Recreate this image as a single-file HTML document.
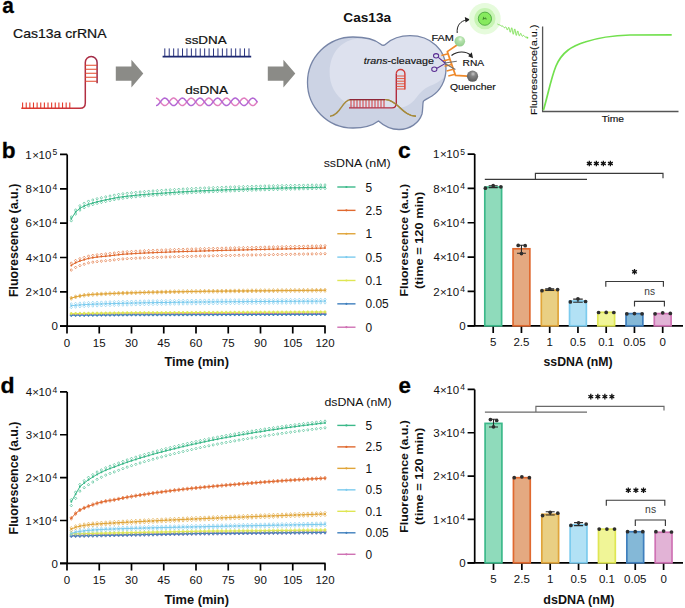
<!DOCTYPE html><html><head><meta charset="utf-8"><style>html,body{margin:0;padding:0;background:#fff;}svg{display:block;}</style></head><body><svg width="685" height="608" viewBox="0 0 685 608" font-family='"Liberation Sans", sans-serif' fill="#111">
<rect width="685" height="608" fill="#fff"/>
<g fill="#000">
<text x="0" y="0" font-size="22" transform="translate(2.29 13.4) scale(0.9463 1)" font-weight="bold" stroke="#111" stroke-width="0.3">a</text>
<text x="0" y="0" font-size="22" transform="translate(1.81 157.5) scale(1.0283 1)" font-weight="bold" stroke="#111" stroke-width="0.3">b</text>
<text x="0" y="0" font-size="22" transform="translate(397.91 157.6) scale(1.0343 1)" font-weight="bold" stroke="#111" stroke-width="0.3">c</text>
<text x="0" y="0" font-size="22" transform="translate(0.46 392.8) scale(1.0464 1)" font-weight="bold" stroke="#111" stroke-width="0.3">d</text>
<text x="0" y="0" font-size="22" transform="translate(398.43 392.9) scale(1.0166 1)" font-weight="bold" stroke="#111" stroke-width="0.3">e</text>
</g>
<defs><linearGradient id="crg" x1="0" y1="0" x2="1" y2="0"><stop offset="0" stop-color="#e23a2c"/><stop offset="0.7" stop-color="#c8333a"/><stop offset="1" stop-color="#9a2a4a"/></linearGradient><radialGradient id="famg" cx="0.55" cy="0.3" r="0.75"><stop offset="0" stop-color="#f0fbee"/><stop offset="0.3" stop-color="#b5e2ad"/><stop offset="1" stop-color="#8cc986"/></radialGradient><radialGradient id="qg" cx="0.55" cy="0.3" r="0.75"><stop offset="0" stop-color="#c8c8c8"/><stop offset="0.3" stop-color="#858585"/><stop offset="1" stop-color="#555"/></radialGradient><radialGradient id="glow" cx="0.5" cy="0.5" r="0.5"><stop offset="0" stop-color="#c2f3ad"/><stop offset="0.62" stop-color="#c9f5b8"/><stop offset="0.7" stop-color="#ddfad3"/><stop offset="1" stop-color="#eafce4"/></radialGradient></defs>
<text x="0" y="0" font-size="12" transform="translate(13.09 38.3) scale(1.1688 1)" stroke="#111" stroke-width="0.2">Cas13a crRNA</text>
<path d="M22.6 102.4V108.2M26.23 102.4V108.2M29.86 102.4V108.2M33.49 102.4V108.2M37.12 102.4V108.2M40.75 102.4V108.2M44.38 102.4V108.2M48.01 102.4V108.2M51.64 102.4V108.2M55.27 102.4V108.2M58.9 102.4V108.2M62.53 102.4V108.2M66.16 102.4V108.2M69.79 102.4V108.2" stroke="#e53b2b" stroke-width="1.1" fill="none"/>
<path d="M21.3 108.2H80 Q85.3 108.2 85.3 102.9V62.4 A5.9 5.9 0 0 1 97.1 62.4V83.2" stroke="url(#crg)" stroke-width="1.5" fill="none"/>
<path d="M85.3 65.2H97.1M85.3 69.2H97.1M85.3 73.2H97.1M85.3 77.2H97.1M85.3 81.2H97.1" stroke="#e5472b" stroke-width="1.1" fill="none"/>
<path d="M115.8 66.5H131.4V59.7L143.3 73.6L131.4 87.4V80.7H115.8Z" fill="#8b8b87"/>
<path d="M267.8 66.5H283.4V59.7L295.3 73.6L283.4 87.4V80.7H267.8Z" fill="#8b8b87"/>
<text x="0" y="0" font-size="11.6" transform="translate(184.93 43.9) scale(1.1582 1)" stroke="#111" stroke-width="0.2">ssDNA</text>
<path d="M164.8 48.4V56.5M169.23 48.4V56.5M173.66 48.4V56.5M178.09 48.4V56.5M182.52 48.4V56.5M186.95 48.4V56.5M191.38 48.4V56.5M195.81 48.4V56.5M200.24 48.4V56.5M204.67 48.4V56.5M209.1 48.4V56.5M213.53 48.4V56.5M217.96 48.4V56.5M222.39 48.4V56.5M226.82 48.4V56.5M231.25 48.4V56.5M235.68 48.4V56.5M240.11 48.4V56.5M244.54 48.4V56.5M248.97 48.4V56.5" stroke="#2a3480" stroke-width="1.0" fill="none"/>
<path d="M162.6 56.6H251.2" stroke="#1d2870" stroke-width="1.9"/>
<text x="0" y="0" font-size="11.6" transform="translate(185.13 94.2) scale(1.1730 1)" stroke="#111" stroke-width="0.2">dsDNA</text>
<polyline points="156,98.1 156.51,98.16 157.02,98.35 157.53,98.64 158.04,99.05 158.55,99.55 159.06,100.12 159.57,100.75 160.08,101.42 160.59,102.1 161.1,102.77 161.61,103.41 162.11,104 162.62,104.52 163.13,104.96 163.64,105.28 164.15,105.5 164.66,105.6 165.17,105.57 165.68,105.42 166.19,105.15 166.7,104.77 167.21,104.3 167.72,103.74 168.23,103.12 168.74,102.46 169.25,101.79 169.76,101.11 170.27,100.46 170.78,99.85 171.29,99.31 171.8,98.85 172.31,98.49 172.82,98.25 173.32,98.12 173.83,98.11 174.34,98.23 174.85,98.47 175.36,98.82 175.87,99.27 176.38,99.8 176.89,100.4 177.4,101.05 177.91,101.73 178.42,102.41 178.93,103.07 179.44,103.69 179.95,104.25 180.46,104.73 180.97,105.12 181.48,105.4 181.99,105.56 182.5,105.6 183.01,105.51 183.52,105.31 184.03,104.99 184.53,104.56 185.04,104.05 185.55,103.46 186.06,102.82 186.57,102.15 187.08,101.47 187.59,100.8 188.1,100.17 188.61,99.59 189.12,99.09 189.63,98.67 190.14,98.37 190.65,98.17 191.16,98.1 191.67,98.15 192.18,98.33 192.69,98.62 193.2,99.01 193.71,99.5 194.22,100.07 194.73,100.7 195.24,101.36 195.74,102.04 196.25,102.72 196.76,103.36 197.27,103.96 197.78,104.49 198.29,104.92 198.8,105.26 199.31,105.49 199.82,105.59 200.33,105.57 200.84,105.43 201.35,105.17 201.86,104.8 202.37,104.34 202.88,103.79 203.39,103.18 203.9,102.52 204.41,101.84 204.92,101.16 205.43,100.51 205.94,99.9 206.45,99.35 206.95,98.88 207.46,98.52 207.97,98.26 208.48,98.12 208.99,98.11 209.5,98.22 210.01,98.45 210.52,98.79 211.03,99.23 211.54,99.76 212.05,100.35 212.56,101 213.07,101.68 213.58,102.36 214.09,103.02 214.6,103.64 215.11,104.21 215.62,104.7 216.13,105.09 216.64,105.38 217.15,105.55 217.66,105.6 218.16,105.52 218.67,105.33 219.18,105.02 219.69,104.6 220.2,104.09 220.71,103.51 221.22,102.88 221.73,102.21 222.24,101.53 222.75,100.86 223.26,100.22 223.77,99.64 224.28,99.12 224.79,98.7 225.3,98.39 225.81,98.18 226.32,98.1 226.83,98.14 227.34,98.31 227.85,98.59 228.36,98.98 228.87,99.46 229.37,100.02 229.88,100.65 230.39,101.31 230.9,101.99 231.41,102.66 231.92,103.31 232.43,103.91 232.94,104.45 233.45,104.89 233.96,105.24 234.47,105.47 234.98,105.59 235.49,105.58 236,105.45 236.51,105.2 237.02,104.84 237.53,104.38 238.04,103.84 238.55,103.23 239.06,102.57 239.57,101.9 240.08,101.22 240.58,100.56 241.09,99.94 241.6,99.39 242.11,98.92 242.62,98.54 243.13,98.28 243.64,98.13 244.15,98.11 244.66,98.2 245.17,98.42 245.68,98.75 246.19,99.19 246.7,99.71 247.21,100.3 247.72,100.95 248.23,101.62 248.74,102.3 249.25,102.97 249.76,103.6 250.27,104.17 250.78,104.66 251.29,105.07 251.79,105.36 252.3,105.54 252.81,105.6 253.32,105.53 253.83,105.35 254.34,105.05 254.85,104.64 255.36,104.14 255.87,103.56 256.38,102.93 256.89,102.26 257.4,101.58" fill="none" stroke="#e07ec0" stroke-width="1.5"/>
<polyline points="156,105.6 156.51,105.54 157.02,105.35 157.53,105.06 158.04,104.65 158.55,104.15 159.06,103.58 159.57,102.95 160.08,102.28 160.59,101.6 161.1,100.93 161.61,100.29 162.11,99.7 162.62,99.18 163.13,98.74 163.64,98.42 164.15,98.2 164.66,98.1 165.17,98.13 165.68,98.28 166.19,98.55 166.7,98.93 167.21,99.4 167.72,99.96 168.23,100.58 168.74,101.24 169.25,101.91 169.76,102.59 170.27,103.24 170.78,103.85 171.29,104.39 171.8,104.85 172.31,105.21 172.82,105.45 173.32,105.58 173.83,105.59 174.34,105.47 174.85,105.23 175.36,104.88 175.87,104.43 176.38,103.9 176.89,103.3 177.4,102.65 177.91,101.97 178.42,101.29 178.93,100.63 179.44,100.01 179.95,99.45 180.46,98.97 180.97,98.58 181.48,98.3 181.99,98.14 182.5,98.1 183.01,98.19 183.52,98.39 184.03,98.71 184.53,99.14 185.04,99.65 185.55,100.24 186.06,100.88 186.57,101.55 187.08,102.23 187.59,102.9 188.1,103.53 188.61,104.11 189.12,104.61 189.63,105.03 190.14,105.33 190.65,105.53 191.16,105.6 191.67,105.55 192.18,105.37 192.69,105.08 193.2,104.69 193.71,104.2 194.22,103.63 194.73,103 195.24,102.34 195.74,101.66 196.25,100.98 196.76,100.34 197.27,99.74 197.78,99.21 198.29,98.78 198.8,98.44 199.31,98.21 199.82,98.11 200.33,98.13 200.84,98.27 201.35,98.53 201.86,98.9 202.37,99.36 202.88,99.91 203.39,100.52 203.9,101.18 204.41,101.86 204.92,102.54 205.43,103.19 205.94,103.8 206.45,104.35 206.95,104.82 207.46,105.18 207.97,105.44 208.48,105.58 208.99,105.59 209.5,105.48 210.01,105.25 210.52,104.91 211.03,104.47 211.54,103.94 212.05,103.35 212.56,102.7 213.07,102.02 213.58,101.34 214.09,100.68 214.6,100.06 215.11,99.49 215.62,99 216.13,98.61 216.64,98.32 217.15,98.15 217.66,98.1 218.16,98.18 218.67,98.37 219.18,98.68 219.69,99.1 220.2,99.61 220.71,100.19 221.22,100.82 221.73,101.49 222.24,102.17 222.75,102.84 223.26,103.48 223.77,104.06 224.28,104.58 224.79,105 225.3,105.31 225.81,105.52 226.32,105.6 226.83,105.56 227.34,105.39 227.85,105.11 228.36,104.72 228.87,104.24 229.37,103.68 229.88,103.05 230.39,102.39 230.9,101.71 231.41,101.04 231.92,100.39 232.43,99.79 232.94,99.25 233.45,98.81 233.96,98.46 234.47,98.23 234.98,98.11 235.49,98.12 236,98.25 236.51,98.5 237.02,98.86 237.53,99.32 238.04,99.86 238.55,100.47 239.06,101.13 239.57,101.8 240.08,102.48 240.58,103.14 241.09,103.76 241.6,104.31 242.11,104.78 242.62,105.16 243.13,105.42 243.64,105.57 244.15,105.59 244.66,105.5 245.17,105.28 245.68,104.95 246.19,104.51 246.7,103.99 247.21,103.4 247.72,102.75 248.23,102.08 248.74,101.4 249.25,100.73 249.76,100.1 250.27,99.53 250.78,99.04 251.29,98.63 251.79,98.34 252.3,98.16 252.81,98.1 253.32,98.17 253.83,98.35 254.34,98.65 254.85,99.06 255.36,99.56 255.87,100.14 256.38,100.77 256.89,101.44 257.4,102.12" fill="none" stroke="#b468d4" stroke-width="1.5"/>
<text x="0" y="0" font-size="12.4" transform="translate(343.34 22.4) scale(1.0998 1)" font-weight="bold">Cas13a</text>
<path d="M385.6 44.2 C392 38.5 400 35.7 410 35.7 C431 35.7 446 50 446 68.5 C446 81 440 91 432 96 C428 98.5 424 100 423.3 101.5 C422.5 104 423 110 422 114 C419 123 410 129.5 399 129.5 C391 129.5 384 126 378.5 121 C372 126 364 128 353 128 A45.5 45.5 0 0 1 353 37 C366 37 375 39.5 380.8 44.2 Q383.2 46.3 385.6 44.2 Z" fill="#ccd3e4"/>
<path d="M329.6 72 C330 52 342 40 358 38.5 C370 38 376 40.5 380.8 44.2 Q383.2 46.3 385.6 44.2 C392 38.5 400 35.7 410 35.7 C431 35.7 446 50 446 68.5 C446 74 444 78 441 80 C436 84 431 85 426 88 C419 92 416 100 410 104 C404 108 400 108 392 108.5 C375 110 355 108 345 102 C335 95 329.6 85 329.6 72 Z" fill="#dde1ee"/>
<path d="M385.6 44.2 C392 38.5 400 35.7 410 35.7 C431 35.7 446 50 446 68.5 C446 81 440 91 432 96 C428 98.5 424 100 423.3 101.5 C422.5 104 423 110 422 114 C419 123 410 129.5 399 129.5 C391 129.5 384 126 378.5 121 C372 126 364 128 353 128 A45.5 45.5 0 0 1 353 37 C366 37 375 39.5 380.8 44.2 Q383.2 46.3 385.6 44.2 Z" fill="none" stroke="#7785a7" stroke-width="1.3"/>
<path d="M351 100V107.5M354 100V107.5M357 100V107.5M360 100V107.5M363 100V107.5M366 100V107.5M369 100V107.5M372 100V107.5M375 100V107.5M378 100V107.5M381 100V107.5M384 100V107.5" stroke="#d4383a" stroke-width="1.0" fill="none"/>
<path d="M330 116.3 C341 115 342 99.6 351 99.6 L386 99.6 C397 99.6 403 116.3 416 116.3" stroke="#a68a3c" stroke-width="1.4" fill="none"/>
<path d="M349.5 99.6H385" stroke="#8f2638" stroke-width="1.3"/>
<path d="M349 107.9H392 Q396.3 107.9 396.3 103V73.8" stroke="#b02c40" stroke-width="1.4" fill="none"/><path d="M396.3 73.8 A4.3 4.3 0 0 1 404.9 73.8V89.4" stroke="#d23a36" stroke-width="1.4" fill="none"/>
<path d="M396.3 76H404.9M396.3 78.6H404.9M396.3 81.2H404.9M396.3 83.8H404.9M396.3 86.4H404.9M396.3 89H404.9" stroke="#e5472b" stroke-width="0.9" fill="none"/>
<path d="M386 99.6 C397 99.6 403 116.3 416 116.3" stroke="#a68a3c" stroke-width="1.4" fill="none"/>
<text x="0" y="0" font-size="9.6" transform="translate(363.74 63.9) scale(1.1171 1)" stroke="#111" stroke-width="0.15"><tspan font-style="italic">trans</tspan>-cleavage</text>
<path d="M457 45 L447.3 51.6 L455.5 75.4 L467.5 76.2" stroke="#ef8a2b" stroke-width="1.7" fill="none" stroke-linejoin="round"/>
<path d="M441.4 55.6L448.2 53.8M443 60.9L450 59.3M444.6 66.2L451.6 64.6M446.6 71L453.4 69.3M448.3 76L455.2 74.3" stroke="#ef8a2b" stroke-width="1.5" fill="none"/>
<circle cx="459.8" cy="41.3" r="5.3" fill="url(#famg)"/>
<circle cx="472.5" cy="76.2" r="5.6" fill="url(#qg)"/>
<text x="0" y="0" font-size="9.2" transform="translate(431.41 41.2) scale(1.1837 1)" stroke="#111" stroke-width="0.15">FAM</text>
<text x="0" y="0" font-size="9.2" transform="translate(462.56 66) scale(1.1152 1)" stroke="#111" stroke-width="0.15">RNA</text>
<text x="0" y="0" font-size="9.2" transform="translate(449.91 90) scale(1.1353 1)" stroke="#111" stroke-width="0.15">Quencher</text>
<path d="M457.2 33 C456.5 25.5 460.5 21 466.5 20" stroke="#222" stroke-width="1" fill="none"/>
<path d="M470 19.6 L464.8 17 L465.6 22.6Z" fill="#222"/>
<path d="M451.5 55.5 C457 51 466 50.5 471 55.5" stroke="#222" stroke-width="1.1" fill="none"/>
<path d="M473 58.3 L468.2 56.2 L471.8 52.3Z" fill="#222"/>
<path d="M444.9 63 L456.8 61.3 M444.9 63.6 L455.4 69.6" stroke="#6f6f6f" stroke-width="1.1" fill="none"/>
<g fill="none" stroke="#5b2e93" stroke-width="1.05"><ellipse cx="436.1" cy="55.8" rx="2.6" ry="2.2"/><ellipse cx="434.3" cy="69.2" rx="2.6" ry="2.2"/><path d="M438.3 57.4 L445 63 M437 68.3 L445 63.6"/></g>
<circle cx="484.9" cy="18.7" r="15.8" fill="#e6fbdc"/>
<circle cx="484.9" cy="18.7" r="10.6" fill="#c6f4b2"/>
<circle cx="484.9" cy="18.7" r="6.6" fill="#86ea5e" stroke="#3f9e34" stroke-width="0.8"/>
<path d="M483.4 17 H486.6 M485 17 V20.6 M485 18.8 H486.4" stroke="#1f5a14" stroke-width="0.55" fill="none" transform="rotate(-80 485 18.7)"/>
<polyline points="497.4,24 497.53,24.06 497.65,24.13 497.78,24.19 497.91,24.26 498.03,24.32 498.16,24.38 498.28,24.44 498.41,24.5 498.54,24.55 498.66,24.6 498.79,24.65 498.92,24.69 499.04,24.73 499.17,24.78 499.3,24.82 499.42,24.86 499.55,24.91 499.67,24.96 499.8,25.01 499.93,25.08 500.05,25.14 500.18,25.22 500.31,25.3 500.43,25.39 500.56,25.48 500.69,25.57 500.81,25.66 500.94,25.75 501.06,25.83 501.19,25.9 501.32,25.96 501.44,26.01 501.57,26.04 501.7,26.06 501.82,26.07 501.95,26.07 502.08,26.06 502.2,26.05 502.33,26.05 502.45,26.05 502.58,26.07 502.71,26.11 502.83,26.16 502.96,26.24 503.09,26.35 503.21,26.48 503.34,26.63 503.47,26.79 503.59,26.97 503.72,27.14 503.84,27.31 503.97,27.46 504.1,27.58 504.22,27.68 504.35,27.73 504.48,27.74 504.6,27.71 504.73,27.64 504.86,27.54 504.98,27.42 505.11,27.28 505.23,27.15 505.36,27.03 505.49,26.94 505.61,26.9 505.74,26.91 505.87,26.98 505.99,27.12 506.12,27.33 506.25,27.59 506.37,27.9 506.5,28.25 506.62,28.6 506.75,28.95 506.88,29.27 507,29.54 507.13,29.73 507.26,29.85 507.38,29.87 507.51,29.79 507.64,29.62 507.76,29.37 507.89,29.06 508.01,28.7 508.14,28.34 508.27,27.99 508.39,27.69 508.52,27.47 508.65,27.35 508.77,27.35 508.9,27.48 509.03,27.74 509.15,28.12 509.28,28.6 509.4,29.16 509.53,29.76 509.66,30.37 509.78,30.95 509.91,31.46 510.04,31.86 510.16,32.12 510.29,32.23 510.42,32.17 510.54,31.96 510.67,31.59 510.79,31.11 510.92,30.54 511.05,29.93 511.17,29.32 511.3,28.77 511.43,28.31 511.55,27.98 511.68,27.82 511.81,27.85 511.93,28.07 512.06,28.47 512.18,29.03 512.31,29.72 512.44,30.49 512.56,31.31 512.69,32.1 512.82,32.83 512.94,33.44 513.07,33.89 513.19,34.16 513.32,34.22 513.45,34.08 513.57,33.75 513.7,33.25 513.83,32.62 513.95,31.92 514.08,31.19 514.21,30.49 514.33,29.88 514.46,29.39 514.58,29.08 514.71,28.95 514.84,29.04 514.96,29.32 515.09,29.79 515.22,30.42 515.34,31.15 515.47,31.95 515.6,32.77 515.72,33.54 515.85,34.22 515.97,34.76 516.1,35.14 516.23,35.34 516.35,35.35 516.48,35.17 516.61,34.83 516.73,34.36 516.86,33.8 516.99,33.19 517.11,32.58 517.24,32.02 517.36,31.54 517.49,31.19 517.62,30.99 517.74,30.96 517.87,31.08 518,31.36 518.12,31.77 518.25,32.28 518.38,32.87 518.5,33.48 518.63,34.08 518.75,34.63 518.88,35.11 519.01,35.47 519.13,35.72 519.26,35.83 519.39,35.82 519.51,35.69 519.64,35.46 519.77,35.16 519.89,34.81 520.02,34.44 520.14,34.09 520.27,33.78 520.4,33.54 520.52,33.38 520.65,33.31 520.78,33.34 520.9,33.46 521.03,33.67 521.16,33.94 521.28,34.26 521.41,34.61 521.53,34.97 521.66,35.31 521.79,35.62 521.91,35.87 522.04,36.07 522.17,36.21 522.29,36.27 522.42,36.28 522.55,36.23 522.67,36.14 522.8,36.02 522.92,35.89 523.05,35.75 523.18,35.63 523.3,35.53 523.43,35.46 523.56,35.44 523.68,35.45 523.81,35.51 523.94,35.61 524.06,35.73 524.19,35.89 524.31,36.05 524.44,36.23 524.57,36.4 524.69,36.57 524.82,36.71 524.95,36.84 525.07,36.94 525.2,37.02 525.33,37.08 525.45,37.11 525.58,37.13 525.7,37.13 525.83,37.12 525.96,37.12 526.08,37.11 526.21,37.11 526.34,37.12 526.46,37.14 526.59,37.18 526.72,37.23 526.84,37.29 526.97,37.36 527.09,37.44 527.22,37.53 527.35,37.62 527.47,37.71 527.6,37.8" fill="none" stroke="#78e24e" stroke-width="1.0"/>
<circle cx="527.4" cy="37.7" r="0.9" fill="#78e24e"/>
<path d="M542.6 26.6V111.5H678.5" stroke="#555" stroke-width="1.3" fill="none"/>
<path d="M543.4 110.3 C548 95 551 78 556 66 C562 52 572 46 585 42 C600 37 612 35.5 630 35 L671.7 34.9" stroke="#72e04e" stroke-width="1.7" fill="none"/>
<text x="0" y="0" font-size="8.6" transform="translate(537.3 114.99) rotate(-90) scale(1.2617 1)" stroke="#111" stroke-width="0.1">Fluorescence(a.u.)</text>
<text x="0" y="0" font-size="9.2" transform="translate(601.67 121.5) scale(1.1146 1)" stroke="#111" stroke-width="0.15">Time</text>
<path d="M67.2 154.45V326.2M60 326.2H325.6" stroke="#000" stroke-width="1.7" fill="none"/><path d="M60 326.2H67.2M60 291.85H67.2M60 257.5H67.2M60 223.15H67.2M60 188.8H67.2M60 154.45H67.2M67 326.2V333.4M99.25 326.2V333.4M131.5 326.2V333.4M163.75 326.2V333.4M196 326.2V333.4M228.25 326.2V333.4M260.5 326.2V333.4M292.75 326.2V333.4M325 326.2V333.4" stroke="#000" stroke-width="1.7" fill="none"/><text x="57.85" y="330.4" font-size="11.5" text-anchor="end">0</text><text x="25.52 32.3 38.52 45.05" y="296.05" font-size="11.5">2×10</text><text x="52.6" y="292.85" font-size="8.5">4</text><text x="25.84 32.3 38.52 45.05" y="261.7" font-size="11.5">4×10</text><text x="52.6" y="258.5" font-size="8.5">4</text><text x="25.52 32.3 38.52 45.05" y="227.35" font-size="11.5">6×10</text><text x="52.6" y="224.15" font-size="8.5">4</text><text x="25.6 32.3 38.52 45.05" y="193" font-size="11.5">8×10</text><text x="52.6" y="189.8" font-size="8.5">4</text><text x="25.22 32.3 38.52 45.05" y="158.65" font-size="11.5">1×10</text><text x="52.46" y="155.45" font-size="8.5">5</text><text x="67" y="347" font-size="11.5" text-anchor="middle">0</text><text x="99.25" y="347" font-size="11.5" text-anchor="middle">15</text><text x="131.5" y="347" font-size="11.5" text-anchor="middle">30</text><text x="163.75" y="347" font-size="11.5" text-anchor="middle">45</text><text x="196" y="347" font-size="11.5" text-anchor="middle">60</text><text x="228.25" y="347" font-size="11.5" text-anchor="middle">75</text><text x="260.5" y="347" font-size="11.5" text-anchor="middle">90</text><text x="292.75" y="347" font-size="11.5" text-anchor="middle">105</text><text x="325" y="347" font-size="11.5" text-anchor="middle">120</text><text x="0" y="0" font-size="12.2" transform="translate(164.46 366.3) scale(1.0503 1)" font-weight="bold">Time (min)</text><text x="0" y="0" font-size="12" transform="translate(18.1 297.03) rotate(-90) scale(1.0364 1)" font-weight="bold">Fluorescence (a.u.)</text><text x="0" y="0" font-size="11.6" transform="translate(323.65 166.6) scale(1.0723 1)">ssDNA (nM)</text><path d="M337.3 187H355.5" stroke="#3cb98a" stroke-width="1.4"/><circle cx="346.4" cy="187" r="1.1" fill="#3cb98a"/><text x="365.6" y="191.6" font-size="11.9">5</text><path d="M337.3 210.37H355.5" stroke="#e0692f" stroke-width="1.4"/><circle cx="346.4" cy="210.37" r="1.1" fill="#e0692f"/><text x="365.6" y="214.97" font-size="11.9">2.5</text><path d="M337.3 233.74H355.5" stroke="#e0a53a" stroke-width="1.4"/><circle cx="346.4" cy="233.74" r="1.1" fill="#e0a53a"/><text x="365.6" y="238.34" font-size="11.9">1</text><path d="M337.3 257.11H355.5" stroke="#7ccbee" stroke-width="1.4"/><circle cx="346.4" cy="257.11" r="1.1" fill="#7ccbee"/><text x="365.6" y="261.71" font-size="11.9">0.5</text><path d="M337.3 280.48H355.5" stroke="#dfe653" stroke-width="1.4"/><circle cx="346.4" cy="280.48" r="1.1" fill="#dfe653"/><text x="365.6" y="285.08" font-size="11.9">0.1</text><path d="M337.3 303.85H355.5" stroke="#3f7fbd" stroke-width="1.4"/><circle cx="346.4" cy="303.85" r="1.1" fill="#3f7fbd"/><text x="365.6" y="308.45" font-size="11.9">0.05</text><path d="M337.3 327.22H355.5" stroke="#cf72b4" stroke-width="1.4"/><circle cx="346.4" cy="327.22" r="1.1" fill="#cf72b4"/><text x="365.6" y="331.82" font-size="11.9">0</text>
<path d="M70.15 314.09L71.3 312.74L72.45 314.09L71.3 315.44ZM74.45 314.06L75.6 312.71L76.75 314.06L75.6 315.41ZM78.75 314.03L79.9 312.68L81.05 314.03L79.9 315.38ZM83.05 313.99L84.2 312.64L85.35 313.99L84.2 315.34ZM87.35 313.96L88.5 312.61L89.65 313.96L88.5 315.31ZM91.65 313.93L92.8 312.58L93.95 313.93L92.8 315.28ZM95.95 313.89L97.1 312.54L98.25 313.89L97.1 315.24ZM100.25 313.86L101.4 312.51L102.55 313.86L101.4 315.21ZM104.55 313.83L105.7 312.48L106.85 313.83L105.7 315.18ZM108.85 313.79L110 312.44L111.15 313.79L110 315.14ZM113.15 313.76L114.3 312.41L115.45 313.76L114.3 315.11ZM117.45 313.73L118.6 312.38L119.75 313.73L118.6 315.08ZM121.75 313.69L122.9 312.34L124.05 313.69L122.9 315.04ZM126.05 313.66L127.2 312.31L128.35 313.66L127.2 315.01ZM130.35 313.63L131.5 312.28L132.65 313.63L131.5 314.98ZM134.65 313.62L135.8 312.27L136.95 313.62L135.8 314.97ZM138.95 313.61L140.1 312.26L141.25 313.61L140.1 314.96ZM143.25 313.6L144.4 312.25L145.55 313.6L144.4 314.95ZM147.55 313.59L148.7 312.24L149.85 313.59L148.7 314.94ZM151.85 313.58L153 312.23L154.15 313.58L153 314.93ZM156.15 313.57L157.3 312.22L158.45 313.57L157.3 314.92ZM160.45 313.56L161.6 312.21L162.75 313.56L161.6 314.91ZM164.75 313.55L165.9 312.2L167.05 313.55L165.9 314.9ZM169.05 313.54L170.2 312.19L171.35 313.54L170.2 314.89ZM173.35 313.53L174.5 312.18L175.65 313.53L174.5 314.88ZM177.65 313.52L178.8 312.17L179.95 313.52L178.8 314.87ZM181.95 313.51L183.1 312.16L184.25 313.51L183.1 314.86ZM186.25 313.5L187.4 312.15L188.55 313.5L187.4 314.85ZM190.55 313.49L191.7 312.14L192.85 313.49L191.7 314.84ZM194.85 313.48L196 312.13L197.15 313.48L196 314.83ZM199.15 313.48L200.3 312.13L201.45 313.48L200.3 314.83ZM203.45 313.47L204.6 312.12L205.75 313.47L204.6 314.82ZM207.75 313.46L208.9 312.11L210.05 313.46L208.9 314.81ZM212.05 313.45L213.2 312.1L214.35 313.45L213.2 314.8ZM216.35 313.44L217.5 312.09L218.65 313.44L217.5 314.79ZM220.65 313.43L221.8 312.08L222.95 313.43L221.8 314.78ZM224.95 313.42L226.1 312.07L227.25 313.42L226.1 314.77ZM229.25 313.41L230.4 312.06L231.55 313.41L230.4 314.76ZM233.55 313.4L234.7 312.05L235.85 313.4L234.7 314.75ZM237.85 313.39L239 312.04L240.15 313.39L239 314.74ZM242.15 313.38L243.3 312.03L244.45 313.38L243.3 314.73ZM246.45 313.37L247.6 312.02L248.75 313.37L247.6 314.72ZM250.75 313.36L251.9 312.01L253.05 313.36L251.9 314.71ZM255.05 313.35L256.2 312L257.35 313.35L256.2 314.7ZM259.35 313.34L260.5 311.99L261.65 313.34L260.5 314.69ZM263.65 313.33L264.8 311.98L265.95 313.33L264.8 314.68ZM267.95 313.32L269.1 311.97L270.25 313.32L269.1 314.67ZM272.25 313.31L273.4 311.96L274.55 313.31L273.4 314.66ZM276.55 313.3L277.7 311.95L278.85 313.3L277.7 314.65ZM280.85 313.29L282 311.94L283.15 313.29L282 314.64ZM285.15 313.28L286.3 311.93L287.45 313.28L286.3 314.63ZM289.45 313.27L290.6 311.92L291.75 313.27L290.6 314.62ZM293.75 313.27L294.9 311.92L296.05 313.27L294.9 314.62ZM298.05 313.26L299.2 311.91L300.35 313.26L299.2 314.61ZM302.35 313.25L303.5 311.9L304.65 313.25L303.5 314.6ZM306.65 313.24L307.8 311.89L308.95 313.24L307.8 314.59ZM310.95 313.23L312.1 311.88L313.25 313.23L312.1 314.58ZM315.25 313.22L316.4 311.87L317.55 313.22L316.4 314.57ZM319.55 313.21L320.7 311.86L321.85 313.21L320.7 314.56ZM323.85 313.2L325 311.85L326.15 313.2L325 314.55ZM70.15 314.5L71.3 313.15L72.45 314.5L71.3 315.85ZM74.45 314.47L75.6 313.12L76.75 314.47L75.6 315.82ZM78.75 314.44L79.9 313.09L81.05 314.44L79.9 315.79ZM83.05 314.4L84.2 313.05L85.35 314.4L84.2 315.75ZM87.35 314.37L88.5 313.02L89.65 314.37L88.5 315.72ZM91.65 314.34L92.8 312.99L93.95 314.34L92.8 315.69ZM95.95 314.31L97.1 312.96L98.25 314.31L97.1 315.66ZM100.25 314.27L101.4 312.92L102.55 314.27L101.4 315.62ZM104.55 314.24L105.7 312.89L106.85 314.24L105.7 315.59ZM108.85 314.21L110 312.86L111.15 314.21L110 315.56ZM113.15 314.17L114.3 312.82L115.45 314.17L114.3 315.52ZM117.45 314.14L118.6 312.79L119.75 314.14L118.6 315.49ZM121.75 314.11L122.9 312.76L124.05 314.11L122.9 315.46ZM126.05 314.07L127.2 312.72L128.35 314.07L127.2 315.42ZM130.35 314.04L131.5 312.69L132.65 314.04L131.5 315.39ZM134.65 314.03L135.8 312.68L136.95 314.03L135.8 315.38ZM138.95 314.02L140.1 312.67L141.25 314.02L140.1 315.37ZM143.25 314.01L144.4 312.66L145.55 314.01L144.4 315.36ZM147.55 314L148.7 312.65L149.85 314L148.7 315.35ZM151.85 313.99L153 312.64L154.15 313.99L153 315.34ZM156.15 313.98L157.3 312.63L158.45 313.98L157.3 315.33ZM160.45 313.97L161.6 312.62L162.75 313.97L161.6 315.32ZM164.75 313.96L165.9 312.61L167.05 313.96L165.9 315.31ZM169.05 313.95L170.2 312.6L171.35 313.95L170.2 315.3ZM173.35 313.94L174.5 312.59L175.65 313.94L174.5 315.29ZM177.65 313.94L178.8 312.59L179.95 313.94L178.8 315.29ZM181.95 313.93L183.1 312.58L184.25 313.93L183.1 315.28ZM186.25 313.92L187.4 312.57L188.55 313.92L187.4 315.27ZM190.55 313.91L191.7 312.56L192.85 313.91L191.7 315.26ZM194.85 313.9L196 312.55L197.15 313.9L196 315.25ZM199.15 313.89L200.3 312.54L201.45 313.89L200.3 315.24ZM203.45 313.88L204.6 312.53L205.75 313.88L204.6 315.23ZM207.75 313.87L208.9 312.52L210.05 313.87L208.9 315.22ZM212.05 313.86L213.2 312.51L214.35 313.86L213.2 315.21ZM216.35 313.85L217.5 312.5L218.65 313.85L217.5 315.2ZM220.65 313.84L221.8 312.49L222.95 313.84L221.8 315.19ZM224.95 313.83L226.1 312.48L227.25 313.83L226.1 315.18ZM229.25 313.82L230.4 312.47L231.55 313.82L230.4 315.17ZM233.55 313.81L234.7 312.46L235.85 313.81L234.7 315.16ZM237.85 313.8L239 312.45L240.15 313.8L239 315.15ZM242.15 313.79L243.3 312.44L244.45 313.79L243.3 315.14ZM246.45 313.78L247.6 312.43L248.75 313.78L247.6 315.13ZM250.75 313.77L251.9 312.42L253.05 313.77L251.9 315.12ZM255.05 313.76L256.2 312.41L257.35 313.76L256.2 315.11ZM259.35 313.75L260.5 312.4L261.65 313.75L260.5 315.1ZM263.65 313.74L264.8 312.39L265.95 313.74L264.8 315.09ZM267.95 313.73L269.1 312.38L270.25 313.73L269.1 315.08ZM272.25 313.73L273.4 312.38L274.55 313.73L273.4 315.08ZM276.55 313.72L277.7 312.37L278.85 313.72L277.7 315.07ZM280.85 313.71L282 312.36L283.15 313.71L282 315.06ZM285.15 313.7L286.3 312.35L287.45 313.7L286.3 315.05ZM289.45 313.69L290.6 312.34L291.75 313.69L290.6 315.04ZM293.75 313.68L294.9 312.33L296.05 313.68L294.9 315.03ZM298.05 313.67L299.2 312.32L300.35 313.67L299.2 315.02ZM302.35 313.66L303.5 312.31L304.65 313.66L303.5 315.01ZM306.65 313.65L307.8 312.3L308.95 313.65L307.8 315ZM310.95 313.64L312.1 312.29L313.25 313.64L312.1 314.99ZM315.25 313.63L316.4 312.28L317.55 313.63L316.4 314.98ZM319.55 313.62L320.7 312.27L321.85 313.62L320.7 314.97ZM323.85 313.61L325 312.26L326.15 313.61L325 314.96Z" fill="none" stroke="#cf72b4" stroke-width="0.65"/><polyline points="71.3,314.3 75.6,314.26 79.9,314.23 84.2,314.2 88.5,314.17 92.8,314.13 97.1,314.1 101.4,314.07 105.7,314.03 110,314 114.3,313.97 118.6,313.93 122.9,313.9 127.2,313.87 131.5,313.83 135.8,313.82 140.1,313.81 144.4,313.81 148.7,313.8 153,313.79 157.3,313.78 161.6,313.77 165.9,313.76 170.2,313.75 174.5,313.74 178.8,313.73 183.1,313.72 187.4,313.71 191.7,313.7 196,313.69 200.3,313.68 204.6,313.67 208.9,313.66 213.2,313.65 217.5,313.64 221.8,313.63 226.1,313.62 230.4,313.61 234.7,313.6 239,313.6 243.3,313.59 247.6,313.58 251.9,313.57 256.2,313.56 260.5,313.55 264.8,313.54 269.1,313.53 273.4,313.52 277.7,313.51 282,313.5 286.3,313.49 290.6,313.48 294.9,313.47 299.2,313.46 303.5,313.45 307.8,313.44 312.1,313.43 316.4,313.42 320.7,313.41 325,313.4" fill="none" stroke="#cf72b4" stroke-width="1.0"/><g fill="#cf72b4"><circle cx="71.3" cy="314.3" r="1.0"/><circle cx="75.6" cy="314.26" r="1.0"/><circle cx="79.9" cy="314.23" r="1.0"/><circle cx="84.2" cy="314.2" r="1.0"/><circle cx="88.5" cy="314.17" r="1.0"/><circle cx="92.8" cy="314.13" r="1.0"/><circle cx="97.1" cy="314.1" r="1.0"/><circle cx="101.4" cy="314.07" r="1.0"/><circle cx="105.7" cy="314.03" r="1.0"/><circle cx="110" cy="314" r="1.0"/><circle cx="114.3" cy="313.97" r="1.0"/><circle cx="118.6" cy="313.93" r="1.0"/><circle cx="122.9" cy="313.9" r="1.0"/><circle cx="127.2" cy="313.87" r="1.0"/><circle cx="131.5" cy="313.83" r="1.0"/><circle cx="135.8" cy="313.82" r="1.0"/><circle cx="140.1" cy="313.81" r="1.0"/><circle cx="144.4" cy="313.81" r="1.0"/><circle cx="148.7" cy="313.8" r="1.0"/><circle cx="153" cy="313.79" r="1.0"/><circle cx="157.3" cy="313.78" r="1.0"/><circle cx="161.6" cy="313.77" r="1.0"/><circle cx="165.9" cy="313.76" r="1.0"/><circle cx="170.2" cy="313.75" r="1.0"/><circle cx="174.5" cy="313.74" r="1.0"/><circle cx="178.8" cy="313.73" r="1.0"/><circle cx="183.1" cy="313.72" r="1.0"/><circle cx="187.4" cy="313.71" r="1.0"/><circle cx="191.7" cy="313.7" r="1.0"/><circle cx="196" cy="313.69" r="1.0"/><circle cx="200.3" cy="313.68" r="1.0"/><circle cx="204.6" cy="313.67" r="1.0"/><circle cx="208.9" cy="313.66" r="1.0"/><circle cx="213.2" cy="313.65" r="1.0"/><circle cx="217.5" cy="313.64" r="1.0"/><circle cx="221.8" cy="313.63" r="1.0"/><circle cx="226.1" cy="313.62" r="1.0"/><circle cx="230.4" cy="313.61" r="1.0"/><circle cx="234.7" cy="313.6" r="1.0"/><circle cx="239" cy="313.6" r="1.0"/><circle cx="243.3" cy="313.59" r="1.0"/><circle cx="247.6" cy="313.58" r="1.0"/><circle cx="251.9" cy="313.57" r="1.0"/><circle cx="256.2" cy="313.56" r="1.0"/><circle cx="260.5" cy="313.55" r="1.0"/><circle cx="264.8" cy="313.54" r="1.0"/><circle cx="269.1" cy="313.53" r="1.0"/><circle cx="273.4" cy="313.52" r="1.0"/><circle cx="277.7" cy="313.51" r="1.0"/><circle cx="282" cy="313.5" r="1.0"/><circle cx="286.3" cy="313.49" r="1.0"/><circle cx="290.6" cy="313.48" r="1.0"/><circle cx="294.9" cy="313.47" r="1.0"/><circle cx="299.2" cy="313.46" r="1.0"/><circle cx="303.5" cy="313.45" r="1.0"/><circle cx="307.8" cy="313.44" r="1.0"/><circle cx="312.1" cy="313.43" r="1.0"/><circle cx="316.4" cy="313.42" r="1.0"/><circle cx="320.7" cy="313.41" r="1.0"/><circle cx="325" cy="313.4" r="1.0"/></g>
<path d="M70.15 315.09L71.3 313.74L72.45 315.09L71.3 316.44ZM74.45 315.05L75.6 313.7L76.75 315.05L75.6 316.4ZM78.75 315.01L79.9 313.66L81.05 315.01L79.9 316.36ZM83.05 314.98L84.2 313.63L85.35 314.98L84.2 316.33ZM87.35 314.94L88.5 313.59L89.65 314.94L88.5 316.29ZM91.65 314.9L92.8 313.55L93.95 314.9L92.8 316.25ZM95.95 314.87L97.1 313.52L98.25 314.87L97.1 316.22ZM100.25 314.83L101.4 313.48L102.55 314.83L101.4 316.18ZM104.55 314.79L105.7 313.44L106.85 314.79L105.7 316.14ZM108.85 314.76L110 313.41L111.15 314.76L110 316.11ZM113.15 314.72L114.3 313.37L115.45 314.72L114.3 316.07ZM117.45 314.68L118.6 313.33L119.75 314.68L118.6 316.03ZM121.75 314.65L122.9 313.3L124.05 314.65L122.9 316ZM126.05 314.61L127.2 313.26L128.35 314.61L127.2 315.96ZM130.35 314.57L131.5 313.22L132.65 314.57L131.5 315.92ZM134.65 314.56L135.8 313.21L136.95 314.56L135.8 315.91ZM138.95 314.55L140.1 313.2L141.25 314.55L140.1 315.9ZM143.25 314.54L144.4 313.19L145.55 314.54L144.4 315.89ZM147.55 314.53L148.7 313.18L149.85 314.53L148.7 315.88ZM151.85 314.52L153 313.17L154.15 314.52L153 315.87ZM156.15 314.51L157.3 313.16L158.45 314.51L157.3 315.86ZM160.45 314.5L161.6 313.15L162.75 314.5L161.6 315.85ZM164.75 314.49L165.9 313.14L167.05 314.49L165.9 315.84ZM169.05 314.48L170.2 313.13L171.35 314.48L170.2 315.83ZM173.35 314.47L174.5 313.12L175.65 314.47L174.5 315.82ZM177.65 314.45L178.8 313.1L179.95 314.45L178.8 315.8ZM181.95 314.44L183.1 313.09L184.25 314.44L183.1 315.79ZM186.25 314.43L187.4 313.08L188.55 314.43L187.4 315.78ZM190.55 314.42L191.7 313.07L192.85 314.42L191.7 315.77ZM194.85 314.41L196 313.06L197.15 314.41L196 315.76ZM199.15 314.4L200.3 313.05L201.45 314.4L200.3 315.75ZM203.45 314.39L204.6 313.04L205.75 314.39L204.6 315.74ZM207.75 314.38L208.9 313.03L210.05 314.38L208.9 315.73ZM212.05 314.37L213.2 313.02L214.35 314.37L213.2 315.72ZM216.35 314.36L217.5 313.01L218.65 314.36L217.5 315.71ZM220.65 314.35L221.8 313L222.95 314.35L221.8 315.7ZM224.95 314.34L226.1 312.99L227.25 314.34L226.1 315.69ZM229.25 314.33L230.4 312.98L231.55 314.33L230.4 315.68ZM233.55 314.32L234.7 312.97L235.85 314.32L234.7 315.67ZM237.85 314.31L239 312.96L240.15 314.31L239 315.66ZM242.15 314.29L243.3 312.94L244.45 314.29L243.3 315.64ZM246.45 314.28L247.6 312.93L248.75 314.28L247.6 315.63ZM250.75 314.27L251.9 312.92L253.05 314.27L251.9 315.62ZM255.05 314.26L256.2 312.91L257.35 314.26L256.2 315.61ZM259.35 314.25L260.5 312.9L261.65 314.25L260.5 315.6ZM263.65 314.24L264.8 312.89L265.95 314.24L264.8 315.59ZM267.95 314.23L269.1 312.88L270.25 314.23L269.1 315.58ZM272.25 314.22L273.4 312.87L274.55 314.22L273.4 315.57ZM276.55 314.21L277.7 312.86L278.85 314.21L277.7 315.56ZM280.85 314.2L282 312.85L283.15 314.2L282 315.55ZM285.15 314.19L286.3 312.84L287.45 314.19L286.3 315.54ZM289.45 314.18L290.6 312.83L291.75 314.18L290.6 315.53ZM293.75 314.17L294.9 312.82L296.05 314.17L294.9 315.52ZM298.05 314.16L299.2 312.81L300.35 314.16L299.2 315.51ZM302.35 314.15L303.5 312.8L304.65 314.15L303.5 315.5ZM306.65 314.13L307.8 312.78L308.95 314.13L307.8 315.48ZM310.95 314.12L312.1 312.77L313.25 314.12L312.1 315.47ZM315.25 314.11L316.4 312.76L317.55 314.11L316.4 315.46ZM319.55 314.1L320.7 312.75L321.85 314.1L320.7 315.45ZM323.85 314.09L325 312.74L326.15 314.09L325 315.44ZM70.15 315.5L71.3 314.15L72.45 315.5L71.3 316.85ZM74.45 315.46L75.6 314.11L76.75 315.46L75.6 316.81ZM78.75 315.43L79.9 314.08L81.05 315.43L79.9 316.78ZM83.05 315.39L84.2 314.04L85.35 315.39L84.2 316.74ZM87.35 315.35L88.5 314L89.65 315.35L88.5 316.7ZM91.65 315.32L92.8 313.97L93.95 315.32L92.8 316.67ZM95.95 315.28L97.1 313.93L98.25 315.28L97.1 316.63ZM100.25 315.24L101.4 313.89L102.55 315.24L101.4 316.59ZM104.55 315.21L105.7 313.86L106.85 315.21L105.7 316.56ZM108.85 315.17L110 313.82L111.15 315.17L110 316.52ZM113.15 315.13L114.3 313.78L115.45 315.13L114.3 316.48ZM117.45 315.1L118.6 313.75L119.75 315.1L118.6 316.45ZM121.75 315.06L122.9 313.71L124.05 315.06L122.9 316.41ZM126.05 315.02L127.2 313.67L128.35 315.02L127.2 316.37ZM130.35 314.98L131.5 313.63L132.65 314.98L131.5 316.33ZM134.65 314.97L135.8 313.62L136.95 314.97L135.8 316.32ZM138.95 314.96L140.1 313.61L141.25 314.96L140.1 316.31ZM143.25 314.95L144.4 313.6L145.55 314.95L144.4 316.3ZM147.55 314.94L148.7 313.59L149.85 314.94L148.7 316.29ZM151.85 314.93L153 313.58L154.15 314.93L153 316.28ZM156.15 314.92L157.3 313.57L158.45 314.92L157.3 316.27ZM160.45 314.91L161.6 313.56L162.75 314.91L161.6 316.26ZM164.75 314.9L165.9 313.55L167.05 314.9L165.9 316.25ZM169.05 314.89L170.2 313.54L171.35 314.89L170.2 316.24ZM173.35 314.88L174.5 313.53L175.65 314.88L174.5 316.23ZM177.65 314.87L178.8 313.52L179.95 314.87L178.8 316.22ZM181.95 314.86L183.1 313.51L184.25 314.86L183.1 316.21ZM186.25 314.85L187.4 313.5L188.55 314.85L187.4 316.2ZM190.55 314.84L191.7 313.49L192.85 314.84L191.7 316.19ZM194.85 314.82L196 313.47L197.15 314.82L196 316.17ZM199.15 314.81L200.3 313.46L201.45 314.81L200.3 316.16ZM203.45 314.8L204.6 313.45L205.75 314.8L204.6 316.15ZM207.75 314.79L208.9 313.44L210.05 314.79L208.9 316.14ZM212.05 314.78L213.2 313.43L214.35 314.78L213.2 316.13ZM216.35 314.77L217.5 313.42L218.65 314.77L217.5 316.12ZM220.65 314.76L221.8 313.41L222.95 314.76L221.8 316.11ZM224.95 314.75L226.1 313.4L227.25 314.75L226.1 316.1ZM229.25 314.74L230.4 313.39L231.55 314.74L230.4 316.09ZM233.55 314.73L234.7 313.38L235.85 314.73L234.7 316.08ZM237.85 314.72L239 313.37L240.15 314.72L239 316.07ZM242.15 314.71L243.3 313.36L244.45 314.71L243.3 316.06ZM246.45 314.7L247.6 313.35L248.75 314.7L247.6 316.05ZM250.75 314.69L251.9 313.34L253.05 314.69L251.9 316.04ZM255.05 314.67L256.2 313.32L257.35 314.67L256.2 316.02ZM259.35 314.66L260.5 313.31L261.65 314.66L260.5 316.01ZM263.65 314.65L264.8 313.3L265.95 314.65L264.8 316ZM267.95 314.64L269.1 313.29L270.25 314.64L269.1 315.99ZM272.25 314.63L273.4 313.28L274.55 314.63L273.4 315.98ZM276.55 314.62L277.7 313.27L278.85 314.62L277.7 315.97ZM280.85 314.61L282 313.26L283.15 314.61L282 315.96ZM285.15 314.6L286.3 313.25L287.45 314.6L286.3 315.95ZM289.45 314.59L290.6 313.24L291.75 314.59L290.6 315.94ZM293.75 314.58L294.9 313.23L296.05 314.58L294.9 315.93ZM298.05 314.57L299.2 313.22L300.35 314.57L299.2 315.92ZM302.35 314.56L303.5 313.21L304.65 314.56L303.5 315.91ZM306.65 314.55L307.8 313.2L308.95 314.55L307.8 315.9ZM310.95 314.54L312.1 313.19L313.25 314.54L312.1 315.89ZM315.25 314.53L316.4 313.18L317.55 314.53L316.4 315.88ZM319.55 314.51L320.7 313.16L321.85 314.51L320.7 315.86ZM323.85 314.5L325 313.15L326.15 314.5L325 315.85Z" fill="none" stroke="#3f7fbd" stroke-width="0.65"/><polyline points="71.3,315.29 75.6,315.26 79.9,315.22 84.2,315.18 88.5,315.15 92.8,315.11 97.1,315.07 101.4,315.04 105.7,315 110,314.96 114.3,314.93 118.6,314.89 122.9,314.85 127.2,314.82 131.5,314.78 135.8,314.77 140.1,314.76 144.4,314.75 148.7,314.74 153,314.73 157.3,314.71 161.6,314.7 165.9,314.69 170.2,314.68 174.5,314.67 178.8,314.66 183.1,314.65 187.4,314.64 191.7,314.63 196,314.62 200.3,314.61 204.6,314.6 208.9,314.59 213.2,314.58 217.5,314.56 221.8,314.55 226.1,314.54 230.4,314.53 234.7,314.52 239,314.51 243.3,314.5 247.6,314.49 251.9,314.48 256.2,314.47 260.5,314.46 264.8,314.45 269.1,314.44 273.4,314.43 277.7,314.42 282,314.4 286.3,314.39 290.6,314.38 294.9,314.37 299.2,314.36 303.5,314.35 307.8,314.34 312.1,314.33 316.4,314.32 320.7,314.31 325,314.3" fill="none" stroke="#3f7fbd" stroke-width="1.0"/><g fill="#3f7fbd"><circle cx="71.3" cy="315.29" r="1.0"/><circle cx="75.6" cy="315.26" r="1.0"/><circle cx="79.9" cy="315.22" r="1.0"/><circle cx="84.2" cy="315.18" r="1.0"/><circle cx="88.5" cy="315.15" r="1.0"/><circle cx="92.8" cy="315.11" r="1.0"/><circle cx="97.1" cy="315.07" r="1.0"/><circle cx="101.4" cy="315.04" r="1.0"/><circle cx="105.7" cy="315" r="1.0"/><circle cx="110" cy="314.96" r="1.0"/><circle cx="114.3" cy="314.93" r="1.0"/><circle cx="118.6" cy="314.89" r="1.0"/><circle cx="122.9" cy="314.85" r="1.0"/><circle cx="127.2" cy="314.82" r="1.0"/><circle cx="131.5" cy="314.78" r="1.0"/><circle cx="135.8" cy="314.77" r="1.0"/><circle cx="140.1" cy="314.76" r="1.0"/><circle cx="144.4" cy="314.75" r="1.0"/><circle cx="148.7" cy="314.74" r="1.0"/><circle cx="153" cy="314.73" r="1.0"/><circle cx="157.3" cy="314.71" r="1.0"/><circle cx="161.6" cy="314.7" r="1.0"/><circle cx="165.9" cy="314.69" r="1.0"/><circle cx="170.2" cy="314.68" r="1.0"/><circle cx="174.5" cy="314.67" r="1.0"/><circle cx="178.8" cy="314.66" r="1.0"/><circle cx="183.1" cy="314.65" r="1.0"/><circle cx="187.4" cy="314.64" r="1.0"/><circle cx="191.7" cy="314.63" r="1.0"/><circle cx="196" cy="314.62" r="1.0"/><circle cx="200.3" cy="314.61" r="1.0"/><circle cx="204.6" cy="314.6" r="1.0"/><circle cx="208.9" cy="314.59" r="1.0"/><circle cx="213.2" cy="314.58" r="1.0"/><circle cx="217.5" cy="314.56" r="1.0"/><circle cx="221.8" cy="314.55" r="1.0"/><circle cx="226.1" cy="314.54" r="1.0"/><circle cx="230.4" cy="314.53" r="1.0"/><circle cx="234.7" cy="314.52" r="1.0"/><circle cx="239" cy="314.51" r="1.0"/><circle cx="243.3" cy="314.5" r="1.0"/><circle cx="247.6" cy="314.49" r="1.0"/><circle cx="251.9" cy="314.48" r="1.0"/><circle cx="256.2" cy="314.47" r="1.0"/><circle cx="260.5" cy="314.46" r="1.0"/><circle cx="264.8" cy="314.45" r="1.0"/><circle cx="269.1" cy="314.44" r="1.0"/><circle cx="273.4" cy="314.43" r="1.0"/><circle cx="277.7" cy="314.42" r="1.0"/><circle cx="282" cy="314.4" r="1.0"/><circle cx="286.3" cy="314.39" r="1.0"/><circle cx="290.6" cy="314.38" r="1.0"/><circle cx="294.9" cy="314.37" r="1.0"/><circle cx="299.2" cy="314.36" r="1.0"/><circle cx="303.5" cy="314.35" r="1.0"/><circle cx="307.8" cy="314.34" r="1.0"/><circle cx="312.1" cy="314.33" r="1.0"/><circle cx="316.4" cy="314.32" r="1.0"/><circle cx="320.7" cy="314.31" r="1.0"/><circle cx="325" cy="314.3" r="1.0"/></g>
<path d="M70.15 313.34L71.3 311.99L72.45 313.34L71.3 314.69ZM74.45 313.28L75.6 311.93L76.75 313.28L75.6 314.63ZM78.75 313.22L79.9 311.87L81.05 313.22L79.9 314.57ZM83.05 313.17L84.2 311.82L85.35 313.17L84.2 314.52ZM87.35 313.11L88.5 311.76L89.65 313.11L88.5 314.46ZM91.65 313.05L92.8 311.7L93.95 313.05L92.8 314.4ZM95.95 313L97.1 311.65L98.25 313L97.1 314.35ZM100.25 312.94L101.4 311.59L102.55 312.94L101.4 314.29ZM104.55 312.88L105.7 311.53L106.85 312.88L105.7 314.23ZM108.85 312.83L110 311.48L111.15 312.83L110 314.18ZM113.15 312.77L114.3 311.42L115.45 312.77L114.3 314.12ZM117.45 312.72L118.6 311.37L119.75 312.72L118.6 314.07ZM121.75 312.66L122.9 311.31L124.05 312.66L122.9 314.01ZM126.05 312.6L127.2 311.25L128.35 312.6L127.2 313.95ZM130.35 312.55L131.5 311.2L132.65 312.55L131.5 313.9ZM134.65 312.53L135.8 311.18L136.95 312.53L135.8 313.88ZM138.95 312.51L140.1 311.16L141.25 312.51L140.1 313.86ZM143.25 312.49L144.4 311.14L145.55 312.49L144.4 313.84ZM147.55 312.47L148.7 311.12L149.85 312.47L148.7 313.82ZM151.85 312.46L153 311.11L154.15 312.46L153 313.81ZM156.15 312.44L157.3 311.09L158.45 312.44L157.3 313.79ZM160.45 312.42L161.6 311.07L162.75 312.42L161.6 313.77ZM164.75 312.4L165.9 311.05L167.05 312.4L165.9 313.75ZM169.05 312.38L170.2 311.03L171.35 312.38L170.2 313.73ZM173.35 312.37L174.5 311.02L175.65 312.37L174.5 313.72ZM177.65 312.35L178.8 311L179.95 312.35L178.8 313.7ZM181.95 312.33L183.1 310.98L184.25 312.33L183.1 313.68ZM186.25 312.31L187.4 310.96L188.55 312.31L187.4 313.66ZM190.55 312.29L191.7 310.94L192.85 312.29L191.7 313.64ZM194.85 312.28L196 310.93L197.15 312.28L196 313.63ZM199.15 312.26L200.3 310.91L201.45 312.26L200.3 313.61ZM203.45 312.24L204.6 310.89L205.75 312.24L204.6 313.59ZM207.75 312.22L208.9 310.87L210.05 312.22L208.9 313.57ZM212.05 312.21L213.2 310.86L214.35 312.21L213.2 313.56ZM216.35 312.19L217.5 310.84L218.65 312.19L217.5 313.54ZM220.65 312.17L221.8 310.82L222.95 312.17L221.8 313.52ZM224.95 312.15L226.1 310.8L227.25 312.15L226.1 313.5ZM229.25 312.13L230.4 310.78L231.55 312.13L230.4 313.48ZM233.55 312.12L234.7 310.77L235.85 312.12L234.7 313.47ZM237.85 312.1L239 310.75L240.15 312.1L239 313.45ZM242.15 312.08L243.3 310.73L244.45 312.08L243.3 313.43ZM246.45 312.06L247.6 310.71L248.75 312.06L247.6 313.41ZM250.75 312.04L251.9 310.69L253.05 312.04L251.9 313.39ZM255.05 312.03L256.2 310.68L257.35 312.03L256.2 313.38ZM259.35 312.01L260.5 310.66L261.65 312.01L260.5 313.36ZM263.65 311.99L264.8 310.64L265.95 311.99L264.8 313.34ZM267.95 311.97L269.1 310.62L270.25 311.97L269.1 313.32ZM272.25 311.95L273.4 310.6L274.55 311.95L273.4 313.3ZM276.55 311.94L277.7 310.59L278.85 311.94L277.7 313.29ZM280.85 311.92L282 310.57L283.15 311.92L282 313.27ZM285.15 311.9L286.3 310.55L287.45 311.9L286.3 313.25ZM289.45 311.88L290.6 310.53L291.75 311.88L290.6 313.23ZM293.75 311.86L294.9 310.51L296.05 311.86L294.9 313.21ZM298.05 311.85L299.2 310.5L300.35 311.85L299.2 313.2ZM302.35 311.83L303.5 310.48L304.65 311.83L303.5 313.18ZM306.65 311.81L307.8 310.46L308.95 311.81L307.8 313.16ZM310.95 311.79L312.1 310.44L313.25 311.79L312.1 313.14ZM315.25 311.77L316.4 310.42L317.55 311.77L316.4 313.12ZM319.55 311.76L320.7 310.41L321.85 311.76L320.7 313.11ZM323.85 311.74L325 310.39L326.15 311.74L325 313.09ZM70.15 313.85L71.3 312.5L72.45 313.85L71.3 315.2ZM74.45 313.79L75.6 312.44L76.75 313.79L75.6 315.14ZM78.75 313.74L79.9 312.39L81.05 313.74L79.9 315.09ZM83.05 313.68L84.2 312.33L85.35 313.68L84.2 315.03ZM87.35 313.63L88.5 312.28L89.65 313.63L88.5 314.98ZM91.65 313.57L92.8 312.22L93.95 313.57L92.8 314.92ZM95.95 313.51L97.1 312.16L98.25 313.51L97.1 314.86ZM100.25 313.46L101.4 312.11L102.55 313.46L101.4 314.81ZM104.55 313.4L105.7 312.05L106.85 313.4L105.7 314.75ZM108.85 313.34L110 311.99L111.15 313.34L110 314.69ZM113.15 313.29L114.3 311.94L115.45 313.29L114.3 314.64ZM117.45 313.23L118.6 311.88L119.75 313.23L118.6 314.58ZM121.75 313.17L122.9 311.82L124.05 313.17L122.9 314.52ZM126.05 313.12L127.2 311.77L128.35 313.12L127.2 314.47ZM130.35 313.06L131.5 311.71L132.65 313.06L131.5 314.41ZM134.65 313.04L135.8 311.69L136.95 313.04L135.8 314.39ZM138.95 313.03L140.1 311.68L141.25 313.03L140.1 314.38ZM143.25 313.01L144.4 311.66L145.55 313.01L144.4 314.36ZM147.55 312.99L148.7 311.64L149.85 312.99L148.7 314.34ZM151.85 312.97L153 311.62L154.15 312.97L153 314.32ZM156.15 312.95L157.3 311.6L158.45 312.95L157.3 314.3ZM160.45 312.94L161.6 311.59L162.75 312.94L161.6 314.29ZM164.75 312.92L165.9 311.57L167.05 312.92L165.9 314.27ZM169.05 312.9L170.2 311.55L171.35 312.9L170.2 314.25ZM173.35 312.88L174.5 311.53L175.65 312.88L174.5 314.23ZM177.65 312.86L178.8 311.51L179.95 312.86L178.8 314.21ZM181.95 312.85L183.1 311.5L184.25 312.85L183.1 314.2ZM186.25 312.83L187.4 311.48L188.55 312.83L187.4 314.18ZM190.55 312.81L191.7 311.46L192.85 312.81L191.7 314.16ZM194.85 312.79L196 311.44L197.15 312.79L196 314.14ZM199.15 312.77L200.3 311.42L201.45 312.77L200.3 314.12ZM203.45 312.76L204.6 311.41L205.75 312.76L204.6 314.11ZM207.75 312.74L208.9 311.39L210.05 312.74L208.9 314.09ZM212.05 312.72L213.2 311.37L214.35 312.72L213.2 314.07ZM216.35 312.7L217.5 311.35L218.65 312.7L217.5 314.05ZM220.65 312.68L221.8 311.33L222.95 312.68L221.8 314.03ZM224.95 312.67L226.1 311.32L227.25 312.67L226.1 314.02ZM229.25 312.65L230.4 311.3L231.55 312.65L230.4 314ZM233.55 312.63L234.7 311.28L235.85 312.63L234.7 313.98ZM237.85 312.61L239 311.26L240.15 312.61L239 313.96ZM242.15 312.59L243.3 311.24L244.45 312.59L243.3 313.94ZM246.45 312.58L247.6 311.23L248.75 312.58L247.6 313.93ZM250.75 312.56L251.9 311.21L253.05 312.56L251.9 313.91ZM255.05 312.54L256.2 311.19L257.35 312.54L256.2 313.89ZM259.35 312.52L260.5 311.17L261.65 312.52L260.5 313.87ZM263.65 312.51L264.8 311.16L265.95 312.51L264.8 313.86ZM267.95 312.49L269.1 311.14L270.25 312.49L269.1 313.84ZM272.25 312.47L273.4 311.12L274.55 312.47L273.4 313.82ZM276.55 312.45L277.7 311.1L278.85 312.45L277.7 313.8ZM280.85 312.43L282 311.08L283.15 312.43L282 313.78ZM285.15 312.42L286.3 311.07L287.45 312.42L286.3 313.77ZM289.45 312.4L290.6 311.05L291.75 312.4L290.6 313.75ZM293.75 312.38L294.9 311.03L296.05 312.38L294.9 313.73ZM298.05 312.36L299.2 311.01L300.35 312.36L299.2 313.71ZM302.35 312.34L303.5 310.99L304.65 312.34L303.5 313.69ZM306.65 312.33L307.8 310.98L308.95 312.33L307.8 313.68ZM310.95 312.31L312.1 310.96L313.25 312.31L312.1 313.66ZM315.25 312.29L316.4 310.94L317.55 312.29L316.4 313.64ZM319.55 312.27L320.7 310.92L321.85 312.27L320.7 313.62ZM323.85 312.25L325 310.9L326.15 312.25L325 313.6Z" fill="none" stroke="#dfe653" stroke-width="0.65"/><polyline points="71.3,313.59 75.6,313.54 79.9,313.48 84.2,313.42 88.5,313.37 92.8,313.31 97.1,313.25 101.4,313.2 105.7,313.14 110,313.09 114.3,313.03 118.6,312.97 122.9,312.92 127.2,312.86 131.5,312.8 135.8,312.79 140.1,312.77 144.4,312.75 148.7,312.73 153,312.71 157.3,312.7 161.6,312.68 165.9,312.66 170.2,312.64 174.5,312.62 178.8,312.61 183.1,312.59 187.4,312.57 191.7,312.55 196,312.53 200.3,312.52 204.6,312.5 208.9,312.48 213.2,312.46 217.5,312.44 221.8,312.43 226.1,312.41 230.4,312.39 234.7,312.37 239,312.36 243.3,312.34 247.6,312.32 251.9,312.3 256.2,312.28 260.5,312.27 264.8,312.25 269.1,312.23 273.4,312.21 277.7,312.19 282,312.18 286.3,312.16 290.6,312.14 294.9,312.12 299.2,312.1 303.5,312.09 307.8,312.07 312.1,312.05 316.4,312.03 320.7,312.01 325,312" fill="none" stroke="#dfe653" stroke-width="1.0"/><g fill="#dfe653"><circle cx="71.3" cy="313.59" r="1.0"/><circle cx="75.6" cy="313.54" r="1.0"/><circle cx="79.9" cy="313.48" r="1.0"/><circle cx="84.2" cy="313.42" r="1.0"/><circle cx="88.5" cy="313.37" r="1.0"/><circle cx="92.8" cy="313.31" r="1.0"/><circle cx="97.1" cy="313.25" r="1.0"/><circle cx="101.4" cy="313.2" r="1.0"/><circle cx="105.7" cy="313.14" r="1.0"/><circle cx="110" cy="313.09" r="1.0"/><circle cx="114.3" cy="313.03" r="1.0"/><circle cx="118.6" cy="312.97" r="1.0"/><circle cx="122.9" cy="312.92" r="1.0"/><circle cx="127.2" cy="312.86" r="1.0"/><circle cx="131.5" cy="312.8" r="1.0"/><circle cx="135.8" cy="312.79" r="1.0"/><circle cx="140.1" cy="312.77" r="1.0"/><circle cx="144.4" cy="312.75" r="1.0"/><circle cx="148.7" cy="312.73" r="1.0"/><circle cx="153" cy="312.71" r="1.0"/><circle cx="157.3" cy="312.7" r="1.0"/><circle cx="161.6" cy="312.68" r="1.0"/><circle cx="165.9" cy="312.66" r="1.0"/><circle cx="170.2" cy="312.64" r="1.0"/><circle cx="174.5" cy="312.62" r="1.0"/><circle cx="178.8" cy="312.61" r="1.0"/><circle cx="183.1" cy="312.59" r="1.0"/><circle cx="187.4" cy="312.57" r="1.0"/><circle cx="191.7" cy="312.55" r="1.0"/><circle cx="196" cy="312.53" r="1.0"/><circle cx="200.3" cy="312.52" r="1.0"/><circle cx="204.6" cy="312.5" r="1.0"/><circle cx="208.9" cy="312.48" r="1.0"/><circle cx="213.2" cy="312.46" r="1.0"/><circle cx="217.5" cy="312.44" r="1.0"/><circle cx="221.8" cy="312.43" r="1.0"/><circle cx="226.1" cy="312.41" r="1.0"/><circle cx="230.4" cy="312.39" r="1.0"/><circle cx="234.7" cy="312.37" r="1.0"/><circle cx="239" cy="312.36" r="1.0"/><circle cx="243.3" cy="312.34" r="1.0"/><circle cx="247.6" cy="312.32" r="1.0"/><circle cx="251.9" cy="312.3" r="1.0"/><circle cx="256.2" cy="312.28" r="1.0"/><circle cx="260.5" cy="312.27" r="1.0"/><circle cx="264.8" cy="312.25" r="1.0"/><circle cx="269.1" cy="312.23" r="1.0"/><circle cx="273.4" cy="312.21" r="1.0"/><circle cx="277.7" cy="312.19" r="1.0"/><circle cx="282" cy="312.18" r="1.0"/><circle cx="286.3" cy="312.16" r="1.0"/><circle cx="290.6" cy="312.14" r="1.0"/><circle cx="294.9" cy="312.12" r="1.0"/><circle cx="299.2" cy="312.1" r="1.0"/><circle cx="303.5" cy="312.09" r="1.0"/><circle cx="307.8" cy="312.07" r="1.0"/><circle cx="312.1" cy="312.05" r="1.0"/><circle cx="316.4" cy="312.03" r="1.0"/><circle cx="320.7" cy="312.01" r="1.0"/><circle cx="325" cy="312" r="1.0"/></g>
<path d="M70.15 303.98L71.3 302.63L72.45 303.98L71.3 305.33ZM74.45 303.56L75.6 302.21L76.75 303.56L75.6 304.91ZM78.75 303.21L79.9 301.86L81.05 303.21L79.9 304.56ZM83.05 302.92L84.2 301.57L85.35 302.92L84.2 304.27ZM87.35 302.67L88.5 301.32L89.65 302.67L88.5 304.02ZM91.65 302.48L92.8 301.13L93.95 302.48L92.8 303.83ZM95.95 302.34L97.1 300.99L98.25 302.34L97.1 303.69ZM100.25 302.22L101.4 300.87L102.55 302.22L101.4 303.57ZM104.55 302.09L105.7 300.74L106.85 302.09L105.7 303.44ZM108.85 301.94L110 300.59L111.15 301.94L110 303.29ZM113.15 301.81L114.3 300.46L115.45 301.81L114.3 303.16ZM117.45 301.69L118.6 300.34L119.75 301.69L118.6 303.04ZM121.75 301.58L122.9 300.23L124.05 301.58L122.9 302.93ZM126.05 301.47L127.2 300.12L128.35 301.47L127.2 302.82ZM130.35 301.37L131.5 300.02L132.65 301.37L131.5 302.72ZM134.65 301.27L135.8 299.92L136.95 301.27L135.8 302.62ZM138.95 301.18L140.1 299.83L141.25 301.18L140.1 302.53ZM143.25 301.09L144.4 299.74L145.55 301.09L144.4 302.44ZM147.55 301.01L148.7 299.66L149.85 301.01L148.7 302.36ZM151.85 300.93L153 299.58L154.15 300.93L153 302.28ZM156.15 300.86L157.3 299.51L158.45 300.86L157.3 302.21ZM160.45 300.79L161.6 299.44L162.75 300.79L161.6 302.14ZM164.75 300.72L165.9 299.37L167.05 300.72L165.9 302.07ZM169.05 300.66L170.2 299.31L171.35 300.66L170.2 302.01ZM173.35 300.6L174.5 299.25L175.65 300.6L174.5 301.95ZM177.65 300.54L178.8 299.19L179.95 300.54L178.8 301.89ZM181.95 300.49L183.1 299.14L184.25 300.49L183.1 301.84ZM186.25 300.43L187.4 299.08L188.55 300.43L187.4 301.78ZM190.55 300.39L191.7 299.04L192.85 300.39L191.7 301.74ZM194.85 300.34L196 298.99L197.15 300.34L196 301.69ZM199.15 300.3L200.3 298.95L201.45 300.3L200.3 301.65ZM203.45 300.25L204.6 298.9L205.75 300.25L204.6 301.6ZM207.75 300.21L208.9 298.86L210.05 300.21L208.9 301.56ZM212.05 300.17L213.2 298.82L214.35 300.17L213.2 301.52ZM216.35 300.13L217.5 298.78L218.65 300.13L217.5 301.48ZM220.65 300.09L221.8 298.74L222.95 300.09L221.8 301.44ZM224.95 300.06L226.1 298.71L227.25 300.06L226.1 301.41ZM229.25 300.02L230.4 298.67L231.55 300.02L230.4 301.37ZM233.55 299.99L234.7 298.64L235.85 299.99L234.7 301.34ZM237.85 299.95L239 298.6L240.15 299.95L239 301.3ZM242.15 299.92L243.3 298.57L244.45 299.92L243.3 301.27ZM246.45 299.88L247.6 298.53L248.75 299.88L247.6 301.23ZM250.75 299.85L251.9 298.5L253.05 299.85L251.9 301.2ZM255.05 299.82L256.2 298.47L257.35 299.82L256.2 301.17ZM259.35 299.79L260.5 298.44L261.65 299.79L260.5 301.14ZM263.65 299.76L264.8 298.41L265.95 299.76L264.8 301.11ZM267.95 299.73L269.1 298.38L270.25 299.73L269.1 301.08ZM272.25 299.7L273.4 298.35L274.55 299.7L273.4 301.05ZM276.55 299.68L277.7 298.33L278.85 299.68L277.7 301.03ZM280.85 299.65L282 298.3L283.15 299.65L282 301ZM285.15 299.62L286.3 298.27L287.45 299.62L286.3 300.97ZM289.45 299.6L290.6 298.25L291.75 299.6L290.6 300.95ZM293.75 299.57L294.9 298.22L296.05 299.57L294.9 300.92ZM298.05 299.55L299.2 298.2L300.35 299.55L299.2 300.9ZM302.35 299.52L303.5 298.17L304.65 299.52L303.5 300.87ZM306.65 299.5L307.8 298.15L308.95 299.5L307.8 300.85ZM310.95 299.47L312.1 298.12L313.25 299.47L312.1 300.82ZM315.25 299.45L316.4 298.1L317.55 299.45L316.4 300.8ZM319.55 299.43L320.7 298.08L321.85 299.43L320.7 300.78ZM323.85 299.41L325 298.06L326.15 299.41L325 300.76ZM70.15 307.41L71.3 306.06L72.45 307.41L71.3 308.76ZM74.45 306.99L75.6 305.64L76.75 306.99L75.6 308.34ZM78.75 306.64L79.9 305.29L81.05 306.64L79.9 307.99ZM83.05 306.35L84.2 305L85.35 306.35L84.2 307.7ZM87.35 306.11L88.5 304.76L89.65 306.11L88.5 307.46ZM91.65 305.91L92.8 304.56L93.95 305.91L92.8 307.26ZM95.95 305.77L97.1 304.42L98.25 305.77L97.1 307.12ZM100.25 305.65L101.4 304.3L102.55 305.65L101.4 307ZM104.55 305.52L105.7 304.17L106.85 305.52L105.7 306.87ZM108.85 305.38L110 304.03L111.15 305.38L110 306.73ZM113.15 305.25L114.3 303.9L115.45 305.25L114.3 306.6ZM117.45 305.13L118.6 303.78L119.75 305.13L118.6 306.48ZM121.75 305.01L122.9 303.66L124.05 305.01L122.9 306.36ZM126.05 304.9L127.2 303.55L128.35 304.9L127.2 306.25ZM130.35 304.8L131.5 303.45L132.65 304.8L131.5 306.15ZM134.65 304.71L135.8 303.36L136.95 304.71L135.8 306.06ZM138.95 304.62L140.1 303.27L141.25 304.62L140.1 305.97ZM143.25 304.53L144.4 303.18L145.55 304.53L144.4 305.88ZM147.55 304.45L148.7 303.1L149.85 304.45L148.7 305.8ZM151.85 304.37L153 303.02L154.15 304.37L153 305.72ZM156.15 304.3L157.3 302.95L158.45 304.3L157.3 305.65ZM160.45 304.22L161.6 302.87L162.75 304.22L161.6 305.57ZM164.75 304.16L165.9 302.81L167.05 304.16L165.9 305.51ZM169.05 304.09L170.2 302.74L171.35 304.09L170.2 305.44ZM173.35 304.03L174.5 302.68L175.65 304.03L174.5 305.38ZM177.65 303.98L178.8 302.63L179.95 303.98L178.8 305.33ZM181.95 303.92L183.1 302.57L184.25 303.92L183.1 305.27ZM186.25 303.87L187.4 302.52L188.55 303.87L187.4 305.22ZM190.55 303.82L191.7 302.47L192.85 303.82L191.7 305.17ZM194.85 303.78L196 302.43L197.15 303.78L196 305.13ZM199.15 303.73L200.3 302.38L201.45 303.73L200.3 305.08ZM203.45 303.69L204.6 302.34L205.75 303.69L204.6 305.04ZM207.75 303.65L208.9 302.3L210.05 303.65L208.9 305ZM212.05 303.61L213.2 302.26L214.35 303.61L213.2 304.96ZM216.35 303.57L217.5 302.22L218.65 303.57L217.5 304.92ZM220.65 303.53L221.8 302.18L222.95 303.53L221.8 304.88ZM224.95 303.49L226.1 302.14L227.25 303.49L226.1 304.84ZM229.25 303.46L230.4 302.11L231.55 303.46L230.4 304.81ZM233.55 303.42L234.7 302.07L235.85 303.42L234.7 304.77ZM237.85 303.39L239 302.04L240.15 303.39L239 304.74ZM242.15 303.35L243.3 302L244.45 303.35L243.3 304.7ZM246.45 303.32L247.6 301.97L248.75 303.32L247.6 304.67ZM250.75 303.29L251.9 301.94L253.05 303.29L251.9 304.64ZM255.05 303.26L256.2 301.91L257.35 303.26L256.2 304.61ZM259.35 303.23L260.5 301.88L261.65 303.23L260.5 304.58ZM263.65 303.2L264.8 301.85L265.95 303.2L264.8 304.55ZM267.95 303.17L269.1 301.82L270.25 303.17L269.1 304.52ZM272.25 303.14L273.4 301.79L274.55 303.14L273.4 304.49ZM276.55 303.11L277.7 301.76L278.85 303.11L277.7 304.46ZM280.85 303.08L282 301.73L283.15 303.08L282 304.43ZM285.15 303.06L286.3 301.71L287.45 303.06L286.3 304.41ZM289.45 303.03L290.6 301.68L291.75 303.03L290.6 304.38ZM293.75 303.01L294.9 301.66L296.05 303.01L294.9 304.36ZM298.05 302.98L299.2 301.63L300.35 302.98L299.2 304.33ZM302.35 302.96L303.5 301.61L304.65 302.96L303.5 304.31ZM306.65 302.93L307.8 301.58L308.95 302.93L307.8 304.28ZM310.95 302.91L312.1 301.56L313.25 302.91L312.1 304.26ZM315.25 302.89L316.4 301.54L317.55 302.89L316.4 304.24ZM319.55 302.86L320.7 301.51L321.85 302.86L320.7 304.21ZM323.85 302.84L325 301.49L326.15 302.84L325 304.19Z" fill="none" stroke="#7ccbee" stroke-width="0.65"/><polyline points="71.3,305.69 75.6,305.27 79.9,304.93 84.2,304.63 88.5,304.39 92.8,304.2 97.1,304.06 101.4,303.94 105.7,303.8 110,303.66 114.3,303.53 118.6,303.41 122.9,303.29 127.2,303.19 131.5,303.08 135.8,302.99 140.1,302.9 144.4,302.81 148.7,302.73 153,302.65 157.3,302.58 161.6,302.51 165.9,302.44 170.2,302.38 174.5,302.32 178.8,302.26 183.1,302.2 187.4,302.15 191.7,302.1 196,302.06 200.3,302.01 204.6,301.97 208.9,301.93 213.2,301.89 217.5,301.85 221.8,301.81 226.1,301.77 230.4,301.74 234.7,301.7 239,301.67 243.3,301.63 247.6,301.6 251.9,301.57 256.2,301.54 260.5,301.51 264.8,301.48 269.1,301.45 273.4,301.42 277.7,301.39 282,301.37 286.3,301.34 290.6,301.31 294.9,301.29 299.2,301.26 303.5,301.24 307.8,301.22 312.1,301.19 316.4,301.17 320.7,301.15 325,301.12" fill="none" stroke="#7ccbee" stroke-width="1.0"/><g fill="#7ccbee"><circle cx="71.3" cy="305.69" r="1.0"/><circle cx="75.6" cy="305.27" r="1.0"/><circle cx="79.9" cy="304.93" r="1.0"/><circle cx="84.2" cy="304.63" r="1.0"/><circle cx="88.5" cy="304.39" r="1.0"/><circle cx="92.8" cy="304.2" r="1.0"/><circle cx="97.1" cy="304.06" r="1.0"/><circle cx="101.4" cy="303.94" r="1.0"/><circle cx="105.7" cy="303.8" r="1.0"/><circle cx="110" cy="303.66" r="1.0"/><circle cx="114.3" cy="303.53" r="1.0"/><circle cx="118.6" cy="303.41" r="1.0"/><circle cx="122.9" cy="303.29" r="1.0"/><circle cx="127.2" cy="303.19" r="1.0"/><circle cx="131.5" cy="303.08" r="1.0"/><circle cx="135.8" cy="302.99" r="1.0"/><circle cx="140.1" cy="302.9" r="1.0"/><circle cx="144.4" cy="302.81" r="1.0"/><circle cx="148.7" cy="302.73" r="1.0"/><circle cx="153" cy="302.65" r="1.0"/><circle cx="157.3" cy="302.58" r="1.0"/><circle cx="161.6" cy="302.51" r="1.0"/><circle cx="165.9" cy="302.44" r="1.0"/><circle cx="170.2" cy="302.38" r="1.0"/><circle cx="174.5" cy="302.32" r="1.0"/><circle cx="178.8" cy="302.26" r="1.0"/><circle cx="183.1" cy="302.2" r="1.0"/><circle cx="187.4" cy="302.15" r="1.0"/><circle cx="191.7" cy="302.1" r="1.0"/><circle cx="196" cy="302.06" r="1.0"/><circle cx="200.3" cy="302.01" r="1.0"/><circle cx="204.6" cy="301.97" r="1.0"/><circle cx="208.9" cy="301.93" r="1.0"/><circle cx="213.2" cy="301.89" r="1.0"/><circle cx="217.5" cy="301.85" r="1.0"/><circle cx="221.8" cy="301.81" r="1.0"/><circle cx="226.1" cy="301.77" r="1.0"/><circle cx="230.4" cy="301.74" r="1.0"/><circle cx="234.7" cy="301.7" r="1.0"/><circle cx="239" cy="301.67" r="1.0"/><circle cx="243.3" cy="301.63" r="1.0"/><circle cx="247.6" cy="301.6" r="1.0"/><circle cx="251.9" cy="301.57" r="1.0"/><circle cx="256.2" cy="301.54" r="1.0"/><circle cx="260.5" cy="301.51" r="1.0"/><circle cx="264.8" cy="301.48" r="1.0"/><circle cx="269.1" cy="301.45" r="1.0"/><circle cx="273.4" cy="301.42" r="1.0"/><circle cx="277.7" cy="301.39" r="1.0"/><circle cx="282" cy="301.37" r="1.0"/><circle cx="286.3" cy="301.34" r="1.0"/><circle cx="290.6" cy="301.31" r="1.0"/><circle cx="294.9" cy="301.29" r="1.0"/><circle cx="299.2" cy="301.26" r="1.0"/><circle cx="303.5" cy="301.24" r="1.0"/><circle cx="307.8" cy="301.22" r="1.0"/><circle cx="312.1" cy="301.19" r="1.0"/><circle cx="316.4" cy="301.17" r="1.0"/><circle cx="320.7" cy="301.15" r="1.0"/><circle cx="325" cy="301.12" r="1.0"/></g>
<path d="M70.15 297.43L71.3 296.08L72.45 297.43L71.3 298.78ZM74.45 296.1L75.6 294.75L76.75 296.1L75.6 297.45ZM78.75 295.18L79.9 293.83L81.05 295.18L79.9 296.53ZM83.05 294.51L84.2 293.16L85.35 294.51L84.2 295.86ZM87.35 294L88.5 292.65L89.65 294L88.5 295.35ZM91.65 293.64L92.8 292.29L93.95 293.64L92.8 294.99ZM95.95 293.42L97.1 292.07L98.25 293.42L97.1 294.77ZM100.25 293.24L101.4 291.89L102.55 293.24L101.4 294.59ZM104.55 293.05L105.7 291.7L106.85 293.05L105.7 294.4ZM108.85 292.84L110 291.49L111.15 292.84L110 294.19ZM113.15 292.66L114.3 291.31L115.45 292.66L114.3 294.01ZM117.45 292.48L118.6 291.13L119.75 292.48L118.6 293.83ZM121.75 292.33L122.9 290.98L124.05 292.33L122.9 293.68ZM126.05 292.18L127.2 290.83L128.35 292.18L127.2 293.53ZM130.35 292.04L131.5 290.69L132.65 292.04L131.5 293.39ZM134.65 291.91L135.8 290.56L136.95 291.91L135.8 293.26ZM138.95 291.79L140.1 290.44L141.25 291.79L140.1 293.14ZM143.25 291.67L144.4 290.32L145.55 291.67L144.4 293.02ZM147.55 291.56L148.7 290.21L149.85 291.56L148.7 292.91ZM151.85 291.46L153 290.11L154.15 291.46L153 292.81ZM156.15 291.36L157.3 290.01L158.45 291.36L157.3 292.71ZM160.45 291.26L161.6 289.91L162.75 291.26L161.6 292.61ZM164.75 291.17L165.9 289.82L167.05 291.17L165.9 292.52ZM169.05 291.09L170.2 289.74L171.35 291.09L170.2 292.44ZM173.35 291L174.5 289.65L175.65 291L174.5 292.35ZM177.65 290.93L178.8 289.58L179.95 290.93L178.8 292.28ZM181.95 290.86L183.1 289.51L184.25 290.86L183.1 292.21ZM186.25 290.79L187.4 289.44L188.55 290.79L187.4 292.14ZM190.55 290.73L191.7 289.38L192.85 290.73L191.7 292.08ZM194.85 290.68L196 289.33L197.15 290.68L196 292.03ZM199.15 290.62L200.3 289.27L201.45 290.62L200.3 291.97ZM203.45 290.57L204.6 289.22L205.75 290.57L204.6 291.92ZM207.75 290.52L208.9 289.17L210.05 290.52L208.9 291.87ZM212.05 290.47L213.2 289.12L214.35 290.47L213.2 291.82ZM216.35 290.42L217.5 289.07L218.65 290.42L217.5 291.77ZM220.65 290.37L221.8 289.02L222.95 290.37L221.8 291.72ZM224.95 290.33L226.1 288.98L227.25 290.33L226.1 291.68ZM229.25 290.28L230.4 288.93L231.55 290.28L230.4 291.63ZM233.55 290.24L234.7 288.89L235.85 290.24L234.7 291.59ZM237.85 290.19L239 288.84L240.15 290.19L239 291.54ZM242.15 290.15L243.3 288.8L244.45 290.15L243.3 291.5ZM246.45 290.11L247.6 288.76L248.75 290.11L247.6 291.46ZM250.75 290.07L251.9 288.72L253.05 290.07L251.9 291.42ZM255.05 290.03L256.2 288.68L257.35 290.03L256.2 291.38ZM259.35 289.99L260.5 288.64L261.65 289.99L260.5 291.34ZM263.65 289.96L264.8 288.61L265.95 289.96L264.8 291.31ZM267.95 289.92L269.1 288.57L270.25 289.92L269.1 291.27ZM272.25 289.88L273.4 288.53L274.55 289.88L273.4 291.23ZM276.55 289.85L277.7 288.5L278.85 289.85L277.7 291.2ZM280.85 289.82L282 288.47L283.15 289.82L282 291.17ZM285.15 289.78L286.3 288.43L287.45 289.78L286.3 291.13ZM289.45 289.75L290.6 288.4L291.75 289.75L290.6 291.1ZM293.75 289.72L294.9 288.37L296.05 289.72L294.9 291.07ZM298.05 289.69L299.2 288.34L300.35 289.69L299.2 291.04ZM302.35 289.66L303.5 288.31L304.65 289.66L303.5 291.01ZM306.65 289.63L307.8 288.28L308.95 289.63L307.8 290.98ZM310.95 289.61L312.1 288.26L313.25 289.61L312.1 290.96ZM315.25 289.58L316.4 288.23L317.55 289.58L316.4 290.93ZM319.55 289.56L320.7 288.21L321.85 289.56L320.7 290.91ZM323.85 289.53L325 288.18L326.15 289.53L325 290.88ZM70.15 298.98L71.3 297.63L72.45 298.98L71.3 300.33ZM74.45 297.64L75.6 296.29L76.75 297.64L75.6 298.99ZM78.75 296.72L79.9 295.37L81.05 296.72L79.9 298.07ZM83.05 296.05L84.2 294.7L85.35 296.05L84.2 297.4ZM87.35 295.54L88.5 294.19L89.65 295.54L88.5 296.89ZM91.65 295.19L92.8 293.84L93.95 295.19L92.8 296.54ZM95.95 294.96L97.1 293.61L98.25 294.96L97.1 296.31ZM100.25 294.79L101.4 293.44L102.55 294.79L101.4 296.14ZM104.55 294.6L105.7 293.25L106.85 294.6L105.7 295.95ZM108.85 294.39L110 293.04L111.15 294.39L110 295.74ZM113.15 294.2L114.3 292.85L115.45 294.2L114.3 295.55ZM117.45 294.03L118.6 292.68L119.75 294.03L118.6 295.38ZM121.75 293.87L122.9 292.52L124.05 293.87L122.9 295.22ZM126.05 293.73L127.2 292.38L128.35 293.73L127.2 295.08ZM130.35 293.59L131.5 292.24L132.65 293.59L131.5 294.94ZM134.65 293.46L135.8 292.11L136.95 293.46L135.8 294.81ZM138.95 293.34L140.1 291.99L141.25 293.34L140.1 294.69ZM143.25 293.22L144.4 291.87L145.55 293.22L144.4 294.57ZM147.55 293.11L148.7 291.76L149.85 293.11L148.7 294.46ZM151.85 293L153 291.65L154.15 293L153 294.35ZM156.15 292.9L157.3 291.55L158.45 292.9L157.3 294.25ZM160.45 292.81L161.6 291.46L162.75 292.81L161.6 294.16ZM164.75 292.72L165.9 291.37L167.05 292.72L165.9 294.07ZM169.05 292.63L170.2 291.28L171.35 292.63L170.2 293.98ZM173.35 292.55L174.5 291.2L175.65 292.55L174.5 293.9ZM177.65 292.47L178.8 291.12L179.95 292.47L178.8 293.82ZM181.95 292.4L183.1 291.05L184.25 292.4L183.1 293.75ZM186.25 292.34L187.4 290.99L188.55 292.34L187.4 293.69ZM190.55 292.28L191.7 290.93L192.85 292.28L191.7 293.63ZM194.85 292.22L196 290.87L197.15 292.22L196 293.57ZM199.15 292.17L200.3 290.82L201.45 292.17L200.3 293.52ZM203.45 292.12L204.6 290.77L205.75 292.12L204.6 293.47ZM207.75 292.07L208.9 290.72L210.05 292.07L208.9 293.42ZM212.05 292.02L213.2 290.67L214.35 292.02L213.2 293.37ZM216.35 291.97L217.5 290.62L218.65 291.97L217.5 293.32ZM220.65 291.92L221.8 290.57L222.95 291.92L221.8 293.27ZM224.95 291.87L226.1 290.52L227.25 291.87L226.1 293.22ZM229.25 291.83L230.4 290.48L231.55 291.83L230.4 293.18ZM233.55 291.78L234.7 290.43L235.85 291.78L234.7 293.13ZM237.85 291.74L239 290.39L240.15 291.74L239 293.09ZM242.15 291.7L243.3 290.35L244.45 291.7L243.3 293.05ZM246.45 291.66L247.6 290.31L248.75 291.66L247.6 293.01ZM250.75 291.62L251.9 290.27L253.05 291.62L251.9 292.97ZM255.05 291.58L256.2 290.23L257.35 291.58L256.2 292.93ZM259.35 291.54L260.5 290.19L261.65 291.54L260.5 292.89ZM263.65 291.5L264.8 290.15L265.95 291.5L264.8 292.85ZM267.95 291.47L269.1 290.12L270.25 291.47L269.1 292.82ZM272.25 291.43L273.4 290.08L274.55 291.43L273.4 292.78ZM276.55 291.4L277.7 290.05L278.85 291.4L277.7 292.75ZM280.85 291.36L282 290.01L283.15 291.36L282 292.71ZM285.15 291.33L286.3 289.98L287.45 291.33L286.3 292.68ZM289.45 291.3L290.6 289.95L291.75 291.3L290.6 292.65ZM293.75 291.27L294.9 289.92L296.05 291.27L294.9 292.62ZM298.05 291.24L299.2 289.89L300.35 291.24L299.2 292.59ZM302.35 291.21L303.5 289.86L304.65 291.21L303.5 292.56ZM306.65 291.18L307.8 289.83L308.95 291.18L307.8 292.53ZM310.95 291.15L312.1 289.8L313.25 291.15L312.1 292.5ZM315.25 291.13L316.4 289.78L317.55 291.13L316.4 292.48ZM319.55 291.1L320.7 289.75L321.85 291.1L320.7 292.45ZM323.85 291.08L325 289.73L326.15 291.08L325 292.43Z" fill="none" stroke="#e0a53a" stroke-width="0.65"/><polyline points="71.3,298.2 75.6,296.87 79.9,295.95 84.2,295.28 88.5,294.77 92.8,294.41 97.1,294.19 101.4,294.02 105.7,293.83 110,293.62 114.3,293.43 118.6,293.26 122.9,293.1 127.2,292.95 131.5,292.82 135.8,292.69 140.1,292.56 144.4,292.45 148.7,292.34 153,292.23 157.3,292.13 161.6,292.03 165.9,291.94 170.2,291.86 174.5,291.78 178.8,291.7 183.1,291.63 187.4,291.57 191.7,291.51 196,291.45 200.3,291.4 204.6,291.34 208.9,291.29 213.2,291.24 217.5,291.19 221.8,291.15 226.1,291.1 230.4,291.06 234.7,291.01 239,290.97 243.3,290.93 247.6,290.88 251.9,290.84 256.2,290.81 260.5,290.77 264.8,290.73 269.1,290.69 273.4,290.66 277.7,290.62 282,290.59 286.3,290.56 290.6,290.52 294.9,290.49 299.2,290.46 303.5,290.43 307.8,290.41 312.1,290.38 316.4,290.35 320.7,290.33 325,290.3" fill="none" stroke="#e0a53a" stroke-width="1.0"/><g fill="#e0a53a"><circle cx="71.3" cy="298.2" r="1.0"/><circle cx="75.6" cy="296.87" r="1.0"/><circle cx="79.9" cy="295.95" r="1.0"/><circle cx="84.2" cy="295.28" r="1.0"/><circle cx="88.5" cy="294.77" r="1.0"/><circle cx="92.8" cy="294.41" r="1.0"/><circle cx="97.1" cy="294.19" r="1.0"/><circle cx="101.4" cy="294.02" r="1.0"/><circle cx="105.7" cy="293.83" r="1.0"/><circle cx="110" cy="293.62" r="1.0"/><circle cx="114.3" cy="293.43" r="1.0"/><circle cx="118.6" cy="293.26" r="1.0"/><circle cx="122.9" cy="293.1" r="1.0"/><circle cx="127.2" cy="292.95" r="1.0"/><circle cx="131.5" cy="292.82" r="1.0"/><circle cx="135.8" cy="292.69" r="1.0"/><circle cx="140.1" cy="292.56" r="1.0"/><circle cx="144.4" cy="292.45" r="1.0"/><circle cx="148.7" cy="292.34" r="1.0"/><circle cx="153" cy="292.23" r="1.0"/><circle cx="157.3" cy="292.13" r="1.0"/><circle cx="161.6" cy="292.03" r="1.0"/><circle cx="165.9" cy="291.94" r="1.0"/><circle cx="170.2" cy="291.86" r="1.0"/><circle cx="174.5" cy="291.78" r="1.0"/><circle cx="178.8" cy="291.7" r="1.0"/><circle cx="183.1" cy="291.63" r="1.0"/><circle cx="187.4" cy="291.57" r="1.0"/><circle cx="191.7" cy="291.51" r="1.0"/><circle cx="196" cy="291.45" r="1.0"/><circle cx="200.3" cy="291.4" r="1.0"/><circle cx="204.6" cy="291.34" r="1.0"/><circle cx="208.9" cy="291.29" r="1.0"/><circle cx="213.2" cy="291.24" r="1.0"/><circle cx="217.5" cy="291.19" r="1.0"/><circle cx="221.8" cy="291.15" r="1.0"/><circle cx="226.1" cy="291.1" r="1.0"/><circle cx="230.4" cy="291.06" r="1.0"/><circle cx="234.7" cy="291.01" r="1.0"/><circle cx="239" cy="290.97" r="1.0"/><circle cx="243.3" cy="290.93" r="1.0"/><circle cx="247.6" cy="290.88" r="1.0"/><circle cx="251.9" cy="290.84" r="1.0"/><circle cx="256.2" cy="290.81" r="1.0"/><circle cx="260.5" cy="290.77" r="1.0"/><circle cx="264.8" cy="290.73" r="1.0"/><circle cx="269.1" cy="290.69" r="1.0"/><circle cx="273.4" cy="290.66" r="1.0"/><circle cx="277.7" cy="290.62" r="1.0"/><circle cx="282" cy="290.59" r="1.0"/><circle cx="286.3" cy="290.56" r="1.0"/><circle cx="290.6" cy="290.52" r="1.0"/><circle cx="294.9" cy="290.49" r="1.0"/><circle cx="299.2" cy="290.46" r="1.0"/><circle cx="303.5" cy="290.43" r="1.0"/><circle cx="307.8" cy="290.41" r="1.0"/><circle cx="312.1" cy="290.38" r="1.0"/><circle cx="316.4" cy="290.35" r="1.0"/><circle cx="320.7" cy="290.33" r="1.0"/><circle cx="325" cy="290.3" r="1.0"/></g>
<path d="M70.15 263.17L71.3 261.82L72.45 263.17L71.3 264.52ZM74.45 260.59L75.6 259.24L76.75 260.59L75.6 261.94ZM78.75 258.77L79.9 257.42L81.05 258.77L79.9 260.12ZM83.05 257.47L84.2 256.12L85.35 257.47L84.2 258.82ZM87.35 256.16L88.5 254.81L89.65 256.16L88.5 257.51ZM91.65 255.42L92.8 254.07L93.95 255.42L92.8 256.77ZM95.95 254.87L97.1 253.52L98.25 254.87L97.1 256.22ZM100.25 254.38L101.4 253.03L102.55 254.38L101.4 255.73ZM104.55 253.96L105.7 252.61L106.85 253.96L105.7 255.31ZM108.85 253.55L110 252.2L111.15 253.55L110 254.9ZM113.15 253.05L114.3 251.7L115.45 253.05L114.3 254.4ZM117.45 252.5L118.6 251.15L119.75 252.5L118.6 253.85ZM121.75 252.07L122.9 250.72L124.05 252.07L122.9 253.42ZM126.05 251.78L127.2 250.43L128.35 251.78L127.2 253.13ZM130.35 251.52L131.5 250.17L132.65 251.52L131.5 252.87ZM134.65 251.27L135.8 249.92L136.95 251.27L135.8 252.62ZM138.95 251.04L140.1 249.69L141.25 251.04L140.1 252.39ZM143.25 250.83L144.4 249.48L145.55 250.83L144.4 252.18ZM147.55 250.63L148.7 249.28L149.85 250.63L148.7 251.98ZM151.85 250.45L153 249.1L154.15 250.45L153 251.8ZM156.15 250.27L157.3 248.92L158.45 250.27L157.3 251.62ZM160.45 250.1L161.6 248.75L162.75 250.1L161.6 251.45ZM164.75 249.94L165.9 248.59L167.05 249.94L165.9 251.29ZM169.05 249.79L170.2 248.44L171.35 249.79L170.2 251.14ZM173.35 249.64L174.5 248.29L175.65 249.64L174.5 250.99ZM177.65 249.49L178.8 248.14L179.95 249.49L178.8 250.84ZM181.95 249.35L183.1 248L184.25 249.35L183.1 250.7ZM186.25 249.22L187.4 247.87L188.55 249.22L187.4 250.57ZM190.55 249.08L191.7 247.73L192.85 249.08L191.7 250.43ZM194.85 248.95L196 247.6L197.15 248.95L196 250.3ZM199.15 248.83L200.3 247.48L201.45 248.83L200.3 250.18ZM203.45 248.7L204.6 247.35L205.75 248.7L204.6 250.05ZM207.75 248.58L208.9 247.23L210.05 248.58L208.9 249.93ZM212.05 248.46L213.2 247.11L214.35 248.46L213.2 249.81ZM216.35 248.34L217.5 246.99L218.65 248.34L217.5 249.69ZM220.65 248.23L221.8 246.88L222.95 248.23L221.8 249.58ZM224.95 248.11L226.1 246.76L227.25 248.11L226.1 249.46ZM229.25 248L230.4 246.65L231.55 248L230.4 249.35ZM233.55 247.89L234.7 246.54L235.85 247.89L234.7 249.24ZM237.85 247.79L239 246.44L240.15 247.79L239 249.14ZM242.15 247.68L243.3 246.33L244.45 247.68L243.3 249.03ZM246.45 247.57L247.6 246.22L248.75 247.57L247.6 248.92ZM250.75 247.47L251.9 246.12L253.05 247.47L251.9 248.82ZM255.05 247.37L256.2 246.02L257.35 247.37L256.2 248.72ZM259.35 247.26L260.5 245.91L261.65 247.26L260.5 248.61ZM263.65 247.16L264.8 245.81L265.95 247.16L264.8 248.51ZM267.95 247.06L269.1 245.71L270.25 247.06L269.1 248.41ZM272.25 246.96L273.4 245.61L274.55 246.96L273.4 248.31ZM276.55 246.87L277.7 245.52L278.85 246.87L277.7 248.22ZM280.85 246.77L282 245.42L283.15 246.77L282 248.12ZM285.15 246.67L286.3 245.32L287.45 246.67L286.3 248.02ZM289.45 246.57L290.6 245.22L291.75 246.57L290.6 247.92ZM293.75 246.48L294.9 245.13L296.05 246.48L294.9 247.83ZM298.05 246.38L299.2 245.03L300.35 246.38L299.2 247.73ZM302.35 246.29L303.5 244.94L304.65 246.29L303.5 247.64ZM306.65 246.19L307.8 244.84L308.95 246.19L307.8 247.54ZM310.95 246.1L312.1 244.75L313.25 246.1L312.1 247.45ZM315.25 246.01L316.4 244.66L317.55 246.01L316.4 247.36ZM319.55 245.91L320.7 244.56L321.85 245.91L320.7 247.26ZM323.85 245.82L325 244.47L326.15 245.82L325 247.17ZM70.15 270.04L71.3 268.69L72.45 270.04L71.3 271.39ZM74.45 267.42L75.6 266.07L76.75 267.42L75.6 268.77ZM78.75 265.56L79.9 264.21L81.05 265.56L79.9 266.91ZM83.05 264.21L84.2 262.86L85.35 264.21L84.2 265.56ZM87.35 262.86L88.5 261.51L89.65 262.86L88.5 264.21ZM91.65 262.14L92.8 260.79L93.95 262.14L92.8 263.49ZM95.95 261.61L97.1 260.26L98.25 261.61L97.1 262.96ZM100.25 261.15L101.4 259.8L102.55 261.15L101.4 262.5ZM104.55 260.74L105.7 259.39L106.85 260.74L105.7 262.09ZM108.85 260.36L110 259.01L111.15 260.36L110 261.71ZM113.15 259.88L114.3 258.53L115.45 259.88L114.3 261.23ZM117.45 259.35L118.6 258L119.75 259.35L118.6 260.7ZM121.75 258.95L122.9 257.6L124.05 258.95L122.9 260.3ZM126.05 258.68L127.2 257.33L128.35 258.68L127.2 260.03ZM130.35 258.43L131.5 257.08L132.65 258.43L131.5 259.78ZM134.65 258.21L135.8 256.86L136.95 258.21L135.8 259.56ZM138.95 258L140.1 256.65L141.25 258L140.1 259.35ZM143.25 257.81L144.4 256.46L145.55 257.81L144.4 259.16ZM147.55 257.64L148.7 256.29L149.85 257.64L148.7 258.99ZM151.85 257.47L153 256.12L154.15 257.47L153 258.82ZM156.15 257.32L157.3 255.97L158.45 257.32L157.3 258.67ZM160.45 257.17L161.6 255.82L162.75 257.17L161.6 258.52ZM164.75 257.03L165.9 255.68L167.05 257.03L165.9 258.38ZM169.05 256.9L170.2 255.55L171.35 256.9L170.2 258.25ZM173.35 256.77L174.5 255.42L175.65 256.77L174.5 258.12ZM177.65 256.65L178.8 255.3L179.95 256.65L178.8 258ZM181.95 256.53L183.1 255.18L184.25 256.53L183.1 257.88ZM186.25 256.42L187.4 255.07L188.55 256.42L187.4 257.77ZM190.55 256.31L191.7 254.96L192.85 256.31L191.7 257.66ZM194.85 256.2L196 254.85L197.15 256.2L196 257.55ZM199.15 256.09L200.3 254.74L201.45 256.09L200.3 257.44ZM203.45 255.99L204.6 254.64L205.75 255.99L204.6 257.34ZM207.75 255.89L208.9 254.54L210.05 255.89L208.9 257.24ZM212.05 255.79L213.2 254.44L214.35 255.79L213.2 257.14ZM216.35 255.7L217.5 254.35L218.65 255.7L217.5 257.05ZM220.65 255.6L221.8 254.25L222.95 255.6L221.8 256.95ZM224.95 255.51L226.1 254.16L227.25 255.51L226.1 256.86ZM229.25 255.42L230.4 254.07L231.55 255.42L230.4 256.77ZM233.55 255.33L234.7 253.98L235.85 255.33L234.7 256.68ZM237.85 255.25L239 253.9L240.15 255.25L239 256.6ZM242.15 255.16L243.3 253.81L244.45 255.16L243.3 256.51ZM246.45 255.08L247.6 253.73L248.75 255.08L247.6 256.43ZM250.75 255L251.9 253.65L253.05 255L251.9 256.35ZM255.05 254.92L256.2 253.57L257.35 254.92L256.2 256.27ZM259.35 254.84L260.5 253.49L261.65 254.84L260.5 256.19ZM263.65 254.76L264.8 253.41L265.95 254.76L264.8 256.11ZM267.95 254.68L269.1 253.33L270.25 254.68L269.1 256.03ZM272.25 254.6L273.4 253.25L274.55 254.6L273.4 255.95ZM276.55 254.53L277.7 253.18L278.85 254.53L277.7 255.88ZM280.85 254.45L282 253.1L283.15 254.45L282 255.8ZM285.15 254.38L286.3 253.03L287.45 254.38L286.3 255.73ZM289.45 254.3L290.6 252.95L291.75 254.3L290.6 255.65ZM293.75 254.23L294.9 252.88L296.05 254.23L294.9 255.58ZM298.05 254.15L299.2 252.8L300.35 254.15L299.2 255.5ZM302.35 254.08L303.5 252.73L304.65 254.08L303.5 255.43ZM306.65 254.01L307.8 252.66L308.95 254.01L307.8 255.36ZM310.95 253.94L312.1 252.59L313.25 253.94L312.1 255.29ZM315.25 253.86L316.4 252.51L317.55 253.86L316.4 255.21ZM319.55 253.79L320.7 252.44L321.85 253.79L320.7 255.14ZM323.85 253.72L325 252.37L326.15 253.72L325 255.07Z" fill="none" stroke="#e0692f" stroke-width="0.65"/><polyline points="71.3,265.4 75.6,262.82 79.9,261 84.2,259.7 88.5,258.39 92.8,257.65 97.1,257.1 101.4,256.61 105.7,256.19 110,255.78 114.3,255.28 118.6,254.73 122.9,254.31 127.2,254.01 131.5,253.75 135.8,253.5 140.1,253.28 144.4,253.06 148.7,252.87 153,252.68 157.3,252.5 161.6,252.33 165.9,252.17 170.2,252.02 174.5,251.87 178.8,251.73 183.1,251.59 187.4,251.45 191.7,251.32 196,251.19 200.3,251.06 204.6,250.93 208.9,250.81 213.2,250.69 217.5,250.58 221.8,250.46 226.1,250.35 230.4,250.24 234.7,250.13 239,250.02 243.3,249.91 247.6,249.81 251.9,249.7 256.2,249.6 260.5,249.5 264.8,249.4 269.1,249.3 273.4,249.2 277.7,249.1 282,249 286.3,248.9 290.6,248.81 294.9,248.71 299.2,248.62 303.5,248.52 307.8,248.43 312.1,248.33 316.4,248.24 320.7,248.15 325,248.05" fill="none" stroke="#e0692f" stroke-width="1.0"/><g fill="#e0692f"><circle cx="71.3" cy="265.4" r="1.0"/><circle cx="75.6" cy="262.82" r="1.0"/><circle cx="79.9" cy="261" r="1.0"/><circle cx="84.2" cy="259.7" r="1.0"/><circle cx="88.5" cy="258.39" r="1.0"/><circle cx="92.8" cy="257.65" r="1.0"/><circle cx="97.1" cy="257.1" r="1.0"/><circle cx="101.4" cy="256.61" r="1.0"/><circle cx="105.7" cy="256.19" r="1.0"/><circle cx="110" cy="255.78" r="1.0"/><circle cx="114.3" cy="255.28" r="1.0"/><circle cx="118.6" cy="254.73" r="1.0"/><circle cx="122.9" cy="254.31" r="1.0"/><circle cx="127.2" cy="254.01" r="1.0"/><circle cx="131.5" cy="253.75" r="1.0"/><circle cx="135.8" cy="253.5" r="1.0"/><circle cx="140.1" cy="253.28" r="1.0"/><circle cx="144.4" cy="253.06" r="1.0"/><circle cx="148.7" cy="252.87" r="1.0"/><circle cx="153" cy="252.68" r="1.0"/><circle cx="157.3" cy="252.5" r="1.0"/><circle cx="161.6" cy="252.33" r="1.0"/><circle cx="165.9" cy="252.17" r="1.0"/><circle cx="170.2" cy="252.02" r="1.0"/><circle cx="174.5" cy="251.87" r="1.0"/><circle cx="178.8" cy="251.73" r="1.0"/><circle cx="183.1" cy="251.59" r="1.0"/><circle cx="187.4" cy="251.45" r="1.0"/><circle cx="191.7" cy="251.32" r="1.0"/><circle cx="196" cy="251.19" r="1.0"/><circle cx="200.3" cy="251.06" r="1.0"/><circle cx="204.6" cy="250.93" r="1.0"/><circle cx="208.9" cy="250.81" r="1.0"/><circle cx="213.2" cy="250.69" r="1.0"/><circle cx="217.5" cy="250.58" r="1.0"/><circle cx="221.8" cy="250.46" r="1.0"/><circle cx="226.1" cy="250.35" r="1.0"/><circle cx="230.4" cy="250.24" r="1.0"/><circle cx="234.7" cy="250.13" r="1.0"/><circle cx="239" cy="250.02" r="1.0"/><circle cx="243.3" cy="249.91" r="1.0"/><circle cx="247.6" cy="249.81" r="1.0"/><circle cx="251.9" cy="249.7" r="1.0"/><circle cx="256.2" cy="249.6" r="1.0"/><circle cx="260.5" cy="249.5" r="1.0"/><circle cx="264.8" cy="249.4" r="1.0"/><circle cx="269.1" cy="249.3" r="1.0"/><circle cx="273.4" cy="249.2" r="1.0"/><circle cx="277.7" cy="249.1" r="1.0"/><circle cx="282" cy="249" r="1.0"/><circle cx="286.3" cy="248.9" r="1.0"/><circle cx="290.6" cy="248.81" r="1.0"/><circle cx="294.9" cy="248.71" r="1.0"/><circle cx="299.2" cy="248.62" r="1.0"/><circle cx="303.5" cy="248.52" r="1.0"/><circle cx="307.8" cy="248.43" r="1.0"/><circle cx="312.1" cy="248.33" r="1.0"/><circle cx="316.4" cy="248.24" r="1.0"/><circle cx="320.7" cy="248.15" r="1.0"/><circle cx="325" cy="248.05" r="1.0"/></g>
<path d="M70.15 216.98L71.3 215.63L72.45 216.98L71.3 218.33ZM74.45 210.05L75.6 208.7L76.75 210.05L75.6 211.4ZM78.75 205.85L79.9 204.5L81.05 205.85L79.9 207.2ZM83.05 203.31L84.2 201.96L85.35 203.31L84.2 204.66ZM87.35 201.29L88.5 199.94L89.65 201.29L88.5 202.64ZM91.65 200.01L92.8 198.66L93.95 200.01L92.8 201.36ZM95.95 198.82L97.1 197.47L98.25 198.82L97.1 200.17ZM100.25 197.84L101.4 196.49L102.55 197.84L101.4 199.19ZM104.55 196.93L105.7 195.58L106.85 196.93L105.7 198.28ZM108.85 196.08L110 194.73L111.15 196.08L110 197.43ZM113.15 195.21L114.3 193.86L115.45 195.21L114.3 196.56ZM117.45 194.43L118.6 193.08L119.75 194.43L118.6 195.78ZM121.75 193.85L122.9 192.5L124.05 193.85L122.9 195.2ZM126.05 193.32L127.2 191.97L128.35 193.32L127.2 194.67ZM130.35 192.85L131.5 191.5L132.65 192.85L131.5 194.2ZM134.65 192.42L135.8 191.07L136.95 192.42L135.8 193.77ZM138.95 192.03L140.1 190.68L141.25 192.03L140.1 193.38ZM143.25 191.66L144.4 190.31L145.55 191.66L144.4 193.01ZM147.55 191.32L148.7 189.97L149.85 191.32L148.7 192.67ZM151.85 191.01L153 189.66L154.15 191.01L153 192.36ZM156.15 190.71L157.3 189.36L158.45 190.71L157.3 192.06ZM160.45 190.42L161.6 189.07L162.75 190.42L161.6 191.77ZM164.75 190.14L165.9 188.79L167.05 190.14L165.9 191.49ZM169.05 189.87L170.2 188.52L171.35 189.87L170.2 191.22ZM173.35 189.61L174.5 188.26L175.65 189.61L174.5 190.96ZM177.65 189.35L178.8 188L179.95 189.35L178.8 190.7ZM181.95 189.1L183.1 187.75L184.25 189.1L183.1 190.45ZM186.25 188.86L187.4 187.51L188.55 188.86L187.4 190.21ZM190.55 188.63L191.7 187.28L192.85 188.63L191.7 189.98ZM194.85 188.42L196 187.07L197.15 188.42L196 189.77ZM199.15 188.22L200.3 186.87L201.45 188.22L200.3 189.57ZM203.45 188.04L204.6 186.69L205.75 188.04L204.6 189.39ZM207.75 187.86L208.9 186.51L210.05 187.86L208.9 189.21ZM212.05 187.69L213.2 186.34L214.35 187.69L213.2 189.04ZM216.35 187.53L217.5 186.18L218.65 187.53L217.5 188.88ZM220.65 187.37L221.8 186.02L222.95 187.37L221.8 188.72ZM224.95 187.22L226.1 185.87L227.25 187.22L226.1 188.57ZM229.25 187.07L230.4 185.72L231.55 187.07L230.4 188.42ZM233.55 186.93L234.7 185.58L235.85 186.93L234.7 188.28ZM237.85 186.79L239 185.44L240.15 186.79L239 188.14ZM242.15 186.65L243.3 185.3L244.45 186.65L243.3 188ZM246.45 186.53L247.6 185.18L248.75 186.53L247.6 187.88ZM250.75 186.4L251.9 185.05L253.05 186.4L251.9 187.75ZM255.05 186.28L256.2 184.93L257.35 186.28L256.2 187.63ZM259.35 186.17L260.5 184.82L261.65 186.17L260.5 187.52ZM263.65 186.06L264.8 184.71L265.95 186.06L264.8 187.41ZM267.95 185.95L269.1 184.6L270.25 185.95L269.1 187.3ZM272.25 185.85L273.4 184.5L274.55 185.85L273.4 187.2ZM276.55 185.75L277.7 184.4L278.85 185.75L277.7 187.1ZM280.85 185.66L282 184.31L283.15 185.66L282 187.01ZM285.15 185.57L286.3 184.22L287.45 185.57L286.3 186.92ZM289.45 185.49L290.6 184.14L291.75 185.49L290.6 186.84ZM293.75 185.42L294.9 184.07L296.05 185.42L294.9 186.77ZM298.05 185.34L299.2 183.99L300.35 185.34L299.2 186.69ZM302.35 185.28L303.5 183.93L304.65 185.28L303.5 186.63ZM306.65 185.22L307.8 183.87L308.95 185.22L307.8 186.57ZM310.95 185.16L312.1 183.81L313.25 185.16L312.1 186.51ZM315.25 185.11L316.4 183.76L317.55 185.11L316.4 186.46ZM319.55 185.06L320.7 183.71L321.85 185.06L320.7 186.41ZM323.85 185.02L325 183.67L326.15 185.02L325 186.37ZM70.15 220.76L71.3 219.41L72.45 220.76L71.3 222.11ZM74.45 214.02L75.6 212.67L76.75 214.02L75.6 215.37ZM78.75 210.01L79.9 208.66L81.05 210.01L79.9 211.36ZM83.05 207.67L84.2 206.32L85.35 207.67L84.2 209.02ZM87.35 205.84L88.5 204.49L89.65 205.84L88.5 207.19ZM91.65 204.54L92.8 203.19L93.95 204.54L92.8 205.89ZM95.95 203.33L97.1 201.98L98.25 203.33L97.1 204.68ZM100.25 202.33L101.4 200.98L102.55 202.33L101.4 203.68ZM104.55 201.4L105.7 200.05L106.85 201.4L105.7 202.75ZM108.85 200.53L110 199.18L111.15 200.53L110 201.88ZM113.15 199.64L114.3 198.29L115.45 199.64L114.3 200.99ZM117.45 198.84L118.6 197.49L119.75 198.84L118.6 200.19ZM121.75 198.23L122.9 196.88L124.05 198.23L122.9 199.58ZM126.05 197.69L127.2 196.34L128.35 197.69L127.2 199.04ZM130.35 197.2L131.5 195.85L132.65 197.2L131.5 198.55ZM134.65 196.75L135.8 195.4L136.95 196.75L135.8 198.1ZM138.95 196.33L140.1 194.98L141.25 196.33L140.1 197.68ZM143.25 195.95L144.4 194.6L145.55 195.95L144.4 197.3ZM147.55 195.59L148.7 194.24L149.85 195.59L148.7 196.94ZM151.85 195.25L153 193.9L154.15 195.25L153 196.6ZM156.15 194.93L157.3 193.58L158.45 194.93L157.3 196.28ZM160.45 194.63L161.6 193.28L162.75 194.63L161.6 195.98ZM164.75 194.33L165.9 192.98L167.05 194.33L165.9 195.68ZM169.05 194.04L170.2 192.69L171.35 194.04L170.2 195.39ZM173.35 193.76L174.5 192.41L175.65 193.76L174.5 195.11ZM177.65 193.48L178.8 192.13L179.95 193.48L178.8 194.83ZM181.95 193.2L183.1 191.85L184.25 193.2L183.1 194.55ZM186.25 192.94L187.4 191.59L188.55 192.94L187.4 194.29ZM190.55 192.69L191.7 191.34L192.85 192.69L191.7 194.04ZM194.85 192.46L196 191.11L197.15 192.46L196 193.81ZM199.15 192.24L200.3 190.89L201.45 192.24L200.3 193.59ZM203.45 192.04L204.6 190.69L205.75 192.04L204.6 193.39ZM207.75 191.85L208.9 190.5L210.05 191.85L208.9 193.2ZM212.05 191.66L213.2 190.31L214.35 191.66L213.2 193.01ZM216.35 191.47L217.5 190.12L218.65 191.47L217.5 192.82ZM220.65 191.29L221.8 189.94L222.95 191.29L221.8 192.64ZM224.95 191.12L226.1 189.77L227.25 191.12L226.1 192.47ZM229.25 190.95L230.4 189.6L231.55 190.95L230.4 192.3ZM233.55 190.79L234.7 189.44L235.85 190.79L234.7 192.14ZM237.85 190.63L239 189.28L240.15 190.63L239 191.98ZM242.15 190.47L243.3 189.12L244.45 190.47L243.3 191.82ZM246.45 190.33L247.6 188.98L248.75 190.33L247.6 191.68ZM250.75 190.18L251.9 188.83L253.05 190.18L251.9 191.53ZM255.05 190.04L256.2 188.69L257.35 190.04L256.2 191.39ZM259.35 189.91L260.5 188.56L261.65 189.91L260.5 191.26ZM263.65 189.77L264.8 188.42L265.95 189.77L264.8 191.12ZM267.95 189.65L269.1 188.3L270.25 189.65L269.1 191ZM272.25 189.53L273.4 188.18L274.55 189.53L273.4 190.88ZM276.55 189.41L277.7 188.06L278.85 189.41L277.7 190.76ZM280.85 189.3L282 187.95L283.15 189.3L282 190.65ZM285.15 189.19L286.3 187.84L287.45 189.19L286.3 190.54ZM289.45 189.09L290.6 187.74L291.75 189.09L290.6 190.44ZM293.75 188.99L294.9 187.64L296.05 188.99L294.9 190.34ZM298.05 188.9L299.2 187.55L300.35 188.9L299.2 190.25ZM302.35 188.81L303.5 187.46L304.65 188.81L303.5 190.16ZM306.65 188.73L307.8 187.38L308.95 188.73L307.8 190.08ZM310.95 188.66L312.1 187.31L313.25 188.66L312.1 190.01ZM315.25 188.58L316.4 187.23L317.55 188.58L316.4 189.93ZM319.55 188.52L320.7 187.17L321.85 188.52L320.7 189.87ZM323.85 188.46L325 187.11L326.15 188.46L325 189.81Z" fill="none" stroke="#3cb98a" stroke-width="0.65"/><polyline points="71.3,218.7 75.6,212.09 79.9,208.21 84.2,205.99 88.5,204.29 92.8,203 97.1,201.8 101.4,200.81 105.7,199.87 110,199.02 114.3,198.13 118.6,197.34 122.9,196.74 127.2,196.2 131.5,195.72 135.8,195.27 140.1,194.86 144.4,194.49 148.7,194.13 153,193.8 157.3,193.49 161.6,193.19 165.9,192.9 170.2,192.61 174.5,192.33 178.8,192.06 183.1,191.8 187.4,191.54 191.7,191.3 196,191.07 200.3,190.86 204.6,190.67 208.9,190.48 213.2,190.29 217.5,190.11 221.8,189.94 226.1,189.77 230.4,189.61 234.7,189.45 239,189.3 243.3,189.15 247.6,189.01 251.9,188.87 256.2,188.74 260.5,188.61 264.8,188.49 269.1,188.37 273.4,188.25 277.7,188.14 282,188.03 286.3,187.93 290.6,187.84 294.9,187.75 299.2,187.66 303.5,187.58 307.8,187.5 312.1,187.43 316.4,187.37 320.7,187.31 325,187.25" fill="none" stroke="#3cb98a" stroke-width="1.0"/><g fill="#3cb98a"><circle cx="71.3" cy="218.7" r="1.0"/><circle cx="75.6" cy="212.09" r="1.0"/><circle cx="79.9" cy="208.21" r="1.0"/><circle cx="84.2" cy="205.99" r="1.0"/><circle cx="88.5" cy="204.29" r="1.0"/><circle cx="92.8" cy="203" r="1.0"/><circle cx="97.1" cy="201.8" r="1.0"/><circle cx="101.4" cy="200.81" r="1.0"/><circle cx="105.7" cy="199.87" r="1.0"/><circle cx="110" cy="199.02" r="1.0"/><circle cx="114.3" cy="198.13" r="1.0"/><circle cx="118.6" cy="197.34" r="1.0"/><circle cx="122.9" cy="196.74" r="1.0"/><circle cx="127.2" cy="196.2" r="1.0"/><circle cx="131.5" cy="195.72" r="1.0"/><circle cx="135.8" cy="195.27" r="1.0"/><circle cx="140.1" cy="194.86" r="1.0"/><circle cx="144.4" cy="194.49" r="1.0"/><circle cx="148.7" cy="194.13" r="1.0"/><circle cx="153" cy="193.8" r="1.0"/><circle cx="157.3" cy="193.49" r="1.0"/><circle cx="161.6" cy="193.19" r="1.0"/><circle cx="165.9" cy="192.9" r="1.0"/><circle cx="170.2" cy="192.61" r="1.0"/><circle cx="174.5" cy="192.33" r="1.0"/><circle cx="178.8" cy="192.06" r="1.0"/><circle cx="183.1" cy="191.8" r="1.0"/><circle cx="187.4" cy="191.54" r="1.0"/><circle cx="191.7" cy="191.3" r="1.0"/><circle cx="196" cy="191.07" r="1.0"/><circle cx="200.3" cy="190.86" r="1.0"/><circle cx="204.6" cy="190.67" r="1.0"/><circle cx="208.9" cy="190.48" r="1.0"/><circle cx="213.2" cy="190.29" r="1.0"/><circle cx="217.5" cy="190.11" r="1.0"/><circle cx="221.8" cy="189.94" r="1.0"/><circle cx="226.1" cy="189.77" r="1.0"/><circle cx="230.4" cy="189.61" r="1.0"/><circle cx="234.7" cy="189.45" r="1.0"/><circle cx="239" cy="189.3" r="1.0"/><circle cx="243.3" cy="189.15" r="1.0"/><circle cx="247.6" cy="189.01" r="1.0"/><circle cx="251.9" cy="188.87" r="1.0"/><circle cx="256.2" cy="188.74" r="1.0"/><circle cx="260.5" cy="188.61" r="1.0"/><circle cx="264.8" cy="188.49" r="1.0"/><circle cx="269.1" cy="188.37" r="1.0"/><circle cx="273.4" cy="188.25" r="1.0"/><circle cx="277.7" cy="188.14" r="1.0"/><circle cx="282" cy="188.03" r="1.0"/><circle cx="286.3" cy="187.93" r="1.0"/><circle cx="290.6" cy="187.84" r="1.0"/><circle cx="294.9" cy="187.75" r="1.0"/><circle cx="299.2" cy="187.66" r="1.0"/><circle cx="303.5" cy="187.58" r="1.0"/><circle cx="307.8" cy="187.5" r="1.0"/><circle cx="312.1" cy="187.43" r="1.0"/><circle cx="316.4" cy="187.37" r="1.0"/><circle cx="320.7" cy="187.31" r="1.0"/><circle cx="325" cy="187.25" r="1.0"/></g>
<path d="M67.2 391.9V563.4M60 563.4H325.6" stroke="#000" stroke-width="1.7" fill="none"/><path d="M60 563.4H67.2M60 520.52H67.2M60 477.65H67.2M60 434.77H67.2M60 391.9H67.2M67 563.4V570.6M99.25 563.4V570.6M131.5 563.4V570.6M163.75 563.4V570.6M196 563.4V570.6M228.25 563.4V570.6M260.5 563.4V570.6M292.75 563.4V570.6M325 563.4V570.6" stroke="#000" stroke-width="1.7" fill="none"/><text x="57.85" y="567.6" font-size="11.5" text-anchor="end">0</text><text x="25.22 32.3 38.52 45.05" y="524.73" font-size="11.5">1×10</text><text x="52.6" y="521.52" font-size="8.5">4</text><text x="25.52 32.3 38.52 45.05" y="481.85" font-size="11.5">2×10</text><text x="52.6" y="478.65" font-size="8.5">4</text><text x="25.66 32.3 38.52 45.05" y="438.97" font-size="11.5">3×10</text><text x="52.6" y="435.77" font-size="8.5">4</text><text x="25.84 32.3 38.52 45.05" y="396.1" font-size="11.5">4×10</text><text x="52.6" y="392.9" font-size="8.5">4</text><text x="67" y="584.2" font-size="11.5" text-anchor="middle">0</text><text x="99.25" y="584.2" font-size="11.5" text-anchor="middle">15</text><text x="131.5" y="584.2" font-size="11.5" text-anchor="middle">30</text><text x="163.75" y="584.2" font-size="11.5" text-anchor="middle">45</text><text x="196" y="584.2" font-size="11.5" text-anchor="middle">60</text><text x="228.25" y="584.2" font-size="11.5" text-anchor="middle">75</text><text x="260.5" y="584.2" font-size="11.5" text-anchor="middle">90</text><text x="292.75" y="584.2" font-size="11.5" text-anchor="middle">105</text><text x="325" y="584.2" font-size="11.5" text-anchor="middle">120</text><text x="0" y="0" font-size="12.2" transform="translate(164.46 603.5) scale(1.0503 1)" font-weight="bold">Time (min)</text><text x="0" y="0" font-size="12" transform="translate(18.1 534.38) rotate(-90) scale(1.0327 1)" font-weight="bold">Fluorescence (a.u.)</text><text x="0" y="0" font-size="11.6" transform="translate(324.38 406.2) scale(1.0671 1)">dsDNA (nM)</text><path d="M337.3 425.4H355.5" stroke="#3cb98a" stroke-width="1.4"/><circle cx="346.4" cy="425.4" r="1.1" fill="#3cb98a"/><text x="365.6" y="430" font-size="11.9">5</text><path d="M337.3 446.88H355.5" stroke="#e0692f" stroke-width="1.4"/><circle cx="346.4" cy="446.88" r="1.1" fill="#e0692f"/><text x="365.6" y="451.48" font-size="11.9">2.5</text><path d="M337.3 468.36H355.5" stroke="#e0a53a" stroke-width="1.4"/><circle cx="346.4" cy="468.36" r="1.1" fill="#e0a53a"/><text x="365.6" y="472.96" font-size="11.9">1</text><path d="M337.3 489.84H355.5" stroke="#7ccbee" stroke-width="1.4"/><circle cx="346.4" cy="489.84" r="1.1" fill="#7ccbee"/><text x="365.6" y="494.44" font-size="11.9">0.5</text><path d="M337.3 511.32H355.5" stroke="#dfe653" stroke-width="1.4"/><circle cx="346.4" cy="511.32" r="1.1" fill="#dfe653"/><text x="365.6" y="515.92" font-size="11.9">0.1</text><path d="M337.3 532.8H355.5" stroke="#3f7fbd" stroke-width="1.4"/><circle cx="346.4" cy="532.8" r="1.1" fill="#3f7fbd"/><text x="365.6" y="537.4" font-size="11.9">0.05</text><path d="M337.3 554.28H355.5" stroke="#cf72b4" stroke-width="1.4"/><circle cx="346.4" cy="554.28" r="1.1" fill="#cf72b4"/><text x="365.6" y="558.88" font-size="11.9">0</text>
<path d="M70.15 534.89L71.3 533.54L72.45 534.89L71.3 536.24ZM74.45 534.81L75.6 533.46L76.75 534.81L75.6 536.16ZM78.75 534.74L79.9 533.39L81.05 534.74L79.9 536.09ZM83.05 534.67L84.2 533.32L85.35 534.67L84.2 536.02ZM87.35 534.59L88.5 533.24L89.65 534.59L88.5 535.94ZM91.65 534.52L92.8 533.17L93.95 534.52L92.8 535.87ZM95.95 534.44L97.1 533.09L98.25 534.44L97.1 535.79ZM100.25 534.37L101.4 533.02L102.55 534.37L101.4 535.72ZM104.55 534.3L105.7 532.95L106.85 534.3L105.7 535.65ZM108.85 534.22L110 532.87L111.15 534.22L110 535.57ZM113.15 534.15L114.3 532.8L115.45 534.15L114.3 535.5ZM117.45 534.07L118.6 532.72L119.75 534.07L118.6 535.42ZM121.75 534L122.9 532.65L124.05 534L122.9 535.35ZM126.05 533.93L127.2 532.58L128.35 533.93L127.2 535.28ZM130.35 533.85L131.5 532.5L132.65 533.85L131.5 535.2ZM134.65 533.78L135.8 532.43L136.95 533.78L135.8 535.13ZM138.95 533.71L140.1 532.36L141.25 533.71L140.1 535.06ZM143.25 533.63L144.4 532.28L145.55 533.63L144.4 534.98ZM147.55 533.56L148.7 532.21L149.85 533.56L148.7 534.91ZM151.85 533.48L153 532.13L154.15 533.48L153 534.83ZM156.15 533.41L157.3 532.06L158.45 533.41L157.3 534.76ZM160.45 533.34L161.6 531.99L162.75 533.34L161.6 534.69ZM164.75 533.26L165.9 531.91L167.05 533.26L165.9 534.61ZM169.05 533.19L170.2 531.84L171.35 533.19L170.2 534.54ZM173.35 533.11L174.5 531.76L175.65 533.11L174.5 534.46ZM177.65 533.04L178.8 531.69L179.95 533.04L178.8 534.39ZM181.95 532.97L183.1 531.62L184.25 532.97L183.1 534.32ZM186.25 532.89L187.4 531.54L188.55 532.89L187.4 534.24ZM190.55 532.82L191.7 531.47L192.85 532.82L191.7 534.17ZM194.85 532.74L196 531.39L197.15 532.74L196 534.09ZM199.15 532.7L200.3 531.35L201.45 532.7L200.3 534.05ZM203.45 532.66L204.6 531.31L205.75 532.66L204.6 534.01ZM207.75 532.62L208.9 531.27L210.05 532.62L208.9 533.97ZM212.05 532.57L213.2 531.22L214.35 532.57L213.2 533.92ZM216.35 532.53L217.5 531.18L218.65 532.53L217.5 533.88ZM220.65 532.49L221.8 531.14L222.95 532.49L221.8 533.84ZM224.95 532.44L226.1 531.09L227.25 532.44L226.1 533.79ZM229.25 532.4L230.4 531.05L231.55 532.4L230.4 533.75ZM233.55 532.36L234.7 531.01L235.85 532.36L234.7 533.71ZM237.85 532.32L239 530.97L240.15 532.32L239 533.67ZM242.15 532.27L243.3 530.92L244.45 532.27L243.3 533.62ZM246.45 532.23L247.6 530.88L248.75 532.23L247.6 533.58ZM250.75 532.19L251.9 530.84L253.05 532.19L251.9 533.54ZM255.05 532.14L256.2 530.79L257.35 532.14L256.2 533.49ZM259.35 532.1L260.5 530.75L261.65 532.1L260.5 533.45ZM263.65 532.06L264.8 530.71L265.95 532.06L264.8 533.41ZM267.95 532.02L269.1 530.67L270.25 532.02L269.1 533.37ZM272.25 531.97L273.4 530.62L274.55 531.97L273.4 533.32ZM276.55 531.93L277.7 530.58L278.85 531.93L277.7 533.28ZM280.85 531.89L282 530.54L283.15 531.89L282 533.24ZM285.15 531.84L286.3 530.49L287.45 531.84L286.3 533.19ZM289.45 531.8L290.6 530.45L291.75 531.8L290.6 533.15ZM293.75 531.76L294.9 530.41L296.05 531.76L294.9 533.11ZM298.05 531.72L299.2 530.37L300.35 531.72L299.2 533.07ZM302.35 531.67L303.5 530.32L304.65 531.67L303.5 533.02ZM306.65 531.63L307.8 530.28L308.95 531.63L307.8 532.98ZM310.95 531.59L312.1 530.24L313.25 531.59L312.1 532.94ZM315.25 531.54L316.4 530.19L317.55 531.54L316.4 532.89ZM319.55 531.5L320.7 530.15L321.85 531.5L320.7 532.85ZM323.85 531.46L325 530.11L326.15 531.46L325 532.81ZM70.15 536.17L71.3 534.82L72.45 536.17L71.3 537.52ZM74.45 536.1L75.6 534.75L76.75 536.1L75.6 537.45ZM78.75 536.03L79.9 534.68L81.05 536.03L79.9 537.38ZM83.05 535.95L84.2 534.6L85.35 535.95L84.2 537.3ZM87.35 535.88L88.5 534.53L89.65 535.88L88.5 537.23ZM91.65 535.8L92.8 534.45L93.95 535.8L92.8 537.15ZM95.95 535.73L97.1 534.38L98.25 535.73L97.1 537.08ZM100.25 535.66L101.4 534.31L102.55 535.66L101.4 537.01ZM104.55 535.58L105.7 534.23L106.85 535.58L105.7 536.93ZM108.85 535.51L110 534.16L111.15 535.51L110 536.86ZM113.15 535.44L114.3 534.09L115.45 535.44L114.3 536.79ZM117.45 535.36L118.6 534.01L119.75 535.36L118.6 536.71ZM121.75 535.29L122.9 533.94L124.05 535.29L122.9 536.64ZM126.05 535.21L127.2 533.86L128.35 535.21L127.2 536.56ZM130.35 535.14L131.5 533.79L132.65 535.14L131.5 536.49ZM134.65 535.07L135.8 533.72L136.95 535.07L135.8 536.42ZM138.95 534.99L140.1 533.64L141.25 534.99L140.1 536.34ZM143.25 534.92L144.4 533.57L145.55 534.92L144.4 536.27ZM147.55 534.84L148.7 533.49L149.85 534.84L148.7 536.19ZM151.85 534.77L153 533.42L154.15 534.77L153 536.12ZM156.15 534.7L157.3 533.35L158.45 534.7L157.3 536.05ZM160.45 534.62L161.6 533.27L162.75 534.62L161.6 535.97ZM164.75 534.55L165.9 533.2L167.05 534.55L165.9 535.9ZM169.05 534.47L170.2 533.12L171.35 534.47L170.2 535.82ZM173.35 534.4L174.5 533.05L175.65 534.4L174.5 535.75ZM177.65 534.33L178.8 532.98L179.95 534.33L178.8 535.68ZM181.95 534.25L183.1 532.9L184.25 534.25L183.1 535.6ZM186.25 534.18L187.4 532.83L188.55 534.18L187.4 535.53ZM190.55 534.1L191.7 532.75L192.85 534.1L191.7 535.45ZM194.85 534.03L196 532.68L197.15 534.03L196 535.38ZM199.15 533.99L200.3 532.64L201.45 533.99L200.3 535.34ZM203.45 533.94L204.6 532.59L205.75 533.94L204.6 535.29ZM207.75 533.9L208.9 532.55L210.05 533.9L208.9 535.25ZM212.05 533.86L213.2 532.51L214.35 533.86L213.2 535.21ZM216.35 533.82L217.5 532.47L218.65 533.82L217.5 535.17ZM220.65 533.77L221.8 532.42L222.95 533.77L221.8 535.12ZM224.95 533.73L226.1 532.38L227.25 533.73L226.1 535.08ZM229.25 533.69L230.4 532.34L231.55 533.69L230.4 535.04ZM233.55 533.64L234.7 532.29L235.85 533.64L234.7 534.99ZM237.85 533.6L239 532.25L240.15 533.6L239 534.95ZM242.15 533.56L243.3 532.21L244.45 533.56L243.3 534.91ZM246.45 533.52L247.6 532.17L248.75 533.52L247.6 534.87ZM250.75 533.47L251.9 532.12L253.05 533.47L251.9 534.82ZM255.05 533.43L256.2 532.08L257.35 533.43L256.2 534.78ZM259.35 533.39L260.5 532.04L261.65 533.39L260.5 534.74ZM263.65 533.34L264.8 531.99L265.95 533.34L264.8 534.69ZM267.95 533.3L269.1 531.95L270.25 533.3L269.1 534.65ZM272.25 533.26L273.4 531.91L274.55 533.26L273.4 534.61ZM276.55 533.22L277.7 531.87L278.85 533.22L277.7 534.57ZM280.85 533.17L282 531.82L283.15 533.17L282 534.52ZM285.15 533.13L286.3 531.78L287.45 533.13L286.3 534.48ZM289.45 533.09L290.6 531.74L291.75 533.09L290.6 534.44ZM293.75 533.04L294.9 531.69L296.05 533.04L294.9 534.39ZM298.05 533L299.2 531.65L300.35 533L299.2 534.35ZM302.35 532.96L303.5 531.61L304.65 532.96L303.5 534.31ZM306.65 532.92L307.8 531.57L308.95 532.92L307.8 534.27ZM310.95 532.87L312.1 531.52L313.25 532.87L312.1 534.22ZM315.25 532.83L316.4 531.48L317.55 532.83L316.4 534.18ZM319.55 532.79L320.7 531.44L321.85 532.79L320.7 534.14ZM323.85 532.74L325 531.39L326.15 532.74L325 534.09Z" fill="none" stroke="#cf72b4" stroke-width="0.65"/><polyline points="71.3,535.53 75.6,535.46 79.9,535.38 84.2,535.31 88.5,535.24 92.8,535.16 97.1,535.09 101.4,535.01 105.7,534.94 110,534.87 114.3,534.79 118.6,534.72 122.9,534.64 127.2,534.57 131.5,534.5 135.8,534.42 140.1,534.35 144.4,534.27 148.7,534.2 153,534.13 157.3,534.05 161.6,533.98 165.9,533.9 170.2,533.83 174.5,533.76 178.8,533.68 183.1,533.61 187.4,533.54 191.7,533.46 196,533.39 200.3,533.34 204.6,533.3 208.9,533.26 213.2,533.22 217.5,533.17 221.8,533.13 226.1,533.09 230.4,533.04 234.7,533 239,532.96 243.3,532.92 247.6,532.87 251.9,532.83 256.2,532.79 260.5,532.74 264.8,532.7 269.1,532.66 273.4,532.62 277.7,532.57 282,532.53 286.3,532.49 290.6,532.44 294.9,532.4 299.2,532.36 303.5,532.32 307.8,532.27 312.1,532.23 316.4,532.19 320.7,532.14 325,532.1" fill="none" stroke="#cf72b4" stroke-width="1.0"/><g fill="#cf72b4"><circle cx="71.3" cy="535.53" r="1.0"/><circle cx="75.6" cy="535.46" r="1.0"/><circle cx="79.9" cy="535.38" r="1.0"/><circle cx="84.2" cy="535.31" r="1.0"/><circle cx="88.5" cy="535.24" r="1.0"/><circle cx="92.8" cy="535.16" r="1.0"/><circle cx="97.1" cy="535.09" r="1.0"/><circle cx="101.4" cy="535.01" r="1.0"/><circle cx="105.7" cy="534.94" r="1.0"/><circle cx="110" cy="534.87" r="1.0"/><circle cx="114.3" cy="534.79" r="1.0"/><circle cx="118.6" cy="534.72" r="1.0"/><circle cx="122.9" cy="534.64" r="1.0"/><circle cx="127.2" cy="534.57" r="1.0"/><circle cx="131.5" cy="534.5" r="1.0"/><circle cx="135.8" cy="534.42" r="1.0"/><circle cx="140.1" cy="534.35" r="1.0"/><circle cx="144.4" cy="534.27" r="1.0"/><circle cx="148.7" cy="534.2" r="1.0"/><circle cx="153" cy="534.13" r="1.0"/><circle cx="157.3" cy="534.05" r="1.0"/><circle cx="161.6" cy="533.98" r="1.0"/><circle cx="165.9" cy="533.9" r="1.0"/><circle cx="170.2" cy="533.83" r="1.0"/><circle cx="174.5" cy="533.76" r="1.0"/><circle cx="178.8" cy="533.68" r="1.0"/><circle cx="183.1" cy="533.61" r="1.0"/><circle cx="187.4" cy="533.54" r="1.0"/><circle cx="191.7" cy="533.46" r="1.0"/><circle cx="196" cy="533.39" r="1.0"/><circle cx="200.3" cy="533.34" r="1.0"/><circle cx="204.6" cy="533.3" r="1.0"/><circle cx="208.9" cy="533.26" r="1.0"/><circle cx="213.2" cy="533.22" r="1.0"/><circle cx="217.5" cy="533.17" r="1.0"/><circle cx="221.8" cy="533.13" r="1.0"/><circle cx="226.1" cy="533.09" r="1.0"/><circle cx="230.4" cy="533.04" r="1.0"/><circle cx="234.7" cy="533" r="1.0"/><circle cx="239" cy="532.96" r="1.0"/><circle cx="243.3" cy="532.92" r="1.0"/><circle cx="247.6" cy="532.87" r="1.0"/><circle cx="251.9" cy="532.83" r="1.0"/><circle cx="256.2" cy="532.79" r="1.0"/><circle cx="260.5" cy="532.74" r="1.0"/><circle cx="264.8" cy="532.7" r="1.0"/><circle cx="269.1" cy="532.66" r="1.0"/><circle cx="273.4" cy="532.62" r="1.0"/><circle cx="277.7" cy="532.57" r="1.0"/><circle cx="282" cy="532.53" r="1.0"/><circle cx="286.3" cy="532.49" r="1.0"/><circle cx="290.6" cy="532.44" r="1.0"/><circle cx="294.9" cy="532.4" r="1.0"/><circle cx="299.2" cy="532.36" r="1.0"/><circle cx="303.5" cy="532.32" r="1.0"/><circle cx="307.8" cy="532.27" r="1.0"/><circle cx="312.1" cy="532.23" r="1.0"/><circle cx="316.4" cy="532.19" r="1.0"/><circle cx="320.7" cy="532.14" r="1.0"/><circle cx="325" cy="532.1" r="1.0"/></g>
<path d="M70.15 535.45L71.3 534.1L72.45 535.45L71.3 536.8ZM74.45 535.36L75.6 534.01L76.75 535.36L75.6 536.71ZM78.75 535.28L79.9 533.93L81.05 535.28L79.9 536.63ZM83.05 535.2L84.2 533.85L85.35 535.2L84.2 536.55ZM87.35 535.12L88.5 533.77L89.65 535.12L88.5 536.47ZM91.65 535.04L92.8 533.69L93.95 535.04L92.8 536.39ZM95.95 534.96L97.1 533.61L98.25 534.96L97.1 536.31ZM100.25 534.88L101.4 533.53L102.55 534.88L101.4 536.23ZM104.55 534.79L105.7 533.44L106.85 534.79L105.7 536.14ZM108.85 534.71L110 533.36L111.15 534.71L110 536.06ZM113.15 534.63L114.3 533.28L115.45 534.63L114.3 535.98ZM117.45 534.55L118.6 533.2L119.75 534.55L118.6 535.9ZM121.75 534.47L122.9 533.12L124.05 534.47L122.9 535.82ZM126.05 534.39L127.2 533.04L128.35 534.39L127.2 535.74ZM130.35 534.31L131.5 532.96L132.65 534.31L131.5 535.66ZM134.65 534.22L135.8 532.87L136.95 534.22L135.8 535.57ZM138.95 534.14L140.1 532.79L141.25 534.14L140.1 535.49ZM143.25 534.06L144.4 532.71L145.55 534.06L144.4 535.41ZM147.55 533.98L148.7 532.63L149.85 533.98L148.7 535.33ZM151.85 533.9L153 532.55L154.15 533.9L153 535.25ZM156.15 533.82L157.3 532.47L158.45 533.82L157.3 535.17ZM160.45 533.73L161.6 532.38L162.75 533.73L161.6 535.08ZM164.75 533.65L165.9 532.3L167.05 533.65L165.9 535ZM169.05 533.57L170.2 532.22L171.35 533.57L170.2 534.92ZM173.35 533.49L174.5 532.14L175.65 533.49L174.5 534.84ZM177.65 533.41L178.8 532.06L179.95 533.41L178.8 534.76ZM181.95 533.33L183.1 531.98L184.25 533.33L183.1 534.68ZM186.25 533.25L187.4 531.9L188.55 533.25L187.4 534.6ZM190.55 533.16L191.7 531.81L192.85 533.16L191.7 534.51ZM194.85 533.08L196 531.73L197.15 533.08L196 534.43ZM199.15 533L200.3 531.65L201.45 533L200.3 534.35ZM203.45 532.96L204.6 531.61L205.75 532.96L204.6 534.31ZM207.75 532.92L208.9 531.57L210.05 532.92L208.9 534.27ZM212.05 532.89L213.2 531.54L214.35 532.89L213.2 534.24ZM216.35 532.85L217.5 531.5L218.65 532.85L217.5 534.2ZM220.65 532.81L221.8 531.46L222.95 532.81L221.8 534.16ZM224.95 532.77L226.1 531.42L227.25 532.77L226.1 534.12ZM229.25 532.73L230.4 531.38L231.55 532.73L230.4 534.08ZM233.55 532.69L234.7 531.34L235.85 532.69L234.7 534.04ZM237.85 532.66L239 531.31L240.15 532.66L239 534.01ZM242.15 532.62L243.3 531.27L244.45 532.62L243.3 533.97ZM246.45 532.58L247.6 531.23L248.75 532.58L247.6 533.93ZM250.75 532.54L251.9 531.19L253.05 532.54L251.9 533.89ZM255.05 532.5L256.2 531.15L257.35 532.5L256.2 533.85ZM259.35 532.46L260.5 531.11L261.65 532.46L260.5 533.81ZM263.65 532.43L264.8 531.08L265.95 532.43L264.8 533.78ZM267.95 532.39L269.1 531.04L270.25 532.39L269.1 533.74ZM272.25 532.35L273.4 531L274.55 532.35L273.4 533.7ZM276.55 532.31L277.7 530.96L278.85 532.31L277.7 533.66ZM280.85 532.27L282 530.92L283.15 532.27L282 533.62ZM285.15 532.23L286.3 530.88L287.45 532.23L286.3 533.58ZM289.45 532.19L290.6 530.84L291.75 532.19L290.6 533.54ZM293.75 532.16L294.9 530.81L296.05 532.16L294.9 533.51ZM298.05 532.12L299.2 530.77L300.35 532.12L299.2 533.47ZM302.35 532.08L303.5 530.73L304.65 532.08L303.5 533.43ZM306.65 532.04L307.8 530.69L308.95 532.04L307.8 533.39ZM310.95 532L312.1 530.65L313.25 532L312.1 533.35ZM315.25 531.96L316.4 530.61L317.55 531.96L316.4 533.31ZM319.55 531.93L320.7 530.58L321.85 531.93L320.7 533.28ZM323.85 531.89L325 530.54L326.15 531.89L325 533.24ZM70.15 536.47L71.3 535.12L72.45 536.47L71.3 537.82ZM74.45 536.39L75.6 535.04L76.75 536.39L75.6 537.74ZM78.75 536.31L79.9 534.96L81.05 536.31L79.9 537.66ZM83.05 536.23L84.2 534.88L85.35 536.23L84.2 537.58ZM87.35 536.15L88.5 534.8L89.65 536.15L88.5 537.5ZM91.65 536.07L92.8 534.72L93.95 536.07L92.8 537.42ZM95.95 535.99L97.1 534.64L98.25 535.99L97.1 537.34ZM100.25 535.9L101.4 534.55L102.55 535.9L101.4 537.25ZM104.55 535.82L105.7 534.47L106.85 535.82L105.7 537.17ZM108.85 535.74L110 534.39L111.15 535.74L110 537.09ZM113.15 535.66L114.3 534.31L115.45 535.66L114.3 537.01ZM117.45 535.58L118.6 534.23L119.75 535.58L118.6 536.93ZM121.75 535.5L122.9 534.15L124.05 535.5L122.9 536.85ZM126.05 535.42L127.2 534.07L128.35 535.42L127.2 536.77ZM130.35 535.33L131.5 533.98L132.65 535.33L131.5 536.68ZM134.65 535.25L135.8 533.9L136.95 535.25L135.8 536.6ZM138.95 535.17L140.1 533.82L141.25 535.17L140.1 536.52ZM143.25 535.09L144.4 533.74L145.55 535.09L144.4 536.44ZM147.55 535.01L148.7 533.66L149.85 535.01L148.7 536.36ZM151.85 534.93L153 533.58L154.15 534.93L153 536.28ZM156.15 534.85L157.3 533.5L158.45 534.85L157.3 536.2ZM160.45 534.76L161.6 533.41L162.75 534.76L161.6 536.11ZM164.75 534.68L165.9 533.33L167.05 534.68L165.9 536.03ZM169.05 534.6L170.2 533.25L171.35 534.6L170.2 535.95ZM173.35 534.52L174.5 533.17L175.65 534.52L174.5 535.87ZM177.65 534.44L178.8 533.09L179.95 534.44L178.8 535.79ZM181.95 534.36L183.1 533.01L184.25 534.36L183.1 535.71ZM186.25 534.28L187.4 532.93L188.55 534.28L187.4 535.63ZM190.55 534.19L191.7 532.84L192.85 534.19L191.7 535.54ZM194.85 534.11L196 532.76L197.15 534.11L196 535.46ZM199.15 534.03L200.3 532.68L201.45 534.03L200.3 535.38ZM203.45 533.99L204.6 532.64L205.75 533.99L204.6 535.34ZM207.75 533.95L208.9 532.6L210.05 533.95L208.9 535.3ZM212.05 533.92L213.2 532.57L214.35 533.92L213.2 535.27ZM216.35 533.88L217.5 532.53L218.65 533.88L217.5 535.23ZM220.65 533.84L221.8 532.49L222.95 533.84L221.8 535.19ZM224.95 533.8L226.1 532.45L227.25 533.8L226.1 535.15ZM229.25 533.76L230.4 532.41L231.55 533.76L230.4 535.11ZM233.55 533.72L234.7 532.37L235.85 533.72L234.7 535.07ZM237.85 533.68L239 532.33L240.15 533.68L239 535.03ZM242.15 533.65L243.3 532.3L244.45 533.65L243.3 535ZM246.45 533.61L247.6 532.26L248.75 533.61L247.6 534.96ZM250.75 533.57L251.9 532.22L253.05 533.57L251.9 534.92ZM255.05 533.53L256.2 532.18L257.35 533.53L256.2 534.88ZM259.35 533.49L260.5 532.14L261.65 533.49L260.5 534.84ZM263.65 533.45L264.8 532.1L265.95 533.45L264.8 534.8ZM267.95 533.42L269.1 532.07L270.25 533.42L269.1 534.77ZM272.25 533.38L273.4 532.03L274.55 533.38L273.4 534.73ZM276.55 533.34L277.7 531.99L278.85 533.34L277.7 534.69ZM280.85 533.3L282 531.95L283.15 533.3L282 534.65ZM285.15 533.26L286.3 531.91L287.45 533.26L286.3 534.61ZM289.45 533.22L290.6 531.87L291.75 533.22L290.6 534.57ZM293.75 533.18L294.9 531.83L296.05 533.18L294.9 534.53ZM298.05 533.15L299.2 531.8L300.35 533.15L299.2 534.5ZM302.35 533.11L303.5 531.76L304.65 533.11L303.5 534.46ZM306.65 533.07L307.8 531.72L308.95 533.07L307.8 534.42ZM310.95 533.03L312.1 531.68L313.25 533.03L312.1 534.38ZM315.25 532.99L316.4 531.64L317.55 532.99L316.4 534.34ZM319.55 532.95L320.7 531.6L321.85 532.95L320.7 534.3ZM323.85 532.92L325 531.57L326.15 532.92L325 534.27Z" fill="none" stroke="#3f7fbd" stroke-width="0.65"/><polyline points="71.3,535.96 75.6,535.88 79.9,535.8 84.2,535.72 88.5,535.63 92.8,535.55 97.1,535.47 101.4,535.39 105.7,535.31 110,535.23 114.3,535.15 118.6,535.06 122.9,534.98 127.2,534.9 131.5,534.82 135.8,534.74 140.1,534.66 144.4,534.58 148.7,534.49 153,534.41 157.3,534.33 161.6,534.25 165.9,534.17 170.2,534.09 174.5,534 178.8,533.92 183.1,533.84 187.4,533.76 191.7,533.68 196,533.6 200.3,533.52 204.6,533.48 208.9,533.44 213.2,533.4 217.5,533.36 221.8,533.32 226.1,533.29 230.4,533.25 234.7,533.21 239,533.17 243.3,533.13 247.6,533.09 251.9,533.05 256.2,533.02 260.5,532.98 264.8,532.94 269.1,532.9 273.4,532.86 277.7,532.82 282,532.79 286.3,532.75 290.6,532.71 294.9,532.67 299.2,532.63 303.5,532.59 307.8,532.56 312.1,532.52 316.4,532.48 320.7,532.44 325,532.4" fill="none" stroke="#3f7fbd" stroke-width="1.0"/><g fill="#3f7fbd"><circle cx="71.3" cy="535.96" r="1.0"/><circle cx="75.6" cy="535.88" r="1.0"/><circle cx="79.9" cy="535.8" r="1.0"/><circle cx="84.2" cy="535.72" r="1.0"/><circle cx="88.5" cy="535.63" r="1.0"/><circle cx="92.8" cy="535.55" r="1.0"/><circle cx="97.1" cy="535.47" r="1.0"/><circle cx="101.4" cy="535.39" r="1.0"/><circle cx="105.7" cy="535.31" r="1.0"/><circle cx="110" cy="535.23" r="1.0"/><circle cx="114.3" cy="535.15" r="1.0"/><circle cx="118.6" cy="535.06" r="1.0"/><circle cx="122.9" cy="534.98" r="1.0"/><circle cx="127.2" cy="534.9" r="1.0"/><circle cx="131.5" cy="534.82" r="1.0"/><circle cx="135.8" cy="534.74" r="1.0"/><circle cx="140.1" cy="534.66" r="1.0"/><circle cx="144.4" cy="534.58" r="1.0"/><circle cx="148.7" cy="534.49" r="1.0"/><circle cx="153" cy="534.41" r="1.0"/><circle cx="157.3" cy="534.33" r="1.0"/><circle cx="161.6" cy="534.25" r="1.0"/><circle cx="165.9" cy="534.17" r="1.0"/><circle cx="170.2" cy="534.09" r="1.0"/><circle cx="174.5" cy="534" r="1.0"/><circle cx="178.8" cy="533.92" r="1.0"/><circle cx="183.1" cy="533.84" r="1.0"/><circle cx="187.4" cy="533.76" r="1.0"/><circle cx="191.7" cy="533.68" r="1.0"/><circle cx="196" cy="533.6" r="1.0"/><circle cx="200.3" cy="533.52" r="1.0"/><circle cx="204.6" cy="533.48" r="1.0"/><circle cx="208.9" cy="533.44" r="1.0"/><circle cx="213.2" cy="533.4" r="1.0"/><circle cx="217.5" cy="533.36" r="1.0"/><circle cx="221.8" cy="533.32" r="1.0"/><circle cx="226.1" cy="533.29" r="1.0"/><circle cx="230.4" cy="533.25" r="1.0"/><circle cx="234.7" cy="533.21" r="1.0"/><circle cx="239" cy="533.17" r="1.0"/><circle cx="243.3" cy="533.13" r="1.0"/><circle cx="247.6" cy="533.09" r="1.0"/><circle cx="251.9" cy="533.05" r="1.0"/><circle cx="256.2" cy="533.02" r="1.0"/><circle cx="260.5" cy="532.98" r="1.0"/><circle cx="264.8" cy="532.94" r="1.0"/><circle cx="269.1" cy="532.9" r="1.0"/><circle cx="273.4" cy="532.86" r="1.0"/><circle cx="277.7" cy="532.82" r="1.0"/><circle cx="282" cy="532.79" r="1.0"/><circle cx="286.3" cy="532.75" r="1.0"/><circle cx="290.6" cy="532.71" r="1.0"/><circle cx="294.9" cy="532.67" r="1.0"/><circle cx="299.2" cy="532.63" r="1.0"/><circle cx="303.5" cy="532.59" r="1.0"/><circle cx="307.8" cy="532.56" r="1.0"/><circle cx="312.1" cy="532.52" r="1.0"/><circle cx="316.4" cy="532.48" r="1.0"/><circle cx="320.7" cy="532.44" r="1.0"/><circle cx="325" cy="532.4" r="1.0"/></g>
<path d="M70.15 533.17L71.3 531.82L72.45 533.17L71.3 534.52ZM74.45 533.09L75.6 531.74L76.75 533.09L75.6 534.44ZM78.75 533L79.9 531.65L81.05 533L79.9 534.35ZM83.05 532.92L84.2 531.57L85.35 532.92L84.2 534.27ZM87.35 532.83L88.5 531.48L89.65 532.83L88.5 534.18ZM91.65 532.74L92.8 531.39L93.95 532.74L92.8 534.09ZM95.95 532.66L97.1 531.31L98.25 532.66L97.1 534.01ZM100.25 532.57L101.4 531.22L102.55 532.57L101.4 533.92ZM104.55 532.49L105.7 531.14L106.85 532.49L105.7 533.84ZM108.85 532.4L110 531.05L111.15 532.4L110 533.75ZM113.15 532.32L114.3 530.97L115.45 532.32L114.3 533.67ZM117.45 532.23L118.6 530.88L119.75 532.23L118.6 533.58ZM121.75 532.14L122.9 530.79L124.05 532.14L122.9 533.49ZM126.05 532.06L127.2 530.71L128.35 532.06L127.2 533.41ZM130.35 531.97L131.5 530.62L132.65 531.97L131.5 533.32ZM134.65 531.89L135.8 530.54L136.95 531.89L135.8 533.24ZM138.95 531.8L140.1 530.45L141.25 531.8L140.1 533.15ZM143.25 531.72L144.4 530.37L145.55 531.72L144.4 533.07ZM147.55 531.63L148.7 530.28L149.85 531.63L148.7 532.98ZM151.85 531.54L153 530.19L154.15 531.54L153 532.89ZM156.15 531.46L157.3 530.11L158.45 531.46L157.3 532.81ZM160.45 531.37L161.6 530.02L162.75 531.37L161.6 532.72ZM164.75 531.29L165.9 529.94L167.05 531.29L165.9 532.64ZM169.05 531.2L170.2 529.85L171.35 531.2L170.2 532.55ZM173.35 531.12L174.5 529.77L175.65 531.12L174.5 532.47ZM177.65 531.03L178.8 529.68L179.95 531.03L178.8 532.38ZM181.95 530.94L183.1 529.59L184.25 530.94L183.1 532.29ZM186.25 530.86L187.4 529.51L188.55 530.86L187.4 532.21ZM190.55 530.77L191.7 529.42L192.85 530.77L191.7 532.12ZM194.85 530.69L196 529.34L197.15 530.69L196 532.04ZM199.15 530.6L200.3 529.25L201.45 530.6L200.3 531.95ZM203.45 530.56L204.6 529.21L205.75 530.56L204.6 531.91ZM207.75 530.52L208.9 529.17L210.05 530.52L208.9 531.87ZM212.05 530.48L213.2 529.13L214.35 530.48L213.2 531.83ZM216.35 530.44L217.5 529.09L218.65 530.44L217.5 531.79ZM220.65 530.4L221.8 529.05L222.95 530.4L221.8 531.75ZM224.95 530.36L226.1 529.01L227.25 530.36L226.1 531.71ZM229.25 530.32L230.4 528.97L231.55 530.32L230.4 531.67ZM233.55 530.28L234.7 528.93L235.85 530.28L234.7 531.63ZM237.85 530.24L239 528.89L240.15 530.24L239 531.59ZM242.15 530.2L243.3 528.85L244.45 530.2L243.3 531.55ZM246.45 530.16L247.6 528.81L248.75 530.16L247.6 531.51ZM250.75 530.12L251.9 528.77L253.05 530.12L251.9 531.47ZM255.05 530.08L256.2 528.73L257.35 530.08L256.2 531.43ZM259.35 530.04L260.5 528.69L261.65 530.04L260.5 531.39ZM263.65 530L264.8 528.65L265.95 530L264.8 531.35ZM267.95 529.96L269.1 528.61L270.25 529.96L269.1 531.31ZM272.25 529.92L273.4 528.57L274.55 529.92L273.4 531.27ZM276.55 529.88L277.7 528.53L278.85 529.88L277.7 531.23ZM280.85 529.84L282 528.49L283.15 529.84L282 531.19ZM285.15 529.8L286.3 528.45L287.45 529.8L286.3 531.15ZM289.45 529.76L290.6 528.41L291.75 529.76L290.6 531.11ZM293.75 529.72L294.9 528.37L296.05 529.72L294.9 531.07ZM298.05 529.68L299.2 528.33L300.35 529.68L299.2 531.03ZM302.35 529.64L303.5 528.29L304.65 529.64L303.5 530.99ZM306.65 529.6L307.8 528.25L308.95 529.6L307.8 530.95ZM310.95 529.56L312.1 528.21L313.25 529.56L312.1 530.91ZM315.25 529.52L316.4 528.17L317.55 529.52L316.4 530.87ZM319.55 529.48L320.7 528.13L321.85 529.48L320.7 530.83ZM323.85 529.44L325 528.09L326.15 529.44L325 530.79ZM70.15 534.46L71.3 533.11L72.45 534.46L71.3 535.81ZM74.45 534.37L75.6 533.02L76.75 534.37L75.6 535.72ZM78.75 534.29L79.9 532.94L81.05 534.29L79.9 535.64ZM83.05 534.2L84.2 532.85L85.35 534.2L84.2 535.55ZM87.35 534.12L88.5 532.77L89.65 534.12L88.5 535.47ZM91.65 534.03L92.8 532.68L93.95 534.03L92.8 535.38ZM95.95 533.94L97.1 532.59L98.25 533.94L97.1 535.29ZM100.25 533.86L101.4 532.51L102.55 533.86L101.4 535.21ZM104.55 533.77L105.7 532.42L106.85 533.77L105.7 535.12ZM108.85 533.69L110 532.34L111.15 533.69L110 535.04ZM113.15 533.6L114.3 532.25L115.45 533.6L114.3 534.95ZM117.45 533.52L118.6 532.17L119.75 533.52L118.6 534.87ZM121.75 533.43L122.9 532.08L124.05 533.43L122.9 534.78ZM126.05 533.34L127.2 531.99L128.35 533.34L127.2 534.69ZM130.35 533.26L131.5 531.91L132.65 533.26L131.5 534.61ZM134.65 533.17L135.8 531.82L136.95 533.17L135.8 534.52ZM138.95 533.09L140.1 531.74L141.25 533.09L140.1 534.44ZM143.25 533L144.4 531.65L145.55 533L144.4 534.35ZM147.55 532.92L148.7 531.57L149.85 532.92L148.7 534.27ZM151.85 532.83L153 531.48L154.15 532.83L153 534.18ZM156.15 532.74L157.3 531.39L158.45 532.74L157.3 534.09ZM160.45 532.66L161.6 531.31L162.75 532.66L161.6 534.01ZM164.75 532.57L165.9 531.22L167.05 532.57L165.9 533.92ZM169.05 532.49L170.2 531.14L171.35 532.49L170.2 533.84ZM173.35 532.4L174.5 531.05L175.65 532.4L174.5 533.75ZM177.65 532.32L178.8 530.97L179.95 532.32L178.8 533.67ZM181.95 532.23L183.1 530.88L184.25 532.23L183.1 533.58ZM186.25 532.14L187.4 530.79L188.55 532.14L187.4 533.49ZM190.55 532.06L191.7 530.71L192.85 532.06L191.7 533.41ZM194.85 531.97L196 530.62L197.15 531.97L196 533.32ZM199.15 531.89L200.3 530.54L201.45 531.89L200.3 533.24ZM203.45 531.85L204.6 530.5L205.75 531.85L204.6 533.2ZM207.75 531.81L208.9 530.46L210.05 531.81L208.9 533.16ZM212.05 531.77L213.2 530.42L214.35 531.77L213.2 533.12ZM216.35 531.73L217.5 530.38L218.65 531.73L217.5 533.08ZM220.65 531.69L221.8 530.34L222.95 531.69L221.8 533.04ZM224.95 531.65L226.1 530.3L227.25 531.65L226.1 533ZM229.25 531.61L230.4 530.26L231.55 531.61L230.4 532.96ZM233.55 531.57L234.7 530.22L235.85 531.57L234.7 532.92ZM237.85 531.53L239 530.18L240.15 531.53L239 532.88ZM242.15 531.49L243.3 530.14L244.45 531.49L243.3 532.84ZM246.45 531.45L247.6 530.1L248.75 531.45L247.6 532.8ZM250.75 531.41L251.9 530.06L253.05 531.41L251.9 532.76ZM255.05 531.37L256.2 530.02L257.35 531.37L256.2 532.72ZM259.35 531.33L260.5 529.98L261.65 531.33L260.5 532.68ZM263.65 531.29L264.8 529.94L265.95 531.29L264.8 532.64ZM267.95 531.25L269.1 529.9L270.25 531.25L269.1 532.6ZM272.25 531.21L273.4 529.86L274.55 531.21L273.4 532.56ZM276.55 531.17L277.7 529.82L278.85 531.17L277.7 532.52ZM280.85 531.13L282 529.78L283.15 531.13L282 532.48ZM285.15 531.09L286.3 529.74L287.45 531.09L286.3 532.44ZM289.45 531.05L290.6 529.7L291.75 531.05L290.6 532.4ZM293.75 531.01L294.9 529.66L296.05 531.01L294.9 532.36ZM298.05 530.97L299.2 529.62L300.35 530.97L299.2 532.32ZM302.35 530.93L303.5 529.58L304.65 530.93L303.5 532.28ZM306.65 530.89L307.8 529.54L308.95 530.89L307.8 532.24ZM310.95 530.85L312.1 529.5L313.25 530.85L312.1 532.2ZM315.25 530.81L316.4 529.46L317.55 530.81L316.4 532.16ZM319.55 530.77L320.7 529.42L321.85 530.77L320.7 532.12ZM323.85 530.73L325 529.38L326.15 530.73L325 532.08Z" fill="none" stroke="#dfe653" stroke-width="0.65"/><polyline points="71.3,533.82 75.6,533.73 79.9,533.64 84.2,533.56 88.5,533.47 92.8,533.39 97.1,533.3 101.4,533.22 105.7,533.13 110,533.04 114.3,532.96 118.6,532.87 122.9,532.79 127.2,532.7 131.5,532.62 135.8,532.53 140.1,532.44 144.4,532.36 148.7,532.27 153,532.19 157.3,532.1 161.6,532.02 165.9,531.93 170.2,531.84 174.5,531.76 178.8,531.67 183.1,531.59 187.4,531.5 191.7,531.42 196,531.33 200.3,531.24 204.6,531.2 208.9,531.16 213.2,531.12 217.5,531.08 221.8,531.04 226.1,531 230.4,530.96 234.7,530.92 239,530.88 243.3,530.84 247.6,530.8 251.9,530.76 256.2,530.72 260.5,530.68 264.8,530.64 269.1,530.61 273.4,530.57 277.7,530.53 282,530.49 286.3,530.45 290.6,530.41 294.9,530.37 299.2,530.33 303.5,530.29 307.8,530.25 312.1,530.21 316.4,530.17 320.7,530.13 325,530.09" fill="none" stroke="#dfe653" stroke-width="1.0"/><g fill="#dfe653"><circle cx="71.3" cy="533.82" r="1.0"/><circle cx="75.6" cy="533.73" r="1.0"/><circle cx="79.9" cy="533.64" r="1.0"/><circle cx="84.2" cy="533.56" r="1.0"/><circle cx="88.5" cy="533.47" r="1.0"/><circle cx="92.8" cy="533.39" r="1.0"/><circle cx="97.1" cy="533.3" r="1.0"/><circle cx="101.4" cy="533.22" r="1.0"/><circle cx="105.7" cy="533.13" r="1.0"/><circle cx="110" cy="533.04" r="1.0"/><circle cx="114.3" cy="532.96" r="1.0"/><circle cx="118.6" cy="532.87" r="1.0"/><circle cx="122.9" cy="532.79" r="1.0"/><circle cx="127.2" cy="532.7" r="1.0"/><circle cx="131.5" cy="532.62" r="1.0"/><circle cx="135.8" cy="532.53" r="1.0"/><circle cx="140.1" cy="532.44" r="1.0"/><circle cx="144.4" cy="532.36" r="1.0"/><circle cx="148.7" cy="532.27" r="1.0"/><circle cx="153" cy="532.19" r="1.0"/><circle cx="157.3" cy="532.1" r="1.0"/><circle cx="161.6" cy="532.02" r="1.0"/><circle cx="165.9" cy="531.93" r="1.0"/><circle cx="170.2" cy="531.84" r="1.0"/><circle cx="174.5" cy="531.76" r="1.0"/><circle cx="178.8" cy="531.67" r="1.0"/><circle cx="183.1" cy="531.59" r="1.0"/><circle cx="187.4" cy="531.5" r="1.0"/><circle cx="191.7" cy="531.42" r="1.0"/><circle cx="196" cy="531.33" r="1.0"/><circle cx="200.3" cy="531.24" r="1.0"/><circle cx="204.6" cy="531.2" r="1.0"/><circle cx="208.9" cy="531.16" r="1.0"/><circle cx="213.2" cy="531.12" r="1.0"/><circle cx="217.5" cy="531.08" r="1.0"/><circle cx="221.8" cy="531.04" r="1.0"/><circle cx="226.1" cy="531" r="1.0"/><circle cx="230.4" cy="530.96" r="1.0"/><circle cx="234.7" cy="530.92" r="1.0"/><circle cx="239" cy="530.88" r="1.0"/><circle cx="243.3" cy="530.84" r="1.0"/><circle cx="247.6" cy="530.8" r="1.0"/><circle cx="251.9" cy="530.76" r="1.0"/><circle cx="256.2" cy="530.72" r="1.0"/><circle cx="260.5" cy="530.68" r="1.0"/><circle cx="264.8" cy="530.64" r="1.0"/><circle cx="269.1" cy="530.61" r="1.0"/><circle cx="273.4" cy="530.57" r="1.0"/><circle cx="277.7" cy="530.53" r="1.0"/><circle cx="282" cy="530.49" r="1.0"/><circle cx="286.3" cy="530.45" r="1.0"/><circle cx="290.6" cy="530.41" r="1.0"/><circle cx="294.9" cy="530.37" r="1.0"/><circle cx="299.2" cy="530.33" r="1.0"/><circle cx="303.5" cy="530.29" r="1.0"/><circle cx="307.8" cy="530.25" r="1.0"/><circle cx="312.1" cy="530.21" r="1.0"/><circle cx="316.4" cy="530.17" r="1.0"/><circle cx="320.7" cy="530.13" r="1.0"/><circle cx="325" cy="530.09" r="1.0"/></g>
<path d="M70.15 532.23L71.3 530.88L72.45 532.23L71.3 533.58ZM74.45 530.91L75.6 529.56L76.75 530.91L75.6 532.26ZM78.75 530.09L79.9 528.74L81.05 530.09L79.9 531.44ZM83.05 529.53L84.2 528.18L85.35 529.53L84.2 530.88ZM87.35 529.1L88.5 527.75L89.65 529.1L88.5 530.45ZM91.65 528.76L92.8 527.41L93.95 528.76L92.8 530.11ZM95.95 528.48L97.1 527.13L98.25 528.48L97.1 529.83ZM100.25 528.24L101.4 526.89L102.55 528.24L101.4 529.59ZM104.55 528.03L105.7 526.68L106.85 528.03L105.7 529.38ZM108.85 527.85L110 526.5L111.15 527.85L110 529.2ZM113.15 527.68L114.3 526.33L115.45 527.68L114.3 529.03ZM117.45 527.52L118.6 526.17L119.75 527.52L118.6 528.87ZM121.75 527.37L122.9 526.02L124.05 527.37L122.9 528.72ZM126.05 527.23L127.2 525.88L128.35 527.23L127.2 528.58ZM130.35 527.1L131.5 525.75L132.65 527.1L131.5 528.45ZM134.65 526.98L135.8 525.63L136.95 526.98L135.8 528.33ZM138.95 526.86L140.1 525.51L141.25 526.86L140.1 528.21ZM143.25 526.74L144.4 525.39L145.55 526.74L144.4 528.09ZM147.55 526.63L148.7 525.28L149.85 526.63L148.7 527.98ZM151.85 526.52L153 525.17L154.15 526.52L153 527.87ZM156.15 526.42L157.3 525.07L158.45 526.42L157.3 527.77ZM160.45 526.31L161.6 524.96L162.75 526.31L161.6 527.66ZM164.75 526.21L165.9 524.86L167.05 526.21L165.9 527.56ZM169.05 526.11L170.2 524.76L171.35 526.11L170.2 527.46ZM173.35 526.02L174.5 524.67L175.65 526.02L174.5 527.37ZM177.65 525.92L178.8 524.57L179.95 525.92L178.8 527.27ZM181.95 525.82L183.1 524.47L184.25 525.82L183.1 527.17ZM186.25 525.73L187.4 524.38L188.55 525.73L187.4 527.08ZM190.55 525.64L191.7 524.29L192.85 525.64L191.7 526.99ZM194.85 525.55L196 524.2L197.15 525.55L196 526.9ZM199.15 525.46L200.3 524.11L201.45 525.46L200.3 526.81ZM203.45 525.37L204.6 524.02L205.75 525.37L204.6 526.72ZM207.75 525.28L208.9 523.93L210.05 525.28L208.9 526.63ZM212.05 525.19L213.2 523.84L214.35 525.19L213.2 526.54ZM216.35 525.1L217.5 523.75L218.65 525.1L217.5 526.45ZM220.65 525.01L221.8 523.66L222.95 525.01L221.8 526.36ZM224.95 524.92L226.1 523.57L227.25 524.92L226.1 526.27ZM229.25 524.84L230.4 523.49L231.55 524.84L230.4 526.19ZM233.55 524.75L234.7 523.4L235.85 524.75L234.7 526.1ZM237.85 524.67L239 523.32L240.15 524.67L239 526.02ZM242.15 524.58L243.3 523.23L244.45 524.58L243.3 525.93ZM246.45 524.5L247.6 523.15L248.75 524.5L247.6 525.85ZM250.75 524.41L251.9 523.06L253.05 524.41L251.9 525.76ZM255.05 524.33L256.2 522.98L257.35 524.33L256.2 525.68ZM259.35 524.24L260.5 522.89L261.65 524.24L260.5 525.59ZM263.65 524.16L264.8 522.81L265.95 524.16L264.8 525.51ZM267.95 524.08L269.1 522.73L270.25 524.08L269.1 525.43ZM272.25 523.99L273.4 522.64L274.55 523.99L273.4 525.34ZM276.55 523.91L277.7 522.56L278.85 523.91L277.7 525.26ZM280.85 523.83L282 522.48L283.15 523.83L282 525.18ZM285.15 523.75L286.3 522.4L287.45 523.75L286.3 525.1ZM289.45 523.66L290.6 522.31L291.75 523.66L290.6 525.01ZM293.75 523.58L294.9 522.23L296.05 523.58L294.9 524.93ZM298.05 523.5L299.2 522.15L300.35 523.5L299.2 524.85ZM302.35 523.42L303.5 522.07L304.65 523.42L303.5 524.77ZM306.65 523.34L307.8 521.99L308.95 523.34L307.8 524.69ZM310.95 523.26L312.1 521.91L313.25 523.26L312.1 524.61ZM315.25 523.17L316.4 521.82L317.55 523.17L316.4 524.52ZM319.55 523.09L320.7 521.74L321.85 523.09L320.7 524.44ZM323.85 523.01L325 521.66L326.15 523.01L325 524.36ZM70.15 534.8L71.3 533.45L72.45 534.8L71.3 536.15ZM74.45 533.48L75.6 532.13L76.75 533.48L75.6 534.83ZM78.75 532.67L79.9 531.32L81.05 532.67L79.9 534.02ZM83.05 532.1L84.2 530.75L85.35 532.1L84.2 533.45ZM87.35 531.67L88.5 530.32L89.65 531.67L88.5 533.02ZM91.65 531.33L92.8 529.98L93.95 531.33L92.8 532.68ZM95.95 531.05L97.1 529.7L98.25 531.05L97.1 532.4ZM100.25 530.82L101.4 529.47L102.55 530.82L101.4 532.17ZM104.55 530.61L105.7 529.26L106.85 530.61L105.7 531.96ZM108.85 530.42L110 529.07L111.15 530.42L110 531.77ZM113.15 530.25L114.3 528.9L115.45 530.25L114.3 531.6ZM117.45 530.09L118.6 528.74L119.75 530.09L118.6 531.44ZM121.75 529.94L122.9 528.59L124.05 529.94L122.9 531.29ZM126.05 529.81L127.2 528.46L128.35 529.81L127.2 531.16ZM130.35 529.68L131.5 528.33L132.65 529.68L131.5 531.03ZM134.65 529.55L135.8 528.2L136.95 529.55L135.8 530.9ZM138.95 529.43L140.1 528.08L141.25 529.43L140.1 530.78ZM143.25 529.32L144.4 527.97L145.55 529.32L144.4 530.67ZM147.55 529.21L148.7 527.86L149.85 529.21L148.7 530.56ZM151.85 529.1L153 527.75L154.15 529.1L153 530.45ZM156.15 528.99L157.3 527.64L158.45 528.99L157.3 530.34ZM160.45 528.89L161.6 527.54L162.75 528.89L161.6 530.24ZM164.75 528.79L165.9 527.44L167.05 528.79L165.9 530.14ZM169.05 528.69L170.2 527.34L171.35 528.69L170.2 530.04ZM173.35 528.59L174.5 527.24L175.65 528.59L174.5 529.94ZM177.65 528.49L178.8 527.14L179.95 528.49L178.8 529.84ZM181.95 528.4L183.1 527.05L184.25 528.4L183.1 529.75ZM186.25 528.3L187.4 526.95L188.55 528.3L187.4 529.65ZM190.55 528.21L191.7 526.86L192.85 528.21L191.7 529.56ZM194.85 528.12L196 526.77L197.15 528.12L196 529.47ZM199.15 528.03L200.3 526.68L201.45 528.03L200.3 529.38ZM203.45 527.94L204.6 526.59L205.75 527.94L204.6 529.29ZM207.75 527.85L208.9 526.5L210.05 527.85L208.9 529.2ZM212.05 527.76L213.2 526.41L214.35 527.76L213.2 529.11ZM216.35 527.67L217.5 526.32L218.65 527.67L217.5 529.02ZM220.65 527.58L221.8 526.23L222.95 527.58L221.8 528.93ZM224.95 527.5L226.1 526.15L227.25 527.5L226.1 528.85ZM229.25 527.41L230.4 526.06L231.55 527.41L230.4 528.76ZM233.55 527.33L234.7 525.98L235.85 527.33L234.7 528.68ZM237.85 527.24L239 525.89L240.15 527.24L239 528.59ZM242.15 527.15L243.3 525.8L244.45 527.15L243.3 528.5ZM246.45 527.07L247.6 525.72L248.75 527.07L247.6 528.42ZM250.75 526.98L251.9 525.63L253.05 526.98L251.9 528.33ZM255.05 526.9L256.2 525.55L257.35 526.9L256.2 528.25ZM259.35 526.82L260.5 525.47L261.65 526.82L260.5 528.17ZM263.65 526.73L264.8 525.38L265.95 526.73L264.8 528.08ZM267.95 526.65L269.1 525.3L270.25 526.65L269.1 528ZM272.25 526.57L273.4 525.22L274.55 526.57L273.4 527.92ZM276.55 526.48L277.7 525.13L278.85 526.48L277.7 527.83ZM280.85 526.4L282 525.05L283.15 526.4L282 527.75ZM285.15 526.32L286.3 524.97L287.45 526.32L286.3 527.67ZM289.45 526.24L290.6 524.89L291.75 526.24L290.6 527.59ZM293.75 526.15L294.9 524.8L296.05 526.15L294.9 527.5ZM298.05 526.07L299.2 524.72L300.35 526.07L299.2 527.42ZM302.35 525.99L303.5 524.64L304.65 525.99L303.5 527.34ZM306.65 525.91L307.8 524.56L308.95 525.91L307.8 527.26ZM310.95 525.83L312.1 524.48L313.25 525.83L312.1 527.18ZM315.25 525.75L316.4 524.4L317.55 525.75L316.4 527.1ZM319.55 525.67L320.7 524.32L321.85 525.67L320.7 527.02ZM323.85 525.58L325 524.23L326.15 525.58L325 526.93Z" fill="none" stroke="#7ccbee" stroke-width="0.65"/><polyline points="71.3,533.52 75.6,532.2 79.9,531.38 84.2,530.81 88.5,530.39 92.8,530.05 97.1,529.77 101.4,529.53 105.7,529.32 110,529.13 114.3,528.96 118.6,528.8 122.9,528.66 127.2,528.52 131.5,528.39 135.8,528.27 140.1,528.15 144.4,528.03 148.7,527.92 153,527.81 157.3,527.7 161.6,527.6 165.9,527.5 170.2,527.4 174.5,527.3 178.8,527.21 183.1,527.11 187.4,527.02 191.7,526.92 196,526.83 200.3,526.74 204.6,526.65 208.9,526.56 213.2,526.47 217.5,526.39 221.8,526.3 226.1,526.21 230.4,526.12 234.7,526.04 239,525.95 243.3,525.87 247.6,525.78 251.9,525.7 256.2,525.61 260.5,525.53 264.8,525.45 269.1,525.36 273.4,525.28 277.7,525.2 282,525.11 286.3,525.03 290.6,524.95 294.9,524.87 299.2,524.79 303.5,524.7 307.8,524.62 312.1,524.54 316.4,524.46 320.7,524.38 325,524.3" fill="none" stroke="#7ccbee" stroke-width="1.0"/><g fill="#7ccbee"><circle cx="71.3" cy="533.52" r="1.0"/><circle cx="75.6" cy="532.2" r="1.0"/><circle cx="79.9" cy="531.38" r="1.0"/><circle cx="84.2" cy="530.81" r="1.0"/><circle cx="88.5" cy="530.39" r="1.0"/><circle cx="92.8" cy="530.05" r="1.0"/><circle cx="97.1" cy="529.77" r="1.0"/><circle cx="101.4" cy="529.53" r="1.0"/><circle cx="105.7" cy="529.32" r="1.0"/><circle cx="110" cy="529.13" r="1.0"/><circle cx="114.3" cy="528.96" r="1.0"/><circle cx="118.6" cy="528.8" r="1.0"/><circle cx="122.9" cy="528.66" r="1.0"/><circle cx="127.2" cy="528.52" r="1.0"/><circle cx="131.5" cy="528.39" r="1.0"/><circle cx="135.8" cy="528.27" r="1.0"/><circle cx="140.1" cy="528.15" r="1.0"/><circle cx="144.4" cy="528.03" r="1.0"/><circle cx="148.7" cy="527.92" r="1.0"/><circle cx="153" cy="527.81" r="1.0"/><circle cx="157.3" cy="527.7" r="1.0"/><circle cx="161.6" cy="527.6" r="1.0"/><circle cx="165.9" cy="527.5" r="1.0"/><circle cx="170.2" cy="527.4" r="1.0"/><circle cx="174.5" cy="527.3" r="1.0"/><circle cx="178.8" cy="527.21" r="1.0"/><circle cx="183.1" cy="527.11" r="1.0"/><circle cx="187.4" cy="527.02" r="1.0"/><circle cx="191.7" cy="526.92" r="1.0"/><circle cx="196" cy="526.83" r="1.0"/><circle cx="200.3" cy="526.74" r="1.0"/><circle cx="204.6" cy="526.65" r="1.0"/><circle cx="208.9" cy="526.56" r="1.0"/><circle cx="213.2" cy="526.47" r="1.0"/><circle cx="217.5" cy="526.39" r="1.0"/><circle cx="221.8" cy="526.3" r="1.0"/><circle cx="226.1" cy="526.21" r="1.0"/><circle cx="230.4" cy="526.12" r="1.0"/><circle cx="234.7" cy="526.04" r="1.0"/><circle cx="239" cy="525.95" r="1.0"/><circle cx="243.3" cy="525.87" r="1.0"/><circle cx="247.6" cy="525.78" r="1.0"/><circle cx="251.9" cy="525.7" r="1.0"/><circle cx="256.2" cy="525.61" r="1.0"/><circle cx="260.5" cy="525.53" r="1.0"/><circle cx="264.8" cy="525.45" r="1.0"/><circle cx="269.1" cy="525.36" r="1.0"/><circle cx="273.4" cy="525.28" r="1.0"/><circle cx="277.7" cy="525.2" r="1.0"/><circle cx="282" cy="525.11" r="1.0"/><circle cx="286.3" cy="525.03" r="1.0"/><circle cx="290.6" cy="524.95" r="1.0"/><circle cx="294.9" cy="524.87" r="1.0"/><circle cx="299.2" cy="524.79" r="1.0"/><circle cx="303.5" cy="524.7" r="1.0"/><circle cx="307.8" cy="524.62" r="1.0"/><circle cx="312.1" cy="524.54" r="1.0"/><circle cx="316.4" cy="524.46" r="1.0"/><circle cx="320.7" cy="524.38" r="1.0"/><circle cx="325" cy="524.3" r="1.0"/></g>
<path d="M70.15 527.81L71.3 526.46L72.45 527.81L71.3 529.16ZM74.45 525.97L75.6 524.62L76.75 525.97L75.6 527.32ZM78.75 524.87L79.9 523.52L81.05 524.87L79.9 526.22ZM83.05 524.1L84.2 522.75L85.35 524.1L84.2 525.45ZM87.35 523.53L88.5 522.18L89.65 523.53L88.5 524.88ZM91.65 523.08L92.8 521.73L93.95 523.08L92.8 524.43ZM95.95 522.72L97.1 521.37L98.25 522.72L97.1 524.07ZM100.25 522.42L101.4 521.07L102.55 522.42L101.4 523.77ZM104.55 522.15L105.7 520.8L106.85 522.15L105.7 523.5ZM108.85 521.91L110 520.56L111.15 521.91L110 523.26ZM113.15 521.66L114.3 520.31L115.45 521.66L114.3 523.01ZM117.45 521.41L118.6 520.06L119.75 521.41L118.6 522.76ZM121.75 521.17L122.9 519.82L124.05 521.17L122.9 522.52ZM126.05 520.93L127.2 519.58L128.35 520.93L127.2 522.28ZM130.35 520.7L131.5 519.35L132.65 520.7L131.5 522.05ZM134.65 520.48L135.8 519.13L136.95 520.48L135.8 521.83ZM138.95 520.25L140.1 518.9L141.25 520.25L140.1 521.6ZM143.25 520.03L144.4 518.68L145.55 520.03L144.4 521.38ZM147.55 519.82L148.7 518.47L149.85 519.82L148.7 521.17ZM151.85 519.6L153 518.25L154.15 519.6L153 520.95ZM156.15 519.39L157.3 518.04L158.45 519.39L157.3 520.74ZM160.45 519.18L161.6 517.83L162.75 519.18L161.6 520.53ZM164.75 518.97L165.9 517.62L167.05 518.97L165.9 520.32ZM169.05 518.77L170.2 517.42L171.35 518.77L170.2 520.12ZM173.35 518.57L174.5 517.22L175.65 518.57L174.5 519.92ZM177.65 518.37L178.8 517.02L179.95 518.37L178.8 519.72ZM181.95 518.18L183.1 516.83L184.25 518.18L183.1 519.53ZM186.25 517.99L187.4 516.64L188.55 517.99L187.4 519.34ZM190.55 517.8L191.7 516.45L192.85 517.8L191.7 519.15ZM194.85 517.62L196 516.27L197.15 517.62L196 518.97ZM199.15 517.44L200.3 516.09L201.45 517.44L200.3 518.79ZM203.45 517.26L204.6 515.91L205.75 517.26L204.6 518.61ZM207.75 517.09L208.9 515.74L210.05 517.09L208.9 518.44ZM212.05 516.91L213.2 515.56L214.35 516.91L213.2 518.26ZM216.35 516.74L217.5 515.39L218.65 516.74L217.5 518.09ZM220.65 516.57L221.8 515.22L222.95 516.57L221.8 517.92ZM224.95 516.4L226.1 515.05L227.25 516.4L226.1 517.75ZM229.25 516.22L230.4 514.87L231.55 516.22L230.4 517.57ZM233.55 516.05L234.7 514.7L235.85 516.05L234.7 517.4ZM237.85 515.88L239 514.53L240.15 515.88L239 517.23ZM242.15 515.72L243.3 514.37L244.45 515.72L243.3 517.07ZM246.45 515.55L247.6 514.2L248.75 515.55L247.6 516.9ZM250.75 515.38L251.9 514.03L253.05 515.38L251.9 516.73ZM255.05 515.21L256.2 513.86L257.35 515.21L256.2 516.56ZM259.35 515.05L260.5 513.7L261.65 515.05L260.5 516.4ZM263.65 514.88L264.8 513.53L265.95 514.88L264.8 516.23ZM267.95 514.72L269.1 513.37L270.25 514.72L269.1 516.07ZM272.25 514.56L273.4 513.21L274.55 514.56L273.4 515.91ZM276.55 514.39L277.7 513.04L278.85 514.39L277.7 515.74ZM280.85 514.23L282 512.88L283.15 514.23L282 515.58ZM285.15 514.07L286.3 512.72L287.45 514.07L286.3 515.42ZM289.45 513.91L290.6 512.56L291.75 513.91L290.6 515.26ZM293.75 513.76L294.9 512.41L296.05 513.76L294.9 515.11ZM298.05 513.6L299.2 512.25L300.35 513.6L299.2 514.95ZM302.35 513.44L303.5 512.09L304.65 513.44L303.5 514.79ZM306.65 513.29L307.8 511.94L308.95 513.29L307.8 514.64ZM310.95 513.13L312.1 511.78L313.25 513.13L312.1 514.48ZM315.25 512.98L316.4 511.63L317.55 512.98L316.4 514.33ZM319.55 512.83L320.7 511.48L321.85 512.83L320.7 514.18ZM323.85 512.68L325 511.33L326.15 512.68L325 514.03ZM70.15 530.39L71.3 529.04L72.45 530.39L71.3 531.74ZM74.45 528.54L75.6 527.19L76.75 528.54L75.6 529.89ZM78.75 527.44L79.9 526.09L81.05 527.44L79.9 528.79ZM83.05 526.67L84.2 525.32L85.35 526.67L84.2 528.02ZM87.35 526.1L88.5 524.75L89.65 526.1L88.5 527.45ZM91.65 525.65L92.8 524.3L93.95 525.65L92.8 527ZM95.95 525.29L97.1 523.94L98.25 525.29L97.1 526.64ZM100.25 524.99L101.4 523.64L102.55 524.99L101.4 526.34ZM104.55 524.72L105.7 523.37L106.85 524.72L105.7 526.07ZM108.85 524.48L110 523.13L111.15 524.48L110 525.83ZM113.15 524.23L114.3 522.88L115.45 524.23L114.3 525.58ZM117.45 523.98L118.6 522.63L119.75 523.98L118.6 525.33ZM121.75 523.74L122.9 522.39L124.05 523.74L122.9 525.09ZM126.05 523.5L127.2 522.15L128.35 523.5L127.2 524.85ZM130.35 523.27L131.5 521.92L132.65 523.27L131.5 524.62ZM134.65 523.05L135.8 521.7L136.95 523.05L135.8 524.4ZM138.95 522.83L140.1 521.48L141.25 522.83L140.1 524.18ZM143.25 522.61L144.4 521.26L145.55 522.61L144.4 523.96ZM147.55 522.39L148.7 521.04L149.85 522.39L148.7 523.74ZM151.85 522.17L153 520.82L154.15 522.17L153 523.52ZM156.15 521.96L157.3 520.61L158.45 521.96L157.3 523.31ZM160.45 521.75L161.6 520.4L162.75 521.75L161.6 523.1ZM164.75 521.55L165.9 520.2L167.05 521.55L165.9 522.9ZM169.05 521.34L170.2 519.99L171.35 521.34L170.2 522.69ZM173.35 521.14L174.5 519.79L175.65 521.14L174.5 522.49ZM177.65 520.94L178.8 519.59L179.95 520.94L178.8 522.29ZM181.95 520.75L183.1 519.4L184.25 520.75L183.1 522.1ZM186.25 520.56L187.4 519.21L188.55 520.56L187.4 521.91ZM190.55 520.37L191.7 519.02L192.85 520.37L191.7 521.72ZM194.85 520.19L196 518.84L197.15 520.19L196 521.54ZM199.15 520.01L200.3 518.66L201.45 520.01L200.3 521.36ZM203.45 519.83L204.6 518.48L205.75 519.83L204.6 521.18ZM207.75 519.66L208.9 518.31L210.05 519.66L208.9 521.01ZM212.05 519.49L213.2 518.14L214.35 519.49L213.2 520.84ZM216.35 519.31L217.5 517.96L218.65 519.31L217.5 520.66ZM220.65 519.14L221.8 517.79L222.95 519.14L221.8 520.49ZM224.95 518.97L226.1 517.62L227.25 518.97L226.1 520.32ZM229.25 518.8L230.4 517.45L231.55 518.8L230.4 520.15ZM233.55 518.63L234.7 517.28L235.85 518.63L234.7 519.98ZM237.85 518.46L239 517.11L240.15 518.46L239 519.81ZM242.15 518.29L243.3 516.94L244.45 518.29L243.3 519.64ZM246.45 518.12L247.6 516.77L248.75 518.12L247.6 519.47ZM250.75 517.95L251.9 516.6L253.05 517.95L251.9 519.3ZM255.05 517.79L256.2 516.44L257.35 517.79L256.2 519.14ZM259.35 517.62L260.5 516.27L261.65 517.62L260.5 518.97ZM263.65 517.46L264.8 516.11L265.95 517.46L264.8 518.81ZM267.95 517.29L269.1 515.94L270.25 517.29L269.1 518.64ZM272.25 517.13L273.4 515.78L274.55 517.13L273.4 518.48ZM276.55 516.97L277.7 515.62L278.85 516.97L277.7 518.32ZM280.85 516.81L282 515.46L283.15 516.81L282 518.16ZM285.15 516.65L286.3 515.3L287.45 516.65L286.3 518ZM289.45 516.49L290.6 515.14L291.75 516.49L290.6 517.84ZM293.75 516.33L294.9 514.98L296.05 516.33L294.9 517.68ZM298.05 516.17L299.2 514.82L300.35 516.17L299.2 517.52ZM302.35 516.02L303.5 514.67L304.65 516.02L303.5 517.37ZM306.65 515.86L307.8 514.51L308.95 515.86L307.8 517.21ZM310.95 515.71L312.1 514.36L313.25 515.71L312.1 517.06ZM315.25 515.55L316.4 514.2L317.55 515.55L316.4 516.9ZM319.55 515.4L320.7 514.05L321.85 515.4L320.7 516.75ZM323.85 515.25L325 513.9L326.15 515.25L325 516.6Z" fill="none" stroke="#e0a53a" stroke-width="0.65"/><polyline points="71.3,529.1 75.6,527.26 79.9,526.15 84.2,525.39 88.5,524.81 92.8,524.36 97.1,524 101.4,523.7 105.7,523.44 110,523.19 114.3,522.95 118.6,522.7 122.9,522.45 127.2,522.22 131.5,521.99 135.8,521.76 140.1,521.54 144.4,521.32 148.7,521.1 153,520.89 157.3,520.68 161.6,520.47 165.9,520.26 170.2,520.06 174.5,519.86 178.8,519.66 183.1,519.46 187.4,519.27 191.7,519.09 196,518.9 200.3,518.72 204.6,518.55 208.9,518.37 213.2,518.2 217.5,518.03 221.8,517.85 226.1,517.68 230.4,517.51 234.7,517.34 239,517.17 243.3,517 247.6,516.83 251.9,516.67 256.2,516.5 260.5,516.33 264.8,516.17 269.1,516.01 273.4,515.84 277.7,515.68 282,515.52 286.3,515.36 290.6,515.2 294.9,515.04 299.2,514.88 303.5,514.73 307.8,514.57 312.1,514.42 316.4,514.27 320.7,514.12 325,513.97" fill="none" stroke="#e0a53a" stroke-width="1.0"/><g fill="#e0a53a"><circle cx="71.3" cy="529.1" r="1.0"/><circle cx="75.6" cy="527.26" r="1.0"/><circle cx="79.9" cy="526.15" r="1.0"/><circle cx="84.2" cy="525.39" r="1.0"/><circle cx="88.5" cy="524.81" r="1.0"/><circle cx="92.8" cy="524.36" r="1.0"/><circle cx="97.1" cy="524" r="1.0"/><circle cx="101.4" cy="523.7" r="1.0"/><circle cx="105.7" cy="523.44" r="1.0"/><circle cx="110" cy="523.19" r="1.0"/><circle cx="114.3" cy="522.95" r="1.0"/><circle cx="118.6" cy="522.7" r="1.0"/><circle cx="122.9" cy="522.45" r="1.0"/><circle cx="127.2" cy="522.22" r="1.0"/><circle cx="131.5" cy="521.99" r="1.0"/><circle cx="135.8" cy="521.76" r="1.0"/><circle cx="140.1" cy="521.54" r="1.0"/><circle cx="144.4" cy="521.32" r="1.0"/><circle cx="148.7" cy="521.1" r="1.0"/><circle cx="153" cy="520.89" r="1.0"/><circle cx="157.3" cy="520.68" r="1.0"/><circle cx="161.6" cy="520.47" r="1.0"/><circle cx="165.9" cy="520.26" r="1.0"/><circle cx="170.2" cy="520.06" r="1.0"/><circle cx="174.5" cy="519.86" r="1.0"/><circle cx="178.8" cy="519.66" r="1.0"/><circle cx="183.1" cy="519.46" r="1.0"/><circle cx="187.4" cy="519.27" r="1.0"/><circle cx="191.7" cy="519.09" r="1.0"/><circle cx="196" cy="518.9" r="1.0"/><circle cx="200.3" cy="518.72" r="1.0"/><circle cx="204.6" cy="518.55" r="1.0"/><circle cx="208.9" cy="518.37" r="1.0"/><circle cx="213.2" cy="518.2" r="1.0"/><circle cx="217.5" cy="518.03" r="1.0"/><circle cx="221.8" cy="517.85" r="1.0"/><circle cx="226.1" cy="517.68" r="1.0"/><circle cx="230.4" cy="517.51" r="1.0"/><circle cx="234.7" cy="517.34" r="1.0"/><circle cx="239" cy="517.17" r="1.0"/><circle cx="243.3" cy="517" r="1.0"/><circle cx="247.6" cy="516.83" r="1.0"/><circle cx="251.9" cy="516.67" r="1.0"/><circle cx="256.2" cy="516.5" r="1.0"/><circle cx="260.5" cy="516.33" r="1.0"/><circle cx="264.8" cy="516.17" r="1.0"/><circle cx="269.1" cy="516.01" r="1.0"/><circle cx="273.4" cy="515.84" r="1.0"/><circle cx="277.7" cy="515.68" r="1.0"/><circle cx="282" cy="515.52" r="1.0"/><circle cx="286.3" cy="515.36" r="1.0"/><circle cx="290.6" cy="515.2" r="1.0"/><circle cx="294.9" cy="515.04" r="1.0"/><circle cx="299.2" cy="514.88" r="1.0"/><circle cx="303.5" cy="514.73" r="1.0"/><circle cx="307.8" cy="514.57" r="1.0"/><circle cx="312.1" cy="514.42" r="1.0"/><circle cx="316.4" cy="514.27" r="1.0"/><circle cx="320.7" cy="514.12" r="1.0"/><circle cx="325" cy="513.97" r="1.0"/></g>
<path d="M70.15 517.65L71.3 516.3L72.45 517.65L71.3 519ZM74.45 512.85L75.6 511.5L76.75 512.85L75.6 514.2ZM78.75 509.38L79.9 508.03L81.05 509.38L79.9 510.73ZM83.05 507.28L84.2 505.93L85.35 507.28L84.2 508.63ZM87.35 505.56L88.5 504.21L89.65 505.56L88.5 506.91ZM91.65 503.99L92.8 502.64L93.95 503.99L92.8 505.34ZM95.95 502.65L97.1 501.3L98.25 502.65L97.1 504ZM100.25 501.51L101.4 500.16L102.55 501.51L101.4 502.86ZM104.55 500.55L105.7 499.2L106.85 500.55L105.7 501.9ZM108.85 499.84L110 498.49L111.15 499.84L110 501.19ZM113.15 499.17L114.3 497.82L115.45 499.17L114.3 500.52ZM117.45 498.27L118.6 496.92L119.75 498.27L118.6 499.62ZM121.75 497.37L122.9 496.02L124.05 497.37L122.9 498.72ZM126.05 496.58L127.2 495.23L128.35 496.58L127.2 497.93ZM130.35 495.82L131.5 494.47L132.65 495.82L131.5 497.17ZM134.65 495.1L135.8 493.75L136.95 495.1L135.8 496.45ZM138.95 494.41L140.1 493.06L141.25 494.41L140.1 495.76ZM143.25 493.74L144.4 492.39L145.55 493.74L144.4 495.09ZM147.55 493.1L148.7 491.75L149.85 493.1L148.7 494.45ZM151.85 492.48L153 491.13L154.15 492.48L153 493.83ZM156.15 491.88L157.3 490.53L158.45 491.88L157.3 493.23ZM160.45 491.3L161.6 489.95L162.75 491.3L161.6 492.65ZM164.75 490.73L165.9 489.38L167.05 490.73L165.9 492.08ZM169.05 490.19L170.2 488.84L171.35 490.19L170.2 491.54ZM173.35 489.66L174.5 488.31L175.65 489.66L174.5 491.01ZM177.65 489.15L178.8 487.8L179.95 489.15L178.8 490.5ZM181.95 488.66L183.1 487.31L184.25 488.66L183.1 490.01ZM186.25 488.18L187.4 486.83L188.55 488.18L187.4 489.53ZM190.55 487.73L191.7 486.38L192.85 487.73L191.7 489.08ZM194.85 487.29L196 485.94L197.15 487.29L196 488.64ZM199.15 486.87L200.3 485.52L201.45 486.87L200.3 488.22ZM203.45 486.46L204.6 485.11L205.75 486.46L204.6 487.81ZM207.75 486.06L208.9 484.71L210.05 486.06L208.9 487.41ZM212.05 485.66L213.2 484.31L214.35 485.66L213.2 487.01ZM216.35 485.27L217.5 483.92L218.65 485.27L217.5 486.62ZM220.65 484.89L221.8 483.54L222.95 484.89L221.8 486.24ZM224.95 484.51L226.1 483.16L227.25 484.51L226.1 485.86ZM229.25 484.14L230.4 482.79L231.55 484.14L230.4 485.49ZM233.55 483.77L234.7 482.42L235.85 483.77L234.7 485.12ZM237.85 483.41L239 482.06L240.15 483.41L239 484.76ZM242.15 483.06L243.3 481.71L244.45 483.06L243.3 484.41ZM246.45 482.71L247.6 481.36L248.75 482.71L247.6 484.06ZM250.75 482.36L251.9 481.01L253.05 482.36L251.9 483.71ZM255.05 482.03L256.2 480.68L257.35 482.03L256.2 483.38ZM259.35 481.7L260.5 480.35L261.65 481.7L260.5 483.05ZM263.65 481.37L264.8 480.02L265.95 481.37L264.8 482.72ZM267.95 481.05L269.1 479.7L270.25 481.05L269.1 482.4ZM272.25 480.74L273.4 479.39L274.55 480.74L273.4 482.09ZM276.55 480.43L277.7 479.08L278.85 480.43L277.7 481.78ZM280.85 480.13L282 478.78L283.15 480.13L282 481.48ZM285.15 479.84L286.3 478.49L287.45 479.84L286.3 481.19ZM289.45 479.55L290.6 478.2L291.75 479.55L290.6 480.9ZM293.75 479.27L294.9 477.92L296.05 479.27L294.9 480.62ZM298.05 479L299.2 477.65L300.35 479L299.2 480.35ZM302.35 478.74L303.5 477.39L304.65 478.74L303.5 480.09ZM306.65 478.48L307.8 477.13L308.95 478.48L307.8 479.83ZM310.95 478.23L312.1 476.88L313.25 478.23L312.1 479.58ZM315.25 477.98L316.4 476.63L317.55 477.98L316.4 479.33ZM319.55 477.75L320.7 476.4L321.85 477.75L320.7 479.1ZM323.85 477.52L325 476.17L326.15 477.52L325 478.87ZM70.15 518.94L71.3 517.59L72.45 518.94L71.3 520.29ZM74.45 514.14L75.6 512.79L76.75 514.14L75.6 515.49ZM78.75 510.66L79.9 509.31L81.05 510.66L79.9 512.01ZM83.05 508.56L84.2 507.21L85.35 508.56L84.2 509.91ZM87.35 506.85L88.5 505.5L89.65 506.85L88.5 508.2ZM91.65 505.27L92.8 503.92L93.95 505.27L92.8 506.62ZM95.95 503.93L97.1 502.58L98.25 503.93L97.1 505.28ZM100.25 502.8L101.4 501.45L102.55 502.8L101.4 504.15ZM104.55 501.83L105.7 500.48L106.85 501.83L105.7 503.18ZM108.85 501.13L110 499.78L111.15 501.13L110 502.48ZM113.15 500.46L114.3 499.11L115.45 500.46L114.3 501.81ZM117.45 499.56L118.6 498.21L119.75 499.56L118.6 500.91ZM121.75 498.66L122.9 497.31L124.05 498.66L122.9 500.01ZM126.05 497.87L127.2 496.52L128.35 497.87L127.2 499.22ZM130.35 497.11L131.5 495.76L132.65 497.11L131.5 498.46ZM134.65 496.39L135.8 495.04L136.95 496.39L135.8 497.74ZM138.95 495.7L140.1 494.35L141.25 495.7L140.1 497.05ZM143.25 495.03L144.4 493.68L145.55 495.03L144.4 496.38ZM147.55 494.39L148.7 493.04L149.85 494.39L148.7 495.74ZM151.85 493.76L153 492.41L154.15 493.76L153 495.11ZM156.15 493.16L157.3 491.81L158.45 493.16L157.3 494.51ZM160.45 492.58L161.6 491.23L162.75 492.58L161.6 493.93ZM164.75 492.02L165.9 490.67L167.05 492.02L165.9 493.37ZM169.05 491.47L170.2 490.12L171.35 491.47L170.2 492.82ZM173.35 490.95L174.5 489.6L175.65 490.95L174.5 492.3ZM177.65 490.44L178.8 489.09L179.95 490.44L178.8 491.79ZM181.95 489.94L183.1 488.59L184.25 489.94L183.1 491.29ZM186.25 489.47L187.4 488.12L188.55 489.47L187.4 490.82ZM190.55 489.01L191.7 487.66L192.85 489.01L191.7 490.36ZM194.85 488.57L196 487.22L197.15 488.57L196 489.92ZM199.15 488.15L200.3 486.8L201.45 488.15L200.3 489.5ZM203.45 487.75L204.6 486.4L205.75 487.75L204.6 489.1ZM207.75 487.34L208.9 485.99L210.05 487.34L208.9 488.69ZM212.05 486.95L213.2 485.6L214.35 486.95L213.2 488.3ZM216.35 486.56L217.5 485.21L218.65 486.56L217.5 487.91ZM220.65 486.18L221.8 484.83L222.95 486.18L221.8 487.53ZM224.95 485.8L226.1 484.45L227.25 485.8L226.1 487.15ZM229.25 485.43L230.4 484.08L231.55 485.43L230.4 486.78ZM233.55 485.06L234.7 483.71L235.85 485.06L234.7 486.41ZM237.85 484.7L239 483.35L240.15 484.7L239 486.05ZM242.15 484.34L243.3 482.99L244.45 484.34L243.3 485.69ZM246.45 483.99L247.6 482.64L248.75 483.99L247.6 485.34ZM250.75 483.65L251.9 482.3L253.05 483.65L251.9 485ZM255.05 483.31L256.2 481.96L257.35 483.31L256.2 484.66ZM259.35 482.98L260.5 481.63L261.65 482.98L260.5 484.33ZM263.65 482.66L264.8 481.31L265.95 482.66L264.8 484.01ZM267.95 482.34L269.1 480.99L270.25 482.34L269.1 483.69ZM272.25 482.02L273.4 480.67L274.55 482.02L273.4 483.37ZM276.55 481.72L277.7 480.37L278.85 481.72L277.7 483.07ZM280.85 481.42L282 480.07L283.15 481.42L282 482.77ZM285.15 481.13L286.3 479.78L287.45 481.13L286.3 482.48ZM289.45 480.84L290.6 479.49L291.75 480.84L290.6 482.19ZM293.75 480.56L294.9 479.21L296.05 480.56L294.9 481.91ZM298.05 480.29L299.2 478.94L300.35 480.29L299.2 481.64ZM302.35 480.02L303.5 478.67L304.65 480.02L303.5 481.37ZM306.65 479.76L307.8 478.41L308.95 479.76L307.8 481.11ZM310.95 479.51L312.1 478.16L313.25 479.51L312.1 480.86ZM315.25 479.27L316.4 477.92L317.55 479.27L316.4 480.62ZM319.55 479.03L320.7 477.68L321.85 479.03L320.7 480.38ZM323.85 478.81L325 477.46L326.15 478.81L325 480.16Z" fill="none" stroke="#e0692f" stroke-width="0.65"/><polyline points="71.3,518.3 75.6,513.49 79.9,510.02 84.2,507.92 88.5,506.2 92.8,504.63 97.1,503.29 101.4,502.15 105.7,501.19 110,500.48 114.3,499.82 118.6,498.92 122.9,498.02 127.2,497.22 131.5,496.47 135.8,495.75 140.1,495.05 144.4,494.39 148.7,493.74 153,493.12 157.3,492.52 161.6,491.94 165.9,491.38 170.2,490.83 174.5,490.3 178.8,489.79 183.1,489.3 187.4,488.83 191.7,488.37 196,487.93 200.3,487.51 204.6,487.1 208.9,486.7 213.2,486.31 217.5,485.92 221.8,485.53 226.1,485.15 230.4,484.78 234.7,484.42 239,484.05 243.3,483.7 247.6,483.35 251.9,483.01 256.2,482.67 260.5,482.34 264.8,482.01 269.1,481.69 273.4,481.38 277.7,481.08 282,480.78 286.3,480.48 290.6,480.2 294.9,479.92 299.2,479.64 303.5,479.38 307.8,479.12 312.1,478.87 316.4,478.63 320.7,478.39 325,478.16" fill="none" stroke="#e0692f" stroke-width="1.0"/><g fill="#e0692f"><circle cx="71.3" cy="518.3" r="1.0"/><circle cx="75.6" cy="513.49" r="1.0"/><circle cx="79.9" cy="510.02" r="1.0"/><circle cx="84.2" cy="507.92" r="1.0"/><circle cx="88.5" cy="506.2" r="1.0"/><circle cx="92.8" cy="504.63" r="1.0"/><circle cx="97.1" cy="503.29" r="1.0"/><circle cx="101.4" cy="502.15" r="1.0"/><circle cx="105.7" cy="501.19" r="1.0"/><circle cx="110" cy="500.48" r="1.0"/><circle cx="114.3" cy="499.82" r="1.0"/><circle cx="118.6" cy="498.92" r="1.0"/><circle cx="122.9" cy="498.02" r="1.0"/><circle cx="127.2" cy="497.22" r="1.0"/><circle cx="131.5" cy="496.47" r="1.0"/><circle cx="135.8" cy="495.75" r="1.0"/><circle cx="140.1" cy="495.05" r="1.0"/><circle cx="144.4" cy="494.39" r="1.0"/><circle cx="148.7" cy="493.74" r="1.0"/><circle cx="153" cy="493.12" r="1.0"/><circle cx="157.3" cy="492.52" r="1.0"/><circle cx="161.6" cy="491.94" r="1.0"/><circle cx="165.9" cy="491.38" r="1.0"/><circle cx="170.2" cy="490.83" r="1.0"/><circle cx="174.5" cy="490.3" r="1.0"/><circle cx="178.8" cy="489.79" r="1.0"/><circle cx="183.1" cy="489.3" r="1.0"/><circle cx="187.4" cy="488.83" r="1.0"/><circle cx="191.7" cy="488.37" r="1.0"/><circle cx="196" cy="487.93" r="1.0"/><circle cx="200.3" cy="487.51" r="1.0"/><circle cx="204.6" cy="487.1" r="1.0"/><circle cx="208.9" cy="486.7" r="1.0"/><circle cx="213.2" cy="486.31" r="1.0"/><circle cx="217.5" cy="485.92" r="1.0"/><circle cx="221.8" cy="485.53" r="1.0"/><circle cx="226.1" cy="485.15" r="1.0"/><circle cx="230.4" cy="484.78" r="1.0"/><circle cx="234.7" cy="484.42" r="1.0"/><circle cx="239" cy="484.05" r="1.0"/><circle cx="243.3" cy="483.7" r="1.0"/><circle cx="247.6" cy="483.35" r="1.0"/><circle cx="251.9" cy="483.01" r="1.0"/><circle cx="256.2" cy="482.67" r="1.0"/><circle cx="260.5" cy="482.34" r="1.0"/><circle cx="264.8" cy="482.01" r="1.0"/><circle cx="269.1" cy="481.69" r="1.0"/><circle cx="273.4" cy="481.38" r="1.0"/><circle cx="277.7" cy="481.08" r="1.0"/><circle cx="282" cy="480.78" r="1.0"/><circle cx="286.3" cy="480.48" r="1.0"/><circle cx="290.6" cy="480.2" r="1.0"/><circle cx="294.9" cy="479.92" r="1.0"/><circle cx="299.2" cy="479.64" r="1.0"/><circle cx="303.5" cy="479.38" r="1.0"/><circle cx="307.8" cy="479.12" r="1.0"/><circle cx="312.1" cy="478.87" r="1.0"/><circle cx="316.4" cy="478.63" r="1.0"/><circle cx="320.7" cy="478.39" r="1.0"/><circle cx="325" cy="478.16" r="1.0"/></g>
<path d="M70.15 499.77L71.3 498.42L72.45 499.77L71.3 501.12ZM74.45 492.16L75.6 490.81L76.75 492.16L75.6 493.51ZM78.75 484.55L79.9 483.2L81.05 484.55L79.9 485.9ZM83.05 480.76L84.2 479.41L85.35 480.76L84.2 482.11ZM87.35 477.44L88.5 476.09L89.65 477.44L88.5 478.79ZM91.65 474.75L92.8 473.4L93.95 474.75L92.8 476.1ZM95.95 472.06L97.1 470.71L98.25 472.06L97.1 473.41ZM100.25 469.97L101.4 468.62L102.55 469.97L101.4 471.32ZM104.55 467.88L105.7 466.53L106.85 467.88L105.7 469.23ZM108.85 466.22L110 464.87L111.15 466.22L110 467.57ZM113.15 464.73L114.3 463.38L115.45 464.73L114.3 466.08ZM117.45 463.06L118.6 461.71L119.75 463.06L118.6 464.41ZM121.75 461.45L122.9 460.1L124.05 461.45L122.9 462.8ZM126.05 459.95L127.2 458.6L128.35 459.95L127.2 461.3ZM130.35 458.53L131.5 457.18L132.65 458.53L131.5 459.88ZM134.65 457.16L135.8 455.81L136.95 457.16L135.8 458.51ZM138.95 455.84L140.1 454.49L141.25 455.84L140.1 457.19ZM143.25 454.56L144.4 453.21L145.55 454.56L144.4 455.91ZM147.55 453.32L148.7 451.97L149.85 453.32L148.7 454.67ZM151.85 452.12L153 450.77L154.15 452.12L153 453.47ZM156.15 450.95L157.3 449.6L158.45 450.95L157.3 452.3ZM160.45 449.81L161.6 448.46L162.75 449.81L161.6 451.16ZM164.75 448.7L165.9 447.35L167.05 448.7L165.9 450.05ZM169.05 447.61L170.2 446.26L171.35 447.61L170.2 448.96ZM173.35 446.55L174.5 445.2L175.65 446.55L174.5 447.9ZM177.65 445.51L178.8 444.16L179.95 445.51L178.8 446.86ZM181.95 444.49L183.1 443.14L184.25 444.49L183.1 445.84ZM186.25 443.49L187.4 442.14L188.55 443.49L187.4 444.84ZM190.55 442.52L191.7 441.17L192.85 442.52L191.7 443.87ZM194.85 441.57L196 440.22L197.15 441.57L196 442.92ZM199.15 440.64L200.3 439.29L201.45 440.64L200.3 441.99ZM203.45 439.73L204.6 438.38L205.75 439.73L204.6 441.08ZM207.75 438.84L208.9 437.49L210.05 438.84L208.9 440.19ZM212.05 437.98L213.2 436.63L214.35 437.98L213.2 439.33ZM216.35 437.14L217.5 435.79L218.65 437.14L217.5 438.49ZM220.65 436.32L221.8 434.97L222.95 436.32L221.8 437.67ZM224.95 435.53L226.1 434.18L227.25 435.53L226.1 436.88ZM229.25 434.75L230.4 433.4L231.55 434.75L230.4 436.1ZM233.55 433.99L234.7 432.64L235.85 433.99L234.7 435.34ZM237.85 433.24L239 431.89L240.15 433.24L239 434.59ZM242.15 432.51L243.3 431.16L244.45 432.51L243.3 433.86ZM246.45 431.8L247.6 430.45L248.75 431.8L247.6 433.15ZM250.75 431.1L251.9 429.75L253.05 431.1L251.9 432.45ZM255.05 430.41L256.2 429.06L257.35 430.41L256.2 431.76ZM259.35 429.74L260.5 428.39L261.65 429.74L260.5 431.09ZM263.65 429.08L264.8 427.73L265.95 429.08L264.8 430.43ZM267.95 428.44L269.1 427.09L270.25 428.44L269.1 429.79ZM272.25 427.81L273.4 426.46L274.55 427.81L273.4 429.16ZM276.55 427.19L277.7 425.84L278.85 427.19L277.7 428.54ZM280.85 426.59L282 425.24L283.15 426.59L282 427.94ZM285.15 425.99L286.3 424.64L287.45 425.99L286.3 427.34ZM289.45 425.41L290.6 424.06L291.75 425.41L290.6 426.76ZM293.75 424.84L294.9 423.49L296.05 424.84L294.9 426.19ZM298.05 424.29L299.2 422.94L300.35 424.29L299.2 425.64ZM302.35 423.74L303.5 422.39L304.65 423.74L303.5 425.09ZM306.65 423.21L307.8 421.86L308.95 423.21L307.8 424.56ZM310.95 422.69L312.1 421.34L313.25 422.69L312.1 424.04ZM315.25 422.17L316.4 420.82L317.55 422.17L316.4 423.52ZM319.55 421.67L320.7 420.32L321.85 421.67L320.7 423.02ZM323.85 421.18L325 419.83L326.15 421.18L325 422.53ZM70.15 505.56L71.3 504.21L72.45 505.56L71.3 506.91ZM74.45 498.33L75.6 496.98L76.75 498.33L75.6 499.68ZM78.75 491.09L79.9 489.74L81.05 491.09L79.9 492.44ZM83.05 487.67L84.2 486.32L85.35 487.67L84.2 489.02ZM87.35 484.72L88.5 483.37L89.65 484.72L88.5 486.07ZM91.65 482.02L92.8 480.67L93.95 482.02L92.8 483.37ZM95.95 479.32L97.1 477.97L98.25 479.32L97.1 480.67ZM100.25 477.22L101.4 475.87L102.55 477.22L101.4 478.57ZM104.55 475.12L105.7 473.77L106.85 475.12L105.7 476.47ZM108.85 473.45L110 472.1L111.15 473.45L110 474.8ZM113.15 471.95L114.3 470.6L115.45 471.95L114.3 473.3ZM117.45 470.27L118.6 468.92L119.75 470.27L118.6 471.62ZM121.75 468.65L122.9 467.3L124.05 468.65L122.9 470ZM126.05 467.14L127.2 465.79L128.35 467.14L127.2 468.49ZM130.35 465.7L131.5 464.35L132.65 465.7L131.5 467.05ZM134.65 464.32L135.8 462.97L136.95 464.32L135.8 465.67ZM138.95 462.98L140.1 461.63L141.25 462.98L140.1 464.33ZM143.25 461.7L144.4 460.35L145.55 461.7L144.4 463.05ZM147.55 460.45L148.7 459.1L149.85 460.45L148.7 461.8ZM151.85 459.24L153 457.89L154.15 459.24L153 460.59ZM156.15 458.05L157.3 456.7L158.45 458.05L157.3 459.4ZM160.45 456.9L161.6 455.55L162.75 456.9L161.6 458.25ZM164.75 455.78L165.9 454.43L167.05 455.78L165.9 457.13ZM169.05 454.68L170.2 453.33L171.35 454.68L170.2 456.03ZM173.35 453.6L174.5 452.25L175.65 453.6L174.5 454.95ZM177.65 452.55L178.8 451.2L179.95 452.55L178.8 453.9ZM181.95 451.52L183.1 450.17L184.25 451.52L183.1 452.87ZM186.25 450.51L187.4 449.16L188.55 450.51L187.4 451.86ZM190.55 449.53L191.7 448.18L192.85 449.53L191.7 450.88ZM194.85 448.56L196 447.21L197.15 448.56L196 449.91ZM199.15 447.62L200.3 446.27L201.45 447.62L200.3 448.97ZM203.45 446.7L204.6 445.35L205.75 446.7L204.6 448.05ZM207.75 445.8L208.9 444.45L210.05 445.8L208.9 447.15ZM212.05 444.93L213.2 443.58L214.35 444.93L213.2 446.28ZM216.35 444.08L217.5 442.73L218.65 444.08L217.5 445.43ZM220.65 443.25L221.8 441.9L222.95 443.25L221.8 444.6ZM224.95 442.44L226.1 441.09L227.25 442.44L226.1 443.79ZM229.25 441.65L230.4 440.3L231.55 441.65L230.4 443ZM233.55 440.88L234.7 439.53L235.85 440.88L234.7 442.23ZM237.85 440.12L239 438.77L240.15 440.12L239 441.47ZM242.15 439.38L243.3 438.03L244.45 439.38L243.3 440.73ZM246.45 438.65L247.6 437.3L248.75 438.65L247.6 440ZM250.75 437.94L251.9 436.59L253.05 437.94L251.9 439.29ZM255.05 437.25L256.2 435.9L257.35 437.25L256.2 438.6ZM259.35 436.56L260.5 435.21L261.65 436.56L260.5 437.91ZM263.65 435.89L264.8 434.54L265.95 435.89L264.8 437.24ZM267.95 435.24L269.1 433.89L270.25 435.24L269.1 436.59ZM272.25 434.6L273.4 433.25L274.55 434.6L273.4 435.95ZM276.55 433.97L277.7 432.62L278.85 433.97L277.7 435.32ZM280.85 433.35L282 432L283.15 433.35L282 434.7ZM285.15 432.74L286.3 431.39L287.45 432.74L286.3 434.09ZM289.45 432.15L290.6 430.8L291.75 432.15L290.6 433.5ZM293.75 431.57L294.9 430.22L296.05 431.57L294.9 432.92ZM298.05 431L299.2 429.65L300.35 431L299.2 432.35ZM302.35 430.45L303.5 429.1L304.65 430.45L303.5 431.8ZM306.65 429.9L307.8 428.55L308.95 429.9L307.8 431.25ZM310.95 429.37L312.1 428.02L313.25 429.37L312.1 430.72ZM315.25 428.84L316.4 427.49L317.55 428.84L316.4 430.19ZM319.55 428.33L320.7 426.98L321.85 428.33L320.7 429.68ZM323.85 427.83L325 426.48L326.15 427.83L325 429.18Z" fill="none" stroke="#3cb98a" stroke-width="0.65"/><polyline points="71.3,501.7 75.6,494.2 79.9,486.7 84.2,483.01 88.5,479.79 92.8,477.09 97.1,474.39 101.4,472.29 105.7,470.19 110,468.52 114.3,467.02 118.6,465.34 122.9,463.72 127.2,462.21 131.5,460.77 135.8,459.39 140.1,458.05 144.4,456.77 148.7,455.52 153,454.31 157.3,453.12 161.6,451.97 165.9,450.85 170.2,449.75 174.5,448.67 178.8,447.62 183.1,446.59 187.4,445.58 191.7,444.6 196,443.63 200.3,442.69 204.6,441.77 208.9,440.87 213.2,440 217.5,439.14 221.8,438.32 226.1,437.51 230.4,436.72 234.7,435.95 239,435.19 243.3,434.45 247.6,433.72 251.9,433.01 256.2,432.32 260.5,431.63 264.8,430.96 269.1,430.31 273.4,429.67 277.7,429.04 282,428.42 286.3,427.81 290.6,427.22 294.9,426.64 299.2,426.07 303.5,425.52 307.8,424.97 312.1,424.44 316.4,423.91 320.7,423.4 325,422.9" fill="none" stroke="#3cb98a" stroke-width="1.0"/><g fill="#3cb98a"><circle cx="71.3" cy="501.7" r="1.0"/><circle cx="75.6" cy="494.2" r="1.0"/><circle cx="79.9" cy="486.7" r="1.0"/><circle cx="84.2" cy="483.01" r="1.0"/><circle cx="88.5" cy="479.79" r="1.0"/><circle cx="92.8" cy="477.09" r="1.0"/><circle cx="97.1" cy="474.39" r="1.0"/><circle cx="101.4" cy="472.29" r="1.0"/><circle cx="105.7" cy="470.19" r="1.0"/><circle cx="110" cy="468.52" r="1.0"/><circle cx="114.3" cy="467.02" r="1.0"/><circle cx="118.6" cy="465.34" r="1.0"/><circle cx="122.9" cy="463.72" r="1.0"/><circle cx="127.2" cy="462.21" r="1.0"/><circle cx="131.5" cy="460.77" r="1.0"/><circle cx="135.8" cy="459.39" r="1.0"/><circle cx="140.1" cy="458.05" r="1.0"/><circle cx="144.4" cy="456.77" r="1.0"/><circle cx="148.7" cy="455.52" r="1.0"/><circle cx="153" cy="454.31" r="1.0"/><circle cx="157.3" cy="453.12" r="1.0"/><circle cx="161.6" cy="451.97" r="1.0"/><circle cx="165.9" cy="450.85" r="1.0"/><circle cx="170.2" cy="449.75" r="1.0"/><circle cx="174.5" cy="448.67" r="1.0"/><circle cx="178.8" cy="447.62" r="1.0"/><circle cx="183.1" cy="446.59" r="1.0"/><circle cx="187.4" cy="445.58" r="1.0"/><circle cx="191.7" cy="444.6" r="1.0"/><circle cx="196" cy="443.63" r="1.0"/><circle cx="200.3" cy="442.69" r="1.0"/><circle cx="204.6" cy="441.77" r="1.0"/><circle cx="208.9" cy="440.87" r="1.0"/><circle cx="213.2" cy="440" r="1.0"/><circle cx="217.5" cy="439.14" r="1.0"/><circle cx="221.8" cy="438.32" r="1.0"/><circle cx="226.1" cy="437.51" r="1.0"/><circle cx="230.4" cy="436.72" r="1.0"/><circle cx="234.7" cy="435.95" r="1.0"/><circle cx="239" cy="435.19" r="1.0"/><circle cx="243.3" cy="434.45" r="1.0"/><circle cx="247.6" cy="433.72" r="1.0"/><circle cx="251.9" cy="433.01" r="1.0"/><circle cx="256.2" cy="432.32" r="1.0"/><circle cx="260.5" cy="431.63" r="1.0"/><circle cx="264.8" cy="430.96" r="1.0"/><circle cx="269.1" cy="430.31" r="1.0"/><circle cx="273.4" cy="429.67" r="1.0"/><circle cx="277.7" cy="429.04" r="1.0"/><circle cx="282" cy="428.42" r="1.0"/><circle cx="286.3" cy="427.81" r="1.0"/><circle cx="290.6" cy="427.22" r="1.0"/><circle cx="294.9" cy="426.64" r="1.0"/><circle cx="299.2" cy="426.07" r="1.0"/><circle cx="303.5" cy="425.52" r="1.0"/><circle cx="307.8" cy="424.97" r="1.0"/><circle cx="312.1" cy="424.44" r="1.0"/><circle cx="316.4" cy="423.91" r="1.0"/><circle cx="320.7" cy="423.4" r="1.0"/><circle cx="325" cy="422.9" r="1.0"/></g>
<path d="M474.7 154.05V325.8M467.6 325.8H683" stroke="#000" stroke-width="1.7" fill="none"/><path d="M467.6 325.8H474.7M467.6 291.45H474.7M467.6 257.1H474.7M467.6 222.75H474.7M467.6 188.4H474.7M467.6 154.05H474.7M493.2 325.8V333M521.45 325.8V333M549.7 325.8V333M577.95 325.8V333M606.2 325.8V333M634.45 325.8V333M662.7 325.8V333" stroke="#000" stroke-width="1.7" fill="none"/><text x="465.55" y="330" font-size="11.5" text-anchor="end">0</text><text x="433.22 440 446.22 452.75" y="295.65" font-size="11.5">2×10</text><text x="460.3" y="292.45" font-size="8.5">4</text><text x="433.54 440 446.22 452.75" y="261.3" font-size="11.5">4×10</text><text x="460.3" y="258.1" font-size="8.5">4</text><text x="433.22 440 446.22 452.75" y="226.95" font-size="11.5">6×10</text><text x="460.3" y="223.75" font-size="8.5">4</text><text x="433.3 440 446.22 452.75" y="192.6" font-size="11.5">8×10</text><text x="460.3" y="189.4" font-size="8.5">4</text><text x="432.92 440 446.22 452.75" y="158.25" font-size="11.5">1×10</text><text x="460.16" y="155.05" font-size="8.5">5</text><rect x="484.8" y="187.09" width="16.8" height="138.71" fill="#8fdbbb" stroke="#3cb98a" stroke-width="1.7"/><path d="M493.2 185.8V187.6M488.7 185.8H497.7M488.7 187.6H497.7" stroke="#2a2a2a" stroke-width="1.1" fill="none"/><circle cx="485.4" cy="188.2" r="1.85" fill="#2e2e2e"/><circle cx="493.2" cy="185.7" r="1.85" fill="#2e2e2e"/><circle cx="500.9" cy="186.8" r="1.85" fill="#2e2e2e"/><text x="493.2" y="346.4" font-size="11.5" text-anchor="middle">5</text><rect x="513.05" y="248.8" width="16.8" height="77" fill="#e4a981" stroke="#e0692f" stroke-width="1.7"/><path d="M521.45 245.2V253.2M516.95 245.2H525.95M516.95 253.2H525.95" stroke="#2a2a2a" stroke-width="1.1" fill="none"/><circle cx="518.2" cy="245.4" r="1.85" fill="#2e2e2e"/><circle cx="525.2" cy="245.7" r="1.85" fill="#2e2e2e"/><circle cx="521.45" cy="253.6" r="1.85" fill="#2e2e2e"/><text x="521.45" y="346.4" font-size="11.5" text-anchor="middle">2.5</text><rect x="541.3" y="290.3" width="16.8" height="35.5" fill="#e9cf83" stroke="#e0a53a" stroke-width="1.7"/><path d="M549.7 288.9V290.4M545.2 288.9H554.2M545.2 290.4H554.2" stroke="#2a2a2a" stroke-width="1.1" fill="none"/><circle cx="542" cy="290.7" r="1.85" fill="#2e2e2e"/><circle cx="549.7" cy="288.8" r="1.85" fill="#2e2e2e"/><circle cx="557.6" cy="289.6" r="1.85" fill="#2e2e2e"/><text x="549.7" y="346.4" font-size="11.5" text-anchor="middle">1</text><rect x="569.55" y="301.02" width="16.8" height="24.78" fill="#b2e1f5" stroke="#7ccbee" stroke-width="1.7"/><path d="M577.95 299.1V302.3M573.15 299.1H582.75M573.15 302.3H582.75" stroke="#2a2a2a" stroke-width="1.1" fill="none"/><circle cx="570.35" cy="301.9" r="1.85" fill="#2e2e2e"/><circle cx="577.95" cy="298.8" r="1.85" fill="#2e2e2e"/><circle cx="585.55" cy="301.5" r="1.85" fill="#2e2e2e"/><text x="577.95" y="346.4" font-size="11.5" text-anchor="middle">0.5</text><rect x="597.8" y="312.3" width="16.8" height="13.5" fill="#f0f597" stroke="#dfe653" stroke-width="1.7"/><circle cx="598.6" cy="312.5" r="1.85" fill="#2e2e2e"/><circle cx="606.2" cy="312.4" r="1.85" fill="#2e2e2e"/><circle cx="613.8" cy="312.5" r="1.85" fill="#2e2e2e"/><text x="606.2" y="346.4" font-size="11.5" text-anchor="middle">0.1</text><rect x="626.05" y="313.61" width="16.8" height="12.19" fill="#84b8d7" stroke="#3f7fbd" stroke-width="1.7"/><circle cx="626.85" cy="313.8" r="1.85" fill="#2e2e2e"/><circle cx="634.45" cy="313.6" r="1.85" fill="#2e2e2e"/><circle cx="642.05" cy="313.8" r="1.85" fill="#2e2e2e"/><text x="634.45" y="346.4" font-size="11.5" text-anchor="middle">0.05</text><rect x="654.3" y="313.61" width="16.8" height="12.19" fill="#e2b3d6" stroke="#cf72b4" stroke-width="1.7"/><circle cx="655.1" cy="313.8" r="1.85" fill="#2e2e2e"/><circle cx="662.7" cy="312.8" r="1.85" fill="#2e2e2e"/><circle cx="670.3" cy="313.4" r="1.85" fill="#2e2e2e"/><text x="662.7" y="346.4" font-size="11.5" text-anchor="middle">0</text><text x="0" y="0" font-size="12.2" transform="translate(543.47 366.4) scale(1.0074 1)" font-weight="bold">ssDNA (nM)</text><text x="0" y="0" font-size="11.5" transform="translate(408 296.43) rotate(-90) scale(1.0747 1)" font-weight="bold">Fluorescence (a.u.)</text><text x="0" y="0" font-size="11.5" transform="translate(422.9 288.94) rotate(-90) scale(1.1151 1)" font-weight="bold">(time = 120 min)</text><path d="M484.8 179.3H587 M535.4 179.3V173.4H663V178.3 M605.8 286.8V281.5H663.4V286.8 M634.5 306.5V301.4H664.4V306.5" stroke="#3a3a3a" stroke-width="1.15" fill="none"/><path d="M589.3 160.7L589.3 166.3M586.88 162.1L591.72 164.9M586.88 164.9L591.72 162.1M596.33 160.7L596.33 166.3M593.91 162.1L598.75 164.9M593.91 164.9L598.75 162.1M603.36 160.7L603.36 166.3M600.94 162.1L605.78 164.9M600.94 164.9L605.78 162.1M610.39 160.7L610.39 166.3M607.97 162.1L612.81 164.9M607.97 164.9L612.81 162.1M634.5 269L634.5 274.6M632.08 270.4L636.92 273.2M632.08 273.2L636.92 270.4" stroke="#111" stroke-width="1.3" fill="none"/><text x="0" y="0" font-size="10.2" transform="translate(644.32 294.7) scale(0.9972 1)" fill="#3a3a3a">ns</text>
<path d="M474.7 389.4V562.8M467.6 562.8H683" stroke="#000" stroke-width="1.7" fill="none"/><path d="M467.6 562.8H474.7M467.6 519.45H474.7M467.6 476.1H474.7M467.6 432.75H474.7M467.6 389.4H474.7M493.5 562.8V570M521.85 562.8V570M550.2 562.8V570M578.55 562.8V570M606.9 562.8V570M635.25 562.8V570M663.6 562.8V570" stroke="#000" stroke-width="1.7" fill="none"/><text x="465.55" y="567" font-size="11.5" text-anchor="end">0</text><text x="432.92 440 446.22 452.75" y="523.65" font-size="11.5">1×10</text><text x="460.3" y="520.45" font-size="8.5">4</text><text x="433.22 440 446.22 452.75" y="480.3" font-size="11.5">2×10</text><text x="460.3" y="477.1" font-size="8.5">4</text><text x="433.36 440 446.22 452.75" y="436.95" font-size="11.5">3×10</text><text x="460.3" y="433.75" font-size="8.5">4</text><text x="433.54 440 446.22 452.75" y="393.6" font-size="11.5">4×10</text><text x="460.3" y="390.4" font-size="8.5">4</text><rect x="485.1" y="423.39" width="16.8" height="139.41" fill="#8fdbbb" stroke="#3cb98a" stroke-width="1.7"/><path d="M493.5 419.2V427M489 419.2H498M489 427H498" stroke="#2a2a2a" stroke-width="1.1" fill="none"/><circle cx="490.4" cy="419.6" r="1.85" fill="#2e2e2e"/><circle cx="496.7" cy="420.5" r="1.85" fill="#2e2e2e"/><circle cx="493.5" cy="426.8" r="1.85" fill="#2e2e2e"/><text x="493.5" y="583.4" font-size="11.5" text-anchor="middle">5</text><rect x="513.45" y="477.7" width="16.8" height="85.1" fill="#e4a981" stroke="#e0692f" stroke-width="1.7"/><circle cx="514.25" cy="477.7" r="1.85" fill="#2e2e2e"/><circle cx="521.85" cy="476.8" r="1.85" fill="#2e2e2e"/><circle cx="529.35" cy="477.7" r="1.85" fill="#2e2e2e"/><text x="521.85" y="583.4" font-size="11.5" text-anchor="middle">2.5</text><rect x="541.8" y="514.29" width="16.8" height="48.51" fill="#e9cf83" stroke="#e0a53a" stroke-width="1.7"/><path d="M550.2 511.8V515M545.7 511.8H554.7M545.7 515H554.7" stroke="#2a2a2a" stroke-width="1.1" fill="none"/><circle cx="542.6" cy="515.6" r="1.85" fill="#2e2e2e"/><circle cx="550.2" cy="512.3" r="1.85" fill="#2e2e2e"/><circle cx="557.8" cy="513.2" r="1.85" fill="#2e2e2e"/><text x="550.2" y="583.4" font-size="11.5" text-anchor="middle">1</text><rect x="570.15" y="524.78" width="16.8" height="38.02" fill="#b2e1f5" stroke="#7ccbee" stroke-width="1.7"/><path d="M578.55 522.6V525.6M574.05 522.6H583.05M574.05 525.6H583.05" stroke="#2a2a2a" stroke-width="1.1" fill="none"/><circle cx="570.95" cy="525.4" r="1.85" fill="#2e2e2e"/><circle cx="578.55" cy="522.8" r="1.85" fill="#2e2e2e"/><circle cx="586.15" cy="524.1" r="1.85" fill="#2e2e2e"/><text x="578.55" y="583.4" font-size="11.5" text-anchor="middle">0.5</text><rect x="598.5" y="529.12" width="16.8" height="33.68" fill="#f0f597" stroke="#dfe653" stroke-width="1.7"/><circle cx="599.2" cy="529.1" r="1.85" fill="#2e2e2e"/><circle cx="606.9" cy="529.1" r="1.85" fill="#2e2e2e"/><circle cx="614.5" cy="529.1" r="1.85" fill="#2e2e2e"/><text x="606.9" y="583.4" font-size="11.5" text-anchor="middle">0.1</text><rect x="626.85" y="531.72" width="16.8" height="31.08" fill="#84b8d7" stroke="#3f7fbd" stroke-width="1.7"/><circle cx="627.55" cy="531.7" r="1.85" fill="#2e2e2e"/><circle cx="635.25" cy="531.7" r="1.85" fill="#2e2e2e"/><circle cx="642.75" cy="531.7" r="1.85" fill="#2e2e2e"/><text x="635.25" y="583.4" font-size="11.5" text-anchor="middle">0.05</text><rect x="655.2" y="532.28" width="16.8" height="30.52" fill="#e2b3d6" stroke="#cf72b4" stroke-width="1.7"/><circle cx="655.9" cy="531.7" r="1.85" fill="#2e2e2e"/><circle cx="663.6" cy="531.1" r="1.85" fill="#2e2e2e"/><circle cx="671.5" cy="532" r="1.85" fill="#2e2e2e"/><text x="663.6" y="583.4" font-size="11.5" text-anchor="middle">0</text><text x="0" y="0" font-size="12.2" transform="translate(543.29 603.6) scale(1.0278 1)" font-weight="bold">dsDNA (nM)</text><text x="0" y="0" font-size="11.5" transform="translate(408 532.68) rotate(-90) scale(1.0747 1)" font-weight="bold">Fluorescence (a.u.)</text><text x="0" y="0" font-size="11.5" transform="translate(422.9 524.89) rotate(-90) scale(1.1151 1)" font-weight="bold">(time = 120 min)</text><path d="M484.9 412.1H587 M535.9 412.1V406.4H664V410.5" stroke="#6a6a6a" stroke-width="1.15" fill="none"/><path d="M606.3 505.8V500.2H664.8V505.8 M635.3 525.9V520H665.4V525.9" stroke="#3a3a3a" stroke-width="1.15" fill="none"/><path d="M590.8 393.8L590.8 399.4M588.38 395.2L593.22 398M588.38 398L593.22 395.2M597.83 393.8L597.83 399.4M595.41 395.2L600.25 398M595.41 398L600.25 395.2M604.86 393.8L604.86 399.4M602.44 395.2L607.28 398M602.44 398L607.28 395.2M611.89 393.8L611.89 399.4M609.47 395.2L614.31 398M609.47 398L614.31 395.2M628.3 487.5L628.3 493.1M625.88 488.9L630.72 491.7M625.88 491.7L630.72 488.9M635.9 487.5L635.9 493.1M633.48 488.9L638.32 491.7M633.48 491.7L638.32 488.9M643.5 487.5L643.5 493.1M641.08 488.9L645.92 491.7M641.08 491.7L645.92 488.9" stroke="#111" stroke-width="1.3" fill="none"/><text x="0" y="0" font-size="10.2" transform="translate(645.11 513.4) scale(1.0178 1)" fill="#3a3a3a">ns</text>
</svg></body></html>
